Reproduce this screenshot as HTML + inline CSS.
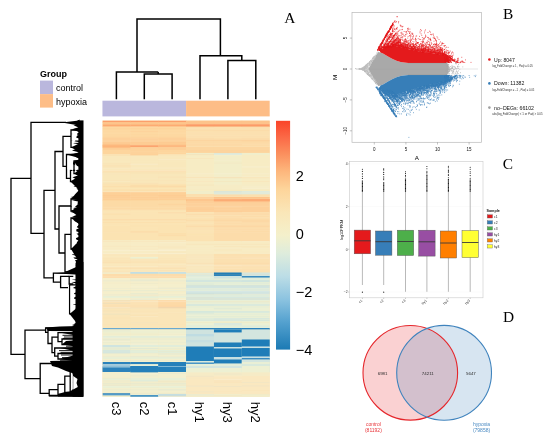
<!DOCTYPE html>
<html lang="en"><head><meta charset="utf-8"><title>Figure</title>
<style>
html,body{margin:0;padding:0;background:#fff;}
body{width:550px;height:441px;overflow:hidden;}
svg{display:block;}
text{font-family:"Liberation Sans",Arial,sans-serif;}
.ser{font-family:"Liberation Serif","Times New Roman",serif;}
</style></head><body>
<svg width="550" height="441" viewBox="0 0 550 441">
<rect x="0" y="0" width="550" height="441" fill="#ffffff"/>

<defs><clipPath id="hclip"><rect x="102.45" y="120.4" width="167.25" height="276.40"/></clipPath></defs>
<g id="heatmap" clip-path="url(#hclip)">
<rect x="101.45" y="119.4" width="169.25" height="278.40" fill="#fbe3b5"/>
<rect x="102.45" y="120.40" width="28.18" height="2.15" fill="#fc9f6b"/>
<rect x="102.45" y="122.20" width="28.18" height="2.65" fill="#fdc58b"/>
<rect x="102.45" y="124.50" width="28.18" height="2.35" fill="#fdab72"/>
<rect x="102.45" y="126.50" width="28.18" height="11.85" fill="#fdd8a1"/>
<rect x="102.45" y="138.00" width="28.18" height="4.35" fill="#fdd09a"/>
<rect x="102.45" y="142.00" width="28.18" height="3.35" fill="#fdca90"/>
<rect x="102.45" y="145.00" width="28.18" height="2.55" fill="#fdb880"/>
<rect x="102.45" y="147.20" width="28.18" height="3.15" fill="#fdcf97"/>
<rect x="102.45" y="150.00" width="28.18" height="4.65" fill="#fdd59d"/>
<rect x="102.45" y="154.30" width="28.18" height="16.05" fill="#f9e8bc"/>
<rect x="102.45" y="170.00" width="28.18" height="2.35" fill="#fbe1b1"/>
<rect x="102.45" y="172.00" width="28.18" height="12.35" fill="#f9e7ba"/>
<rect x="102.45" y="184.00" width="28.18" height="8.35" fill="#fbe1ae"/>
<rect x="102.45" y="192.00" width="28.18" height="8.35" fill="#fdd097"/>
<rect x="102.45" y="200.00" width="28.18" height="10.35" fill="#fcdaa5"/>
<rect x="102.45" y="210.00" width="28.18" height="15.35" fill="#fbe4b4"/>
<rect x="102.45" y="225.00" width="28.18" height="15.35" fill="#fbe3b2"/>
<rect x="102.45" y="240.00" width="28.18" height="14.35" fill="#f8ecc5"/>
<rect x="102.45" y="254.00" width="28.18" height="18.35" fill="#fae7bb"/>
<rect x="102.45" y="272.00" width="28.18" height="2.35" fill="#f3ecc8"/>
<rect x="102.45" y="274.00" width="28.18" height="4.35" fill="#fddcaa"/>
<rect x="102.45" y="278.00" width="28.18" height="18.35" fill="#f5efcc"/>
<rect x="102.45" y="296.00" width="28.18" height="2.35" fill="#eaf0d6"/>
<rect x="102.45" y="298.00" width="28.18" height="2.35" fill="#f5efcc"/>
<rect x="102.45" y="300.00" width="28.18" height="8.35" fill="#fbe2b4"/>
<rect x="102.45" y="308.00" width="28.18" height="20.35" fill="#fae5b8"/>
<rect x="102.45" y="328.00" width="28.18" height="1.65" fill="#6aa9cf"/>
<rect x="102.45" y="329.30" width="28.18" height="7.05" fill="#f0f0d0"/>
<rect x="102.45" y="336.00" width="28.18" height="2.35" fill="#e6efd7"/>
<rect x="102.45" y="338.00" width="28.18" height="7.35" fill="#f1efcf"/>
<rect x="102.45" y="345.00" width="28.18" height="2.35" fill="#e1edda"/>
<rect x="102.45" y="347.00" width="28.18" height="3.35" fill="#f0f0d0"/>
<rect x="102.45" y="350.00" width="28.18" height="3.35" fill="#e3eed9"/>
<rect x="102.45" y="353.00" width="28.18" height="4.35" fill="#f2efce"/>
<rect x="102.45" y="357.00" width="28.18" height="2.35" fill="#e8efd5"/>
<rect x="102.45" y="359.00" width="28.18" height="3.35" fill="#f3efce"/>
<rect x="102.45" y="362.00" width="28.18" height="2.65" fill="#2b82bb"/>
<rect x="102.45" y="364.30" width="28.18" height="2.35" fill="#d5e7de"/>
<rect x="102.45" y="366.30" width="28.18" height="5.65" fill="#2b82bb"/>
<rect x="102.45" y="371.60" width="28.18" height="6.75" fill="#f3efce"/>
<rect x="102.45" y="378.00" width="28.18" height="2.35" fill="#e9efd5"/>
<rect x="102.45" y="380.00" width="28.18" height="6.35" fill="#f4eecb"/>
<rect x="102.45" y="386.00" width="28.18" height="2.35" fill="#eaf0d5"/>
<rect x="102.45" y="388.00" width="28.18" height="5.35" fill="#f3efce"/>
<rect x="102.45" y="393.00" width="28.18" height="4.15" fill="#f0efd0"/>
<rect x="102.45" y="144.50" width="28.18" height="3.05" fill="#fdb57a"/>
<rect x="102.45" y="345.00" width="28.18" height="2.35" fill="#cfe4e0"/>
<rect x="102.45" y="350.00" width="28.18" height="3.35" fill="#d6e7de"/>
<rect x="102.45" y="364.30" width="28.18" height="2.35" fill="#9fc8dc"/>
<rect x="102.45" y="366.30" width="28.18" height="1.65" fill="#8fc0d8"/>
<rect x="102.45" y="367.60" width="28.18" height="4.35" fill="#2b82bb"/>
<rect x="102.45" y="393.00" width="28.18" height="2.35" fill="#4a96c6"/>
<rect x="130.32" y="120.40" width="28.18" height="2.15" fill="#fc9f6b"/>
<rect x="130.32" y="122.20" width="28.18" height="2.65" fill="#fdc58b"/>
<rect x="130.32" y="124.50" width="28.18" height="2.35" fill="#fdab72"/>
<rect x="130.32" y="126.50" width="28.18" height="11.85" fill="#fdd8a1"/>
<rect x="130.32" y="138.00" width="28.18" height="4.35" fill="#fdd09a"/>
<rect x="130.32" y="142.00" width="28.18" height="3.35" fill="#fdca90"/>
<rect x="130.32" y="145.00" width="28.18" height="2.55" fill="#fdb880"/>
<rect x="130.32" y="147.20" width="28.18" height="3.15" fill="#fdcf97"/>
<rect x="130.32" y="150.00" width="28.18" height="4.65" fill="#fdd59d"/>
<rect x="130.32" y="154.30" width="28.18" height="16.05" fill="#f9e8bc"/>
<rect x="130.32" y="170.00" width="28.18" height="2.35" fill="#fbe1b1"/>
<rect x="130.32" y="172.00" width="28.18" height="12.35" fill="#f9e7ba"/>
<rect x="130.32" y="184.00" width="28.18" height="8.35" fill="#fbe1ae"/>
<rect x="130.32" y="192.00" width="28.18" height="8.35" fill="#fdd097"/>
<rect x="130.32" y="200.00" width="28.18" height="10.35" fill="#fcdaa5"/>
<rect x="130.32" y="210.00" width="28.18" height="15.35" fill="#fbe4b4"/>
<rect x="130.32" y="225.00" width="28.18" height="15.35" fill="#fbe3b2"/>
<rect x="130.32" y="240.00" width="28.18" height="14.35" fill="#f8ecc5"/>
<rect x="130.32" y="254.00" width="28.18" height="18.35" fill="#fae7bb"/>
<rect x="130.32" y="272.00" width="28.18" height="2.35" fill="#f3ecc8"/>
<rect x="130.32" y="274.00" width="28.18" height="4.35" fill="#fddcaa"/>
<rect x="130.32" y="278.00" width="28.18" height="18.35" fill="#f5efcc"/>
<rect x="130.32" y="296.00" width="28.18" height="2.35" fill="#eaf0d6"/>
<rect x="130.32" y="298.00" width="28.18" height="2.35" fill="#f5efcc"/>
<rect x="130.32" y="300.00" width="28.18" height="8.35" fill="#fbe2b4"/>
<rect x="130.32" y="308.00" width="28.18" height="20.35" fill="#fae5b8"/>
<rect x="130.32" y="328.00" width="28.18" height="1.65" fill="#6aa9cf"/>
<rect x="130.32" y="329.30" width="28.18" height="7.05" fill="#f0f0d0"/>
<rect x="130.32" y="336.00" width="28.18" height="2.35" fill="#e6efd7"/>
<rect x="130.32" y="338.00" width="28.18" height="7.35" fill="#f1efcf"/>
<rect x="130.32" y="345.00" width="28.18" height="2.35" fill="#e1edda"/>
<rect x="130.32" y="347.00" width="28.18" height="3.35" fill="#f0f0d0"/>
<rect x="130.32" y="350.00" width="28.18" height="3.35" fill="#e3eed9"/>
<rect x="130.32" y="353.00" width="28.18" height="4.35" fill="#f2efce"/>
<rect x="130.32" y="357.00" width="28.18" height="2.35" fill="#e8efd5"/>
<rect x="130.32" y="359.00" width="28.18" height="3.35" fill="#f3efce"/>
<rect x="130.32" y="362.00" width="28.18" height="2.65" fill="#2b82bb"/>
<rect x="130.32" y="364.30" width="28.18" height="2.35" fill="#d5e7de"/>
<rect x="130.32" y="366.30" width="28.18" height="5.65" fill="#2b82bb"/>
<rect x="130.32" y="371.60" width="28.18" height="6.75" fill="#f3efce"/>
<rect x="130.32" y="378.00" width="28.18" height="2.35" fill="#e9efd5"/>
<rect x="130.32" y="380.00" width="28.18" height="6.35" fill="#f4eecb"/>
<rect x="130.32" y="386.00" width="28.18" height="2.35" fill="#eaf0d5"/>
<rect x="130.32" y="388.00" width="28.18" height="5.35" fill="#f3efce"/>
<rect x="130.32" y="393.00" width="28.18" height="4.15" fill="#f0efd0"/>
<rect x="130.32" y="145.00" width="28.18" height="2.55" fill="#fca36c"/>
<rect x="130.32" y="147.20" width="28.18" height="8.15" fill="#fdd29a"/>
<rect x="130.32" y="257.00" width="28.18" height="1.85" fill="#eef0d2"/>
<rect x="130.32" y="272.00" width="28.18" height="1.75" fill="#bcdbe2"/>
<rect x="130.32" y="364.30" width="28.18" height="2.05" fill="#e6efd8"/>
<rect x="130.32" y="366.00" width="28.18" height="6.35" fill="#2580ba"/>
<rect x="130.32" y="395.00" width="28.18" height="2.15" fill="#3f90c3"/>
<rect x="130.32" y="380.00" width="28.18" height="1.35" fill="#e3eed9"/>
<rect x="158.20" y="120.40" width="28.18" height="2.15" fill="#fc9f6b"/>
<rect x="158.20" y="122.20" width="28.18" height="2.65" fill="#fdc58b"/>
<rect x="158.20" y="124.50" width="28.18" height="2.35" fill="#fdab72"/>
<rect x="158.20" y="126.50" width="28.18" height="11.85" fill="#fdd8a1"/>
<rect x="158.20" y="138.00" width="28.18" height="4.35" fill="#fdd09a"/>
<rect x="158.20" y="142.00" width="28.18" height="3.35" fill="#fdca90"/>
<rect x="158.20" y="145.00" width="28.18" height="2.55" fill="#fdb880"/>
<rect x="158.20" y="147.20" width="28.18" height="3.15" fill="#fdcf97"/>
<rect x="158.20" y="150.00" width="28.18" height="4.65" fill="#fdd59d"/>
<rect x="158.20" y="154.30" width="28.18" height="16.05" fill="#f9e8bc"/>
<rect x="158.20" y="170.00" width="28.18" height="2.35" fill="#fbe1b1"/>
<rect x="158.20" y="172.00" width="28.18" height="12.35" fill="#f9e7ba"/>
<rect x="158.20" y="184.00" width="28.18" height="8.35" fill="#fbe1ae"/>
<rect x="158.20" y="192.00" width="28.18" height="8.35" fill="#fdd097"/>
<rect x="158.20" y="200.00" width="28.18" height="10.35" fill="#fcdaa5"/>
<rect x="158.20" y="210.00" width="28.18" height="15.35" fill="#fbe4b4"/>
<rect x="158.20" y="225.00" width="28.18" height="15.35" fill="#fbe3b2"/>
<rect x="158.20" y="240.00" width="28.18" height="14.35" fill="#f8ecc5"/>
<rect x="158.20" y="254.00" width="28.18" height="18.35" fill="#fae7bb"/>
<rect x="158.20" y="272.00" width="28.18" height="2.35" fill="#f3ecc8"/>
<rect x="158.20" y="274.00" width="28.18" height="4.35" fill="#fddcaa"/>
<rect x="158.20" y="278.00" width="28.18" height="18.35" fill="#f5efcc"/>
<rect x="158.20" y="296.00" width="28.18" height="2.35" fill="#eaf0d6"/>
<rect x="158.20" y="298.00" width="28.18" height="2.35" fill="#f5efcc"/>
<rect x="158.20" y="300.00" width="28.18" height="8.35" fill="#fbe2b4"/>
<rect x="158.20" y="308.00" width="28.18" height="20.35" fill="#fae5b8"/>
<rect x="158.20" y="328.00" width="28.18" height="1.65" fill="#6aa9cf"/>
<rect x="158.20" y="329.30" width="28.18" height="7.05" fill="#f0f0d0"/>
<rect x="158.20" y="336.00" width="28.18" height="2.35" fill="#e6efd7"/>
<rect x="158.20" y="338.00" width="28.18" height="7.35" fill="#f1efcf"/>
<rect x="158.20" y="345.00" width="28.18" height="2.35" fill="#e1edda"/>
<rect x="158.20" y="347.00" width="28.18" height="3.35" fill="#f0f0d0"/>
<rect x="158.20" y="350.00" width="28.18" height="3.35" fill="#e3eed9"/>
<rect x="158.20" y="353.00" width="28.18" height="4.35" fill="#f2efce"/>
<rect x="158.20" y="357.00" width="28.18" height="2.35" fill="#e8efd5"/>
<rect x="158.20" y="359.00" width="28.18" height="3.35" fill="#f3efce"/>
<rect x="158.20" y="362.00" width="28.18" height="2.65" fill="#2b82bb"/>
<rect x="158.20" y="364.30" width="28.18" height="2.35" fill="#d5e7de"/>
<rect x="158.20" y="366.30" width="28.18" height="5.65" fill="#2b82bb"/>
<rect x="158.20" y="371.60" width="28.18" height="6.75" fill="#f3efce"/>
<rect x="158.20" y="378.00" width="28.18" height="2.35" fill="#e9efd5"/>
<rect x="158.20" y="380.00" width="28.18" height="6.35" fill="#f4eecb"/>
<rect x="158.20" y="386.00" width="28.18" height="2.35" fill="#eaf0d5"/>
<rect x="158.20" y="388.00" width="28.18" height="5.35" fill="#f3efce"/>
<rect x="158.20" y="393.00" width="28.18" height="4.15" fill="#f0efd0"/>
<rect x="158.20" y="272.00" width="28.18" height="1.75" fill="#c4dee1"/>
<rect x="158.20" y="300.00" width="28.18" height="8.35" fill="#fdd9a6"/>
<rect x="158.20" y="362.00" width="28.18" height="4.35" fill="#2580ba"/>
<rect x="158.20" y="366.00" width="28.18" height="1.35" fill="#7db6d5"/>
<rect x="158.20" y="367.00" width="28.18" height="4.95" fill="#2580ba"/>
<rect x="158.20" y="394.00" width="28.18" height="2.35" fill="#c4dee1"/>
<rect x="186.07" y="120.40" width="28.18" height="4.25" fill="#fdc38b"/>
<rect x="186.07" y="124.30" width="28.18" height="2.65" fill="#fc9b67"/>
<rect x="186.07" y="126.60" width="28.18" height="13.75" fill="#fbe0b0"/>
<rect x="186.07" y="140.00" width="28.18" height="7.35" fill="#fcdaa6"/>
<rect x="186.07" y="147.00" width="28.18" height="6.35" fill="#fcd6a0"/>
<rect x="186.07" y="153.00" width="28.18" height="2.35" fill="#f1eecb"/>
<rect x="186.07" y="155.00" width="28.18" height="29.35" fill="#f7ecc4"/>
<rect x="186.07" y="184.00" width="28.18" height="7.35" fill="#f6ecc5"/>
<rect x="186.07" y="191.00" width="28.18" height="3.35" fill="#f1edc9"/>
<rect x="186.07" y="194.00" width="28.18" height="3.35" fill="#fbdfae"/>
<rect x="186.07" y="197.00" width="28.18" height="2.35" fill="#fdc389"/>
<rect x="186.07" y="199.00" width="28.18" height="2.35" fill="#fdb67c"/>
<rect x="186.07" y="201.00" width="28.18" height="11.35" fill="#fdd09a"/>
<rect x="186.07" y="212.00" width="28.18" height="29.35" fill="#fcdcaa"/>
<rect x="186.07" y="241.00" width="28.18" height="13.35" fill="#f8ebc3"/>
<rect x="186.07" y="254.00" width="28.18" height="18.85" fill="#fae3b6"/>
<rect x="186.07" y="272.50" width="28.18" height="3.85" fill="#e2eddc"/>
<rect x="186.07" y="276.00" width="28.18" height="4.35" fill="#e3eedb"/>
<rect x="186.07" y="280.00" width="28.18" height="2.35" fill="#d3e6df"/>
<rect x="186.07" y="282.00" width="28.18" height="3.35" fill="#e6efd8"/>
<rect x="186.07" y="285.00" width="28.18" height="3.35" fill="#d2e5e0"/>
<rect x="186.07" y="288.00" width="28.18" height="3.35" fill="#e2eddb"/>
<rect x="186.07" y="291.00" width="28.18" height="3.35" fill="#d0e4e0"/>
<rect x="186.07" y="294.00" width="28.18" height="3.35" fill="#dfecdc"/>
<rect x="186.07" y="297.00" width="28.18" height="3.35" fill="#d6e7de"/>
<rect x="186.07" y="300.00" width="28.18" height="4.35" fill="#e9efd6"/>
<rect x="186.07" y="304.00" width="28.18" height="2.35" fill="#dbeadc"/>
<rect x="186.07" y="306.00" width="28.18" height="5.35" fill="#ecf0d4"/>
<rect x="186.07" y="311.00" width="28.18" height="2.35" fill="#dcebdc"/>
<rect x="186.07" y="313.00" width="28.18" height="5.35" fill="#ebf0d4"/>
<rect x="186.07" y="318.00" width="28.18" height="3.35" fill="#e0ecda"/>
<rect x="186.07" y="321.00" width="28.18" height="4.35" fill="#ecf0d3"/>
<rect x="186.07" y="325.00" width="28.18" height="3.35" fill="#e3eed9"/>
<rect x="186.07" y="328.00" width="28.18" height="1.95" fill="#2b82bb"/>
<rect x="186.07" y="329.60" width="28.18" height="42.75" fill="#d3e5df"/>
<rect x="186.07" y="372.00" width="28.18" height="4.35" fill="#f6ebc6"/>
<rect x="186.07" y="376.00" width="28.18" height="18.35" fill="#fae8c0"/>
<rect x="186.07" y="394.00" width="28.18" height="3.15" fill="#f1edcb"/>
<rect x="186.07" y="197.00" width="28.18" height="2.35" fill="#fdd09a"/>
<rect x="186.07" y="199.00" width="28.18" height="2.35" fill="#fdc78e"/>
<rect x="186.07" y="212.00" width="28.18" height="29.35" fill="#fbe2b2"/>
<rect x="186.07" y="254.00" width="28.18" height="18.85" fill="#f9e7bd"/>
<rect x="186.07" y="329.60" width="28.18" height="17.25" fill="#cfe3df"/>
<rect x="186.07" y="334.00" width="28.18" height="2.35" fill="#bfdce2"/>
<rect x="186.07" y="340.00" width="28.18" height="2.35" fill="#c6dfe1"/>
<rect x="186.07" y="346.50" width="28.18" height="14.85" fill="#1f7db8"/>
<rect x="186.07" y="361.00" width="28.18" height="1.85" fill="#d9e9dc"/>
<rect x="186.07" y="362.50" width="28.18" height="1.85" fill="#4a96c6"/>
<rect x="186.07" y="364.00" width="28.18" height="2.35" fill="#e6efd8"/>
<rect x="186.07" y="366.00" width="28.18" height="2.35" fill="#d3e5df"/>
<rect x="186.07" y="368.00" width="28.18" height="4.35" fill="#edf0d3"/>
<rect x="213.95" y="120.40" width="28.18" height="4.25" fill="#fdc38b"/>
<rect x="213.95" y="124.30" width="28.18" height="2.65" fill="#fc9b67"/>
<rect x="213.95" y="126.60" width="28.18" height="13.75" fill="#fbe0b0"/>
<rect x="213.95" y="140.00" width="28.18" height="7.35" fill="#fcdaa6"/>
<rect x="213.95" y="147.00" width="28.18" height="6.35" fill="#fcd6a0"/>
<rect x="213.95" y="153.00" width="28.18" height="2.35" fill="#f1eecb"/>
<rect x="213.95" y="155.00" width="28.18" height="29.35" fill="#f7ecc4"/>
<rect x="213.95" y="184.00" width="28.18" height="7.35" fill="#f6ecc5"/>
<rect x="213.95" y="191.00" width="28.18" height="3.35" fill="#f1edc9"/>
<rect x="213.95" y="194.00" width="28.18" height="3.35" fill="#fbdfae"/>
<rect x="213.95" y="197.00" width="28.18" height="2.35" fill="#fdc389"/>
<rect x="213.95" y="199.00" width="28.18" height="2.35" fill="#fdb67c"/>
<rect x="213.95" y="201.00" width="28.18" height="11.35" fill="#fdd09a"/>
<rect x="213.95" y="212.00" width="28.18" height="29.35" fill="#fcdcaa"/>
<rect x="213.95" y="241.00" width="28.18" height="13.35" fill="#f8ebc3"/>
<rect x="213.95" y="254.00" width="28.18" height="18.85" fill="#fae3b6"/>
<rect x="213.95" y="272.50" width="28.18" height="3.85" fill="#e2eddc"/>
<rect x="213.95" y="276.00" width="28.18" height="4.35" fill="#e3eedb"/>
<rect x="213.95" y="280.00" width="28.18" height="2.35" fill="#d3e6df"/>
<rect x="213.95" y="282.00" width="28.18" height="3.35" fill="#e6efd8"/>
<rect x="213.95" y="285.00" width="28.18" height="3.35" fill="#d2e5e0"/>
<rect x="213.95" y="288.00" width="28.18" height="3.35" fill="#e2eddb"/>
<rect x="213.95" y="291.00" width="28.18" height="3.35" fill="#d0e4e0"/>
<rect x="213.95" y="294.00" width="28.18" height="3.35" fill="#dfecdc"/>
<rect x="213.95" y="297.00" width="28.18" height="3.35" fill="#d6e7de"/>
<rect x="213.95" y="300.00" width="28.18" height="4.35" fill="#e9efd6"/>
<rect x="213.95" y="304.00" width="28.18" height="2.35" fill="#dbeadc"/>
<rect x="213.95" y="306.00" width="28.18" height="5.35" fill="#ecf0d4"/>
<rect x="213.95" y="311.00" width="28.18" height="2.35" fill="#dcebdc"/>
<rect x="213.95" y="313.00" width="28.18" height="5.35" fill="#ebf0d4"/>
<rect x="213.95" y="318.00" width="28.18" height="3.35" fill="#e0ecda"/>
<rect x="213.95" y="321.00" width="28.18" height="4.35" fill="#ecf0d3"/>
<rect x="213.95" y="325.00" width="28.18" height="3.35" fill="#e3eed9"/>
<rect x="213.95" y="328.00" width="28.18" height="1.95" fill="#2b82bb"/>
<rect x="213.95" y="329.60" width="28.18" height="42.75" fill="#d3e5df"/>
<rect x="213.95" y="372.00" width="28.18" height="4.35" fill="#f6ebc6"/>
<rect x="213.95" y="376.00" width="28.18" height="18.35" fill="#fae8c0"/>
<rect x="213.95" y="394.00" width="28.18" height="3.15" fill="#f1edcb"/>
<rect x="213.95" y="153.00" width="28.18" height="2.35" fill="#dfeadb"/>
<rect x="213.95" y="155.00" width="28.18" height="29.35" fill="#f3eec9"/>
<rect x="213.95" y="191.00" width="28.18" height="3.35" fill="#d9e8dd"/>
<rect x="213.95" y="199.00" width="28.18" height="2.35" fill="#fcab74"/>
<rect x="213.95" y="254.00" width="28.18" height="18.85" fill="#fbe0b0"/>
<rect x="213.95" y="272.50" width="28.18" height="3.85" fill="#1f7db8"/>
<rect x="213.95" y="276.00" width="28.18" height="2.35" fill="#cfe3df"/>
<rect x="213.95" y="318.00" width="28.18" height="2.35" fill="#dbe9dd"/>
<rect x="213.95" y="323.00" width="28.18" height="2.35" fill="#dbe9dd"/>
<rect x="213.95" y="329.60" width="28.18" height="3.25" fill="#1f7db8"/>
<rect x="213.95" y="332.50" width="28.18" height="10.35" fill="#d3e5df"/>
<rect x="213.95" y="342.50" width="28.18" height="4.85" fill="#1f7db8"/>
<rect x="213.95" y="347.00" width="28.18" height="1.85" fill="#c8e0e1"/>
<rect x="213.95" y="348.50" width="28.18" height="8.85" fill="#1f7db8"/>
<rect x="213.95" y="357.00" width="28.18" height="2.85" fill="#c5dfe2"/>
<rect x="213.95" y="359.50" width="28.18" height="4.35" fill="#1f7db8"/>
<rect x="213.95" y="363.50" width="28.18" height="2.85" fill="#e2edda"/>
<rect x="213.95" y="366.00" width="28.18" height="2.35" fill="#d3e5df"/>
<rect x="213.95" y="368.00" width="28.18" height="4.35" fill="#edf0d3"/>
<rect x="241.82" y="120.40" width="28.18" height="4.25" fill="#fdc38b"/>
<rect x="241.82" y="124.30" width="28.18" height="2.65" fill="#fc9b67"/>
<rect x="241.82" y="126.60" width="28.18" height="13.75" fill="#fbe0b0"/>
<rect x="241.82" y="140.00" width="28.18" height="7.35" fill="#fcdaa6"/>
<rect x="241.82" y="147.00" width="28.18" height="6.35" fill="#fcd6a0"/>
<rect x="241.82" y="153.00" width="28.18" height="2.35" fill="#f1eecb"/>
<rect x="241.82" y="155.00" width="28.18" height="29.35" fill="#f7ecc4"/>
<rect x="241.82" y="184.00" width="28.18" height="7.35" fill="#f6ecc5"/>
<rect x="241.82" y="191.00" width="28.18" height="3.35" fill="#f1edc9"/>
<rect x="241.82" y="194.00" width="28.18" height="3.35" fill="#fbdfae"/>
<rect x="241.82" y="197.00" width="28.18" height="2.35" fill="#fdc389"/>
<rect x="241.82" y="199.00" width="28.18" height="2.35" fill="#fdb67c"/>
<rect x="241.82" y="201.00" width="28.18" height="11.35" fill="#fdd09a"/>
<rect x="241.82" y="212.00" width="28.18" height="29.35" fill="#fcdcaa"/>
<rect x="241.82" y="241.00" width="28.18" height="13.35" fill="#f8ebc3"/>
<rect x="241.82" y="254.00" width="28.18" height="18.85" fill="#fae3b6"/>
<rect x="241.82" y="272.50" width="28.18" height="3.85" fill="#e2eddc"/>
<rect x="241.82" y="276.00" width="28.18" height="4.35" fill="#e3eedb"/>
<rect x="241.82" y="280.00" width="28.18" height="2.35" fill="#d3e6df"/>
<rect x="241.82" y="282.00" width="28.18" height="3.35" fill="#e6efd8"/>
<rect x="241.82" y="285.00" width="28.18" height="3.35" fill="#d2e5e0"/>
<rect x="241.82" y="288.00" width="28.18" height="3.35" fill="#e2eddb"/>
<rect x="241.82" y="291.00" width="28.18" height="3.35" fill="#d0e4e0"/>
<rect x="241.82" y="294.00" width="28.18" height="3.35" fill="#dfecdc"/>
<rect x="241.82" y="297.00" width="28.18" height="3.35" fill="#d6e7de"/>
<rect x="241.82" y="300.00" width="28.18" height="4.35" fill="#e9efd6"/>
<rect x="241.82" y="304.00" width="28.18" height="2.35" fill="#dbeadc"/>
<rect x="241.82" y="306.00" width="28.18" height="5.35" fill="#ecf0d4"/>
<rect x="241.82" y="311.00" width="28.18" height="2.35" fill="#dcebdc"/>
<rect x="241.82" y="313.00" width="28.18" height="5.35" fill="#ebf0d4"/>
<rect x="241.82" y="318.00" width="28.18" height="3.35" fill="#e0ecda"/>
<rect x="241.82" y="321.00" width="28.18" height="4.35" fill="#ecf0d3"/>
<rect x="241.82" y="325.00" width="28.18" height="3.35" fill="#e3eed9"/>
<rect x="241.82" y="328.00" width="28.18" height="1.95" fill="#2b82bb"/>
<rect x="241.82" y="329.60" width="28.18" height="42.75" fill="#d3e5df"/>
<rect x="241.82" y="372.00" width="28.18" height="4.35" fill="#f6ebc6"/>
<rect x="241.82" y="376.00" width="28.18" height="18.35" fill="#fae8c0"/>
<rect x="241.82" y="394.00" width="28.18" height="3.15" fill="#f1edcb"/>
<rect x="241.82" y="191.00" width="28.18" height="3.35" fill="#dfeadb"/>
<rect x="241.82" y="199.00" width="28.18" height="2.35" fill="#fcab74"/>
<rect x="241.82" y="254.00" width="28.18" height="18.85" fill="#fbe0b0"/>
<rect x="241.82" y="272.50" width="28.18" height="3.85" fill="#d5e6de"/>
<rect x="241.82" y="276.00" width="28.18" height="1.55" fill="#3a8cc0"/>
<rect x="241.82" y="329.60" width="28.18" height="10.25" fill="#d3e5df"/>
<rect x="241.82" y="339.50" width="28.18" height="7.35" fill="#1f7db8"/>
<rect x="241.82" y="346.50" width="28.18" height="1.85" fill="#c8e0e1"/>
<rect x="241.82" y="348.00" width="28.18" height="8.85" fill="#1f7db8"/>
<rect x="241.82" y="356.50" width="28.18" height="1.85" fill="#c8e0e1"/>
<rect x="241.82" y="358.00" width="28.18" height="1.85" fill="#3a8cc0"/>
<rect x="241.82" y="359.50" width="28.18" height="2.85" fill="#d3e5df"/>
<rect x="241.82" y="362.00" width="28.18" height="2.35" fill="#e9efd5"/>
<rect x="241.82" y="364.00" width="28.18" height="2.35" fill="#d9e9dc"/>
<rect x="241.82" y="366.00" width="28.18" height="6.35" fill="#eef0d2"/>
<rect x="102.45" y="128.22" width="83.62" height="0.98" fill="#fdb97f" fill-opacity="0.15"/>
<rect x="102.45" y="130.12" width="83.62" height="1.00" fill="#fff3cf" fill-opacity="0.06"/>
<rect x="102.45" y="132.63" width="83.62" height="0.94" fill="#fff3cf" fill-opacity="0.16"/>
<rect x="102.45" y="136.97" width="83.62" height="0.93" fill="#fdb97f" fill-opacity="0.12"/>
<rect x="102.45" y="140.42" width="83.62" height="1.19" fill="#fff3cf" fill-opacity="0.11"/>
<rect x="102.45" y="142.59" width="83.62" height="0.87" fill="#fff3cf" fill-opacity="0.13"/>
<rect x="102.45" y="144.32" width="83.62" height="1.26" fill="#fff3cf" fill-opacity="0.08"/>
<rect x="102.45" y="154.73" width="83.62" height="0.89" fill="#fdc690" fill-opacity="0.09"/>
<rect x="102.45" y="160.70" width="83.62" height="1.06" fill="#fff6d8" fill-opacity="0.07"/>
<rect x="102.45" y="167.59" width="83.62" height="0.94" fill="#ffffff" fill-opacity="0.13"/>
<rect x="102.45" y="169.99" width="83.62" height="1.37" fill="#ffffff" fill-opacity="0.17"/>
<rect x="102.45" y="172.38" width="83.62" height="1.31" fill="#fdc690" fill-opacity="0.13"/>
<rect x="102.45" y="179.97" width="83.62" height="0.63" fill="#fdc690" fill-opacity="0.07"/>
<rect x="102.45" y="183.84" width="83.62" height="0.98" fill="#fff6d8" fill-opacity="0.12"/>
<rect x="102.45" y="186.04" width="83.62" height="0.62" fill="#fdc690" fill-opacity="0.15"/>
<rect x="102.45" y="188.10" width="83.62" height="1.08" fill="#fff6d8" fill-opacity="0.16"/>
<rect x="102.45" y="191.15" width="83.62" height="1.18" fill="#ffffff" fill-opacity="0.16"/>
<rect x="102.45" y="195.03" width="83.62" height="1.07" fill="#fdb97f" fill-opacity="0.14"/>
<rect x="102.45" y="197.43" width="83.62" height="0.71" fill="#fdb97f" fill-opacity="0.07"/>
<rect x="102.45" y="198.38" width="83.62" height="0.96" fill="#fff3cf" fill-opacity="0.13"/>
<rect x="102.45" y="199.71" width="83.62" height="1.03" fill="#fdb97f" fill-opacity="0.16"/>
<rect x="102.45" y="206.57" width="83.62" height="1.34" fill="#fff3cf" fill-opacity="0.10"/>
<rect x="102.45" y="208.90" width="83.62" height="1.28" fill="#fff3cf" fill-opacity="0.13"/>
<rect x="102.45" y="211.43" width="83.62" height="0.80" fill="#fff3cf" fill-opacity="0.16"/>
<rect x="102.45" y="212.84" width="83.62" height="1.00" fill="#fff3cf" fill-opacity="0.07"/>
<rect x="102.45" y="219.23" width="83.62" height="1.05" fill="#fdb97f" fill-opacity="0.17"/>
<rect x="102.45" y="222.18" width="83.62" height="0.66" fill="#fdb97f" fill-opacity="0.12"/>
<rect x="102.45" y="231.84" width="83.62" height="0.86" fill="#fff3cf" fill-opacity="0.07"/>
<rect x="102.45" y="240.82" width="83.62" height="1.15" fill="#fdc690" fill-opacity="0.10"/>
<rect x="102.45" y="245.87" width="83.62" height="0.61" fill="#fdc690" fill-opacity="0.16"/>
<rect x="102.45" y="247.68" width="83.62" height="0.67" fill="#fff6d8" fill-opacity="0.09"/>
<rect x="102.45" y="249.87" width="83.62" height="1.19" fill="#ffffff" fill-opacity="0.17"/>
<rect x="102.45" y="253.16" width="83.62" height="1.07" fill="#ffffff" fill-opacity="0.16"/>
<rect x="102.45" y="256.10" width="83.62" height="1.14" fill="#fff6d8" fill-opacity="0.14"/>
<rect x="102.45" y="258.45" width="83.62" height="0.73" fill="#fdc690" fill-opacity="0.11"/>
<rect x="102.45" y="260.23" width="83.62" height="0.82" fill="#fdc690" fill-opacity="0.13"/>
<rect x="102.45" y="261.40" width="83.62" height="1.38" fill="#fdc690" fill-opacity="0.15"/>
<rect x="102.45" y="264.29" width="83.62" height="1.16" fill="#fff6d8" fill-opacity="0.12"/>
<rect x="102.45" y="266.21" width="83.62" height="0.95" fill="#ffffff" fill-opacity="0.16"/>
<rect x="102.45" y="267.57" width="83.62" height="1.38" fill="#fdc690" fill-opacity="0.16"/>
<rect x="102.45" y="271.72" width="83.62" height="1.02" fill="#ffffff" fill-opacity="0.11"/>
<rect x="102.45" y="276.33" width="83.62" height="1.07" fill="#ffffff" fill-opacity="0.13"/>
<rect x="102.45" y="280.23" width="83.62" height="1.13" fill="#c5dfe6" fill-opacity="0.15"/>
<rect x="102.45" y="282.41" width="83.62" height="1.10" fill="#fdd49e" fill-opacity="0.08"/>
<rect x="102.45" y="288.05" width="83.62" height="0.88" fill="#c5dfe6" fill-opacity="0.09"/>
<rect x="102.45" y="290.24" width="83.62" height="0.92" fill="#a9d1e4" fill-opacity="0.16"/>
<rect x="102.45" y="294.26" width="83.62" height="1.02" fill="#a9d1e4" fill-opacity="0.08"/>
<rect x="102.45" y="295.54" width="83.62" height="0.88" fill="#a9d1e4" fill-opacity="0.06"/>
<rect x="102.45" y="298.93" width="83.62" height="0.62" fill="#ffffff" fill-opacity="0.08"/>
<rect x="102.45" y="300.84" width="83.62" height="1.32" fill="#ffffff" fill-opacity="0.17"/>
<rect x="102.45" y="305.57" width="83.62" height="0.61" fill="#fdd49e" fill-opacity="0.13"/>
<rect x="102.45" y="307.44" width="83.62" height="1.12" fill="#c5dfe6" fill-opacity="0.08"/>
<rect x="102.45" y="312.43" width="83.62" height="1.31" fill="#ffffff" fill-opacity="0.09"/>
<rect x="102.45" y="324.24" width="83.62" height="1.03" fill="#fdd49e" fill-opacity="0.07"/>
<rect x="102.45" y="331.61" width="83.62" height="0.81" fill="#c5dfe6" fill-opacity="0.08"/>
<rect x="102.45" y="333.72" width="83.62" height="0.87" fill="#fdd49e" fill-opacity="0.14"/>
<rect x="102.45" y="335.81" width="83.62" height="1.39" fill="#c5dfe6" fill-opacity="0.06"/>
<rect x="102.45" y="338.50" width="83.62" height="1.29" fill="#c5dfe6" fill-opacity="0.08"/>
<rect x="102.45" y="342.37" width="83.62" height="0.64" fill="#a9d1e4" fill-opacity="0.11"/>
<rect x="102.45" y="348.22" width="83.62" height="0.90" fill="#c5dfe6" fill-opacity="0.15"/>
<rect x="102.45" y="352.82" width="83.62" height="0.66" fill="#a9d1e4" fill-opacity="0.08"/>
<rect x="102.45" y="356.27" width="83.62" height="0.77" fill="#c5dfe6" fill-opacity="0.14"/>
<rect x="102.45" y="360.06" width="83.62" height="1.02" fill="#a9d1e4" fill-opacity="0.09"/>
<rect x="102.45" y="380.36" width="83.62" height="1.20" fill="#a9d1e4" fill-opacity="0.08"/>
<rect x="102.45" y="382.88" width="83.62" height="0.86" fill="#a9d1e4" fill-opacity="0.17"/>
<rect x="102.45" y="384.58" width="83.62" height="0.76" fill="#a9d1e4" fill-opacity="0.15"/>
<rect x="102.45" y="385.85" width="83.62" height="0.69" fill="#ffffff" fill-opacity="0.13"/>
<rect x="102.45" y="389.22" width="83.62" height="1.05" fill="#c5dfe6" fill-opacity="0.12"/>
<rect x="102.45" y="392.85" width="83.62" height="0.84" fill="#fdd49e" fill-opacity="0.16"/>
<rect x="102.45" y="394.48" width="83.62" height="1.06" fill="#c5dfe6" fill-opacity="0.14"/>
<rect x="186.07" y="130.04" width="83.62" height="1.02" fill="#fdb97f" fill-opacity="0.10"/>
<rect x="186.07" y="134.94" width="83.62" height="1.26" fill="#fff3cf" fill-opacity="0.08"/>
<rect x="186.07" y="138.34" width="83.62" height="0.79" fill="#fdb97f" fill-opacity="0.12"/>
<rect x="186.07" y="139.48" width="83.62" height="1.38" fill="#fdb97f" fill-opacity="0.14"/>
<rect x="186.07" y="143.03" width="83.62" height="1.22" fill="#fff3cf" fill-opacity="0.08"/>
<rect x="186.07" y="145.93" width="83.62" height="1.13" fill="#fff3cf" fill-opacity="0.17"/>
<rect x="186.07" y="150.58" width="83.62" height="0.89" fill="#fdb97f" fill-opacity="0.16"/>
<rect x="186.07" y="173.19" width="83.62" height="1.13" fill="#ffffff" fill-opacity="0.12"/>
<rect x="186.07" y="176.19" width="83.62" height="0.69" fill="#ffffff" fill-opacity="0.13"/>
<rect x="186.07" y="177.23" width="83.62" height="1.01" fill="#fdc690" fill-opacity="0.16"/>
<rect x="186.07" y="181.04" width="83.62" height="0.82" fill="#fdc690" fill-opacity="0.15"/>
<rect x="186.07" y="189.69" width="83.62" height="1.23" fill="#fdc690" fill-opacity="0.06"/>
<rect x="186.07" y="192.23" width="83.62" height="1.15" fill="#fff3cf" fill-opacity="0.15"/>
<rect x="186.07" y="197.98" width="83.62" height="1.21" fill="#fff3cf" fill-opacity="0.09"/>
<rect x="186.07" y="199.75" width="83.62" height="0.77" fill="#fdb97f" fill-opacity="0.14"/>
<rect x="186.07" y="201.74" width="83.62" height="0.80" fill="#fdb97f" fill-opacity="0.15"/>
<rect x="186.07" y="205.63" width="83.62" height="1.32" fill="#fff3cf" fill-opacity="0.14"/>
<rect x="186.07" y="212.20" width="83.62" height="1.17" fill="#fff3cf" fill-opacity="0.15"/>
<rect x="186.07" y="214.84" width="83.62" height="1.09" fill="#fff3cf" fill-opacity="0.17"/>
<rect x="186.07" y="216.86" width="83.62" height="1.18" fill="#fff3cf" fill-opacity="0.16"/>
<rect x="186.07" y="219.62" width="83.62" height="1.37" fill="#fdb97f" fill-opacity="0.10"/>
<rect x="186.07" y="222.04" width="83.62" height="0.92" fill="#fff3cf" fill-opacity="0.09"/>
<rect x="186.07" y="225.68" width="83.62" height="1.34" fill="#fdb97f" fill-opacity="0.13"/>
<rect x="186.07" y="228.01" width="83.62" height="1.22" fill="#fff3cf" fill-opacity="0.07"/>
<rect x="186.07" y="230.17" width="83.62" height="0.64" fill="#fff3cf" fill-opacity="0.16"/>
<rect x="186.07" y="231.65" width="83.62" height="0.98" fill="#fff3cf" fill-opacity="0.13"/>
<rect x="186.07" y="243.83" width="83.62" height="1.18" fill="#fdc690" fill-opacity="0.11"/>
<rect x="186.07" y="245.96" width="83.62" height="0.80" fill="#fff6d8" fill-opacity="0.13"/>
<rect x="186.07" y="247.83" width="83.62" height="0.69" fill="#ffffff" fill-opacity="0.08"/>
<rect x="186.07" y="249.48" width="83.62" height="1.16" fill="#fff6d8" fill-opacity="0.12"/>
<rect x="186.07" y="256.39" width="83.62" height="1.09" fill="#ffffff" fill-opacity="0.06"/>
<rect x="186.07" y="258.10" width="83.62" height="0.90" fill="#fff6d8" fill-opacity="0.13"/>
<rect x="186.07" y="262.85" width="83.62" height="1.14" fill="#fdc690" fill-opacity="0.12"/>
<rect x="186.07" y="264.90" width="83.62" height="0.81" fill="#ffffff" fill-opacity="0.16"/>
<rect x="186.07" y="267.62" width="83.62" height="1.06" fill="#fff6d8" fill-opacity="0.14"/>
<rect x="186.07" y="273.91" width="83.62" height="0.73" fill="#fdd49e" fill-opacity="0.11"/>
<rect x="186.07" y="274.91" width="83.62" height="0.73" fill="#c5dfe6" fill-opacity="0.13"/>
<rect x="186.07" y="278.07" width="83.62" height="1.14" fill="#a9d1e4" fill-opacity="0.07"/>
<rect x="186.07" y="282.73" width="83.62" height="0.87" fill="#c5dfe6" fill-opacity="0.09"/>
<rect x="186.07" y="284.94" width="83.62" height="1.33" fill="#fdd49e" fill-opacity="0.08"/>
<rect x="186.07" y="288.70" width="83.62" height="0.93" fill="#c5dfe6" fill-opacity="0.14"/>
<rect x="186.07" y="291.07" width="83.62" height="1.24" fill="#ffffff" fill-opacity="0.14"/>
<rect x="186.07" y="293.55" width="83.62" height="1.06" fill="#fdd49e" fill-opacity="0.09"/>
<rect x="186.07" y="298.35" width="83.62" height="1.22" fill="#fdd49e" fill-opacity="0.16"/>
<rect x="186.07" y="301.01" width="83.62" height="1.25" fill="#fdd49e" fill-opacity="0.14"/>
<rect x="186.07" y="306.42" width="83.62" height="1.36" fill="#c5dfe6" fill-opacity="0.10"/>
<rect x="186.07" y="311.02" width="83.62" height="1.10" fill="#c5dfe6" fill-opacity="0.11"/>
<rect x="186.07" y="313.59" width="83.62" height="1.20" fill="#c5dfe6" fill-opacity="0.16"/>
<rect x="186.07" y="315.99" width="83.62" height="1.35" fill="#a9d1e4" fill-opacity="0.09"/>
<rect x="186.07" y="319.78" width="83.62" height="0.87" fill="#a9d1e4" fill-opacity="0.12"/>
<rect x="186.07" y="322.15" width="83.62" height="0.83" fill="#fdd49e" fill-opacity="0.16"/>
<rect x="102.45" y="128.29" width="27.88" height="0.82" fill="#fff3cf" fill-opacity="0.06"/>
<rect x="102.45" y="143.17" width="27.88" height="0.62" fill="#fdb97f" fill-opacity="0.14"/>
<rect x="102.45" y="147.18" width="27.88" height="1.23" fill="#fdb97f" fill-opacity="0.17"/>
<rect x="102.45" y="155.10" width="27.88" height="0.60" fill="#fdc690" fill-opacity="0.16"/>
<rect x="102.45" y="163.41" width="27.88" height="1.14" fill="#fdc690" fill-opacity="0.10"/>
<rect x="102.45" y="165.03" width="27.88" height="1.26" fill="#fdc690" fill-opacity="0.16"/>
<rect x="102.45" y="166.54" width="27.88" height="1.23" fill="#fdc690" fill-opacity="0.13"/>
<rect x="102.45" y="170.34" width="27.88" height="0.72" fill="#fff6d8" fill-opacity="0.07"/>
<rect x="102.45" y="173.08" width="27.88" height="1.28" fill="#fff6d8" fill-opacity="0.11"/>
<rect x="102.45" y="180.98" width="27.88" height="0.94" fill="#ffffff" fill-opacity="0.09"/>
<rect x="102.45" y="182.55" width="27.88" height="1.26" fill="#fdc690" fill-opacity="0.10"/>
<rect x="102.45" y="185.02" width="27.88" height="0.88" fill="#fff6d8" fill-opacity="0.15"/>
<rect x="102.45" y="186.60" width="27.88" height="1.26" fill="#fff6d8" fill-opacity="0.12"/>
<rect x="102.45" y="206.69" width="27.88" height="0.84" fill="#fff3cf" fill-opacity="0.14"/>
<rect x="102.45" y="208.75" width="27.88" height="0.62" fill="#fff3cf" fill-opacity="0.16"/>
<rect x="102.45" y="211.83" width="27.88" height="0.66" fill="#fff3cf" fill-opacity="0.15"/>
<rect x="102.45" y="213.65" width="27.88" height="0.93" fill="#fdb97f" fill-opacity="0.14"/>
<rect x="102.45" y="224.87" width="27.88" height="1.23" fill="#fff3cf" fill-opacity="0.11"/>
<rect x="102.45" y="231.78" width="27.88" height="0.63" fill="#fff3cf" fill-opacity="0.07"/>
<rect x="102.45" y="250.86" width="27.88" height="0.88" fill="#fff6d8" fill-opacity="0.08"/>
<rect x="102.45" y="262.65" width="27.88" height="0.74" fill="#fdc690" fill-opacity="0.08"/>
<rect x="102.45" y="271.51" width="27.88" height="1.28" fill="#fdc690" fill-opacity="0.11"/>
<rect x="102.45" y="300.21" width="27.88" height="1.24" fill="#a9d1e4" fill-opacity="0.09"/>
<rect x="102.45" y="302.94" width="27.88" height="0.71" fill="#a9d1e4" fill-opacity="0.17"/>
<rect x="102.45" y="306.95" width="27.88" height="0.99" fill="#ffffff" fill-opacity="0.15"/>
<rect x="102.45" y="310.68" width="27.88" height="0.89" fill="#c5dfe6" fill-opacity="0.08"/>
<rect x="102.45" y="313.56" width="27.88" height="1.29" fill="#a9d1e4" fill-opacity="0.09"/>
<rect x="102.45" y="317.87" width="27.88" height="0.72" fill="#fdd49e" fill-opacity="0.09"/>
<rect x="102.45" y="330.30" width="27.88" height="1.25" fill="#c5dfe6" fill-opacity="0.14"/>
<rect x="102.45" y="337.08" width="27.88" height="1.33" fill="#ffffff" fill-opacity="0.12"/>
<rect x="102.45" y="339.36" width="27.88" height="1.07" fill="#a9d1e4" fill-opacity="0.11"/>
<rect x="102.45" y="340.98" width="27.88" height="1.17" fill="#ffffff" fill-opacity="0.11"/>
<rect x="102.45" y="348.70" width="27.88" height="1.10" fill="#a9d1e4" fill-opacity="0.17"/>
<rect x="102.45" y="360.50" width="27.88" height="1.34" fill="#c5dfe6" fill-opacity="0.09"/>
<rect x="102.45" y="377.90" width="27.88" height="0.87" fill="#fdd49e" fill-opacity="0.12"/>
<rect x="102.45" y="385.27" width="27.88" height="0.74" fill="#c5dfe6" fill-opacity="0.06"/>
<rect x="130.32" y="126.40" width="27.88" height="0.87" fill="#fff3cf" fill-opacity="0.15"/>
<rect x="130.32" y="130.87" width="27.88" height="1.29" fill="#fdb97f" fill-opacity="0.14"/>
<rect x="130.32" y="133.62" width="27.88" height="0.73" fill="#fdb97f" fill-opacity="0.08"/>
<rect x="130.32" y="138.07" width="27.88" height="1.39" fill="#fff3cf" fill-opacity="0.07"/>
<rect x="130.32" y="145.07" width="27.88" height="1.05" fill="#fff3cf" fill-opacity="0.15"/>
<rect x="130.32" y="146.86" width="27.88" height="1.31" fill="#fff3cf" fill-opacity="0.07"/>
<rect x="130.32" y="151.09" width="27.88" height="1.38" fill="#fff3cf" fill-opacity="0.08"/>
<rect x="130.32" y="163.62" width="27.88" height="1.26" fill="#ffffff" fill-opacity="0.14"/>
<rect x="130.32" y="177.87" width="27.88" height="1.25" fill="#fff6d8" fill-opacity="0.08"/>
<rect x="130.32" y="182.86" width="27.88" height="1.14" fill="#fdc690" fill-opacity="0.11"/>
<rect x="130.32" y="184.92" width="27.88" height="1.28" fill="#fdc690" fill-opacity="0.12"/>
<rect x="130.32" y="190.00" width="27.88" height="0.69" fill="#fdc690" fill-opacity="0.11"/>
<rect x="130.32" y="192.00" width="27.88" height="0.96" fill="#fff6d8" fill-opacity="0.09"/>
<rect x="130.32" y="195.50" width="27.88" height="1.10" fill="#fff3cf" fill-opacity="0.16"/>
<rect x="130.32" y="220.48" width="27.88" height="1.07" fill="#fff3cf" fill-opacity="0.16"/>
<rect x="130.32" y="227.05" width="27.88" height="1.33" fill="#fff3cf" fill-opacity="0.11"/>
<rect x="130.32" y="228.68" width="27.88" height="1.32" fill="#fff3cf" fill-opacity="0.08"/>
<rect x="130.32" y="231.40" width="27.88" height="1.17" fill="#fdb97f" fill-opacity="0.17"/>
<rect x="130.32" y="240.46" width="27.88" height="1.13" fill="#fff6d8" fill-opacity="0.14"/>
<rect x="130.32" y="244.63" width="27.88" height="0.73" fill="#fff6d8" fill-opacity="0.15"/>
<rect x="130.32" y="249.04" width="27.88" height="0.62" fill="#fdc690" fill-opacity="0.09"/>
<rect x="130.32" y="259.67" width="27.88" height="0.87" fill="#ffffff" fill-opacity="0.09"/>
<rect x="130.32" y="265.22" width="27.88" height="1.16" fill="#fff6d8" fill-opacity="0.09"/>
<rect x="130.32" y="273.38" width="27.88" height="1.15" fill="#fdd49e" fill-opacity="0.17"/>
<rect x="130.32" y="276.55" width="27.88" height="1.04" fill="#c5dfe6" fill-opacity="0.07"/>
<rect x="130.32" y="278.04" width="27.88" height="1.03" fill="#fdd49e" fill-opacity="0.08"/>
<rect x="130.32" y="279.37" width="27.88" height="1.16" fill="#a9d1e4" fill-opacity="0.16"/>
<rect x="130.32" y="282.98" width="27.88" height="0.76" fill="#a9d1e4" fill-opacity="0.07"/>
<rect x="130.32" y="286.16" width="27.88" height="1.30" fill="#ffffff" fill-opacity="0.11"/>
<rect x="130.32" y="293.06" width="27.88" height="1.00" fill="#a9d1e4" fill-opacity="0.14"/>
<rect x="130.32" y="295.46" width="27.88" height="0.81" fill="#fdd49e" fill-opacity="0.17"/>
<rect x="130.32" y="297.45" width="27.88" height="0.86" fill="#c5dfe6" fill-opacity="0.13"/>
<rect x="130.32" y="298.82" width="27.88" height="1.11" fill="#a9d1e4" fill-opacity="0.10"/>
<rect x="130.32" y="311.67" width="27.88" height="1.07" fill="#fdd49e" fill-opacity="0.07"/>
<rect x="130.32" y="315.28" width="27.88" height="0.61" fill="#fdd49e" fill-opacity="0.09"/>
<rect x="130.32" y="316.18" width="27.88" height="0.83" fill="#ffffff" fill-opacity="0.15"/>
<rect x="130.32" y="322.37" width="27.88" height="0.82" fill="#c5dfe6" fill-opacity="0.09"/>
<rect x="130.32" y="343.61" width="27.88" height="1.37" fill="#ffffff" fill-opacity="0.12"/>
<rect x="130.32" y="348.40" width="27.88" height="0.64" fill="#a9d1e4" fill-opacity="0.15"/>
<rect x="130.32" y="349.45" width="27.88" height="0.87" fill="#fdd49e" fill-opacity="0.09"/>
<rect x="130.32" y="355.99" width="27.88" height="1.29" fill="#c5dfe6" fill-opacity="0.08"/>
<rect x="130.32" y="373.08" width="27.88" height="1.25" fill="#ffffff" fill-opacity="0.16"/>
<rect x="130.32" y="375.22" width="27.88" height="1.04" fill="#c5dfe6" fill-opacity="0.09"/>
<rect x="130.32" y="387.19" width="27.88" height="0.72" fill="#fdd49e" fill-opacity="0.08"/>
<rect x="130.32" y="393.43" width="27.88" height="0.72" fill="#c5dfe6" fill-opacity="0.13"/>
<rect x="158.20" y="141.13" width="27.88" height="1.30" fill="#fdb97f" fill-opacity="0.08"/>
<rect x="158.20" y="143.95" width="27.88" height="1.21" fill="#fdb97f" fill-opacity="0.14"/>
<rect x="158.20" y="152.17" width="27.88" height="0.82" fill="#fff3cf" fill-opacity="0.09"/>
<rect x="158.20" y="159.06" width="27.88" height="1.17" fill="#ffffff" fill-opacity="0.13"/>
<rect x="158.20" y="176.72" width="27.88" height="0.96" fill="#fdc690" fill-opacity="0.10"/>
<rect x="158.20" y="185.86" width="27.88" height="0.68" fill="#fdc690" fill-opacity="0.16"/>
<rect x="158.20" y="199.61" width="27.88" height="1.15" fill="#fff3cf" fill-opacity="0.07"/>
<rect x="158.20" y="203.78" width="27.88" height="1.25" fill="#fdb97f" fill-opacity="0.15"/>
<rect x="158.20" y="212.11" width="27.88" height="1.24" fill="#fdb97f" fill-opacity="0.12"/>
<rect x="158.20" y="220.28" width="27.88" height="1.17" fill="#fff3cf" fill-opacity="0.08"/>
<rect x="158.20" y="233.03" width="27.88" height="1.37" fill="#fdb97f" fill-opacity="0.09"/>
<rect x="158.20" y="234.79" width="27.88" height="1.36" fill="#fdb97f" fill-opacity="0.15"/>
<rect x="158.20" y="242.34" width="27.88" height="0.68" fill="#ffffff" fill-opacity="0.11"/>
<rect x="158.20" y="244.56" width="27.88" height="0.64" fill="#fff6d8" fill-opacity="0.07"/>
<rect x="158.20" y="247.38" width="27.88" height="0.69" fill="#fdc690" fill-opacity="0.13"/>
<rect x="158.20" y="249.58" width="27.88" height="0.69" fill="#ffffff" fill-opacity="0.16"/>
<rect x="158.20" y="251.50" width="27.88" height="1.17" fill="#fdc690" fill-opacity="0.10"/>
<rect x="158.20" y="255.91" width="27.88" height="1.18" fill="#fdc690" fill-opacity="0.06"/>
<rect x="158.20" y="263.98" width="27.88" height="0.66" fill="#ffffff" fill-opacity="0.10"/>
<rect x="158.20" y="266.11" width="27.88" height="0.84" fill="#fdc690" fill-opacity="0.11"/>
<rect x="158.20" y="270.13" width="27.88" height="0.83" fill="#fdc690" fill-opacity="0.12"/>
<rect x="158.20" y="287.36" width="27.88" height="1.08" fill="#c5dfe6" fill-opacity="0.11"/>
<rect x="158.20" y="289.93" width="27.88" height="0.93" fill="#ffffff" fill-opacity="0.12"/>
<rect x="158.20" y="291.47" width="27.88" height="0.79" fill="#fdd49e" fill-opacity="0.08"/>
<rect x="158.20" y="299.24" width="27.88" height="0.97" fill="#ffffff" fill-opacity="0.17"/>
<rect x="158.20" y="306.91" width="27.88" height="0.76" fill="#a9d1e4" fill-opacity="0.15"/>
<rect x="158.20" y="313.11" width="27.88" height="0.62" fill="#fdd49e" fill-opacity="0.17"/>
<rect x="158.20" y="333.36" width="27.88" height="0.97" fill="#ffffff" fill-opacity="0.12"/>
<rect x="158.20" y="335.32" width="27.88" height="1.07" fill="#ffffff" fill-opacity="0.12"/>
<rect x="158.20" y="348.71" width="27.88" height="1.26" fill="#fdd49e" fill-opacity="0.10"/>
<rect x="158.20" y="351.26" width="27.88" height="0.74" fill="#fdd49e" fill-opacity="0.14"/>
<rect x="158.20" y="353.40" width="27.88" height="1.34" fill="#a9d1e4" fill-opacity="0.13"/>
<rect x="158.20" y="357.05" width="27.88" height="0.85" fill="#c5dfe6" fill-opacity="0.11"/>
<rect x="158.20" y="372.76" width="27.88" height="1.10" fill="#a9d1e4" fill-opacity="0.11"/>
<rect x="158.20" y="380.97" width="27.88" height="1.07" fill="#fdd49e" fill-opacity="0.11"/>
<rect x="158.20" y="389.25" width="27.88" height="1.14" fill="#a9d1e4" fill-opacity="0.07"/>
<rect x="158.20" y="393.80" width="27.88" height="0.85" fill="#c5dfe6" fill-opacity="0.14"/>
<rect x="158.20" y="395.20" width="27.88" height="0.62" fill="#fdd49e" fill-opacity="0.15"/>
<rect x="186.07" y="126.40" width="27.88" height="0.87" fill="#fdb97f" fill-opacity="0.11"/>
<rect x="186.07" y="128.17" width="27.88" height="1.08" fill="#fff3cf" fill-opacity="0.11"/>
<rect x="186.07" y="130.51" width="27.88" height="0.97" fill="#fff3cf" fill-opacity="0.08"/>
<rect x="186.07" y="132.23" width="27.88" height="0.72" fill="#fff3cf" fill-opacity="0.08"/>
<rect x="186.07" y="153.83" width="27.88" height="1.28" fill="#fdb97f" fill-opacity="0.16"/>
<rect x="186.07" y="158.03" width="27.88" height="0.88" fill="#fdc690" fill-opacity="0.13"/>
<rect x="186.07" y="176.40" width="27.88" height="1.07" fill="#fdc690" fill-opacity="0.11"/>
<rect x="186.07" y="177.91" width="27.88" height="0.67" fill="#ffffff" fill-opacity="0.14"/>
<rect x="186.07" y="180.76" width="27.88" height="1.12" fill="#ffffff" fill-opacity="0.06"/>
<rect x="186.07" y="183.13" width="27.88" height="0.88" fill="#fff6d8" fill-opacity="0.08"/>
<rect x="186.07" y="184.39" width="27.88" height="1.35" fill="#fdc690" fill-opacity="0.09"/>
<rect x="186.07" y="190.33" width="27.88" height="0.95" fill="#fff6d8" fill-opacity="0.16"/>
<rect x="186.07" y="196.29" width="27.88" height="1.33" fill="#fff3cf" fill-opacity="0.07"/>
<rect x="186.07" y="200.85" width="27.88" height="0.76" fill="#fff3cf" fill-opacity="0.10"/>
<rect x="186.07" y="202.68" width="27.88" height="0.80" fill="#fff3cf" fill-opacity="0.11"/>
<rect x="186.07" y="208.84" width="27.88" height="1.25" fill="#fdb97f" fill-opacity="0.08"/>
<rect x="186.07" y="211.40" width="27.88" height="1.31" fill="#fff3cf" fill-opacity="0.06"/>
<rect x="186.07" y="213.98" width="27.88" height="1.30" fill="#fdb97f" fill-opacity="0.10"/>
<rect x="186.07" y="223.02" width="27.88" height="0.98" fill="#fff3cf" fill-opacity="0.15"/>
<rect x="186.07" y="229.30" width="27.88" height="1.39" fill="#fff3cf" fill-opacity="0.11"/>
<rect x="186.07" y="231.01" width="27.88" height="1.02" fill="#fff3cf" fill-opacity="0.08"/>
<rect x="186.07" y="233.36" width="27.88" height="1.12" fill="#fff3cf" fill-opacity="0.08"/>
<rect x="186.07" y="234.97" width="27.88" height="0.66" fill="#fff3cf" fill-opacity="0.12"/>
<rect x="186.07" y="241.24" width="27.88" height="0.65" fill="#ffffff" fill-opacity="0.07"/>
<rect x="186.07" y="272.40" width="27.88" height="1.07" fill="#a9d1e4" fill-opacity="0.08"/>
<rect x="186.07" y="275.06" width="27.88" height="1.02" fill="#c5dfe6" fill-opacity="0.10"/>
<rect x="186.07" y="277.33" width="27.88" height="1.08" fill="#ffffff" fill-opacity="0.15"/>
<rect x="186.07" y="278.90" width="27.88" height="0.89" fill="#c5dfe6" fill-opacity="0.10"/>
<rect x="186.07" y="283.69" width="27.88" height="1.12" fill="#a9d1e4" fill-opacity="0.10"/>
<rect x="186.07" y="293.67" width="27.88" height="0.81" fill="#a9d1e4" fill-opacity="0.09"/>
<rect x="186.07" y="297.09" width="27.88" height="0.84" fill="#fdd49e" fill-opacity="0.12"/>
<rect x="186.07" y="304.50" width="27.88" height="1.15" fill="#c5dfe6" fill-opacity="0.08"/>
<rect x="186.07" y="311.20" width="27.88" height="0.69" fill="#a9d1e4" fill-opacity="0.08"/>
<rect x="186.07" y="312.62" width="27.88" height="1.20" fill="#a9d1e4" fill-opacity="0.15"/>
<rect x="186.07" y="315.00" width="27.88" height="0.83" fill="#ffffff" fill-opacity="0.07"/>
<rect x="213.95" y="132.65" width="27.88" height="0.92" fill="#fff3cf" fill-opacity="0.09"/>
<rect x="213.95" y="137.56" width="27.88" height="1.28" fill="#fff3cf" fill-opacity="0.10"/>
<rect x="213.95" y="152.54" width="27.88" height="0.68" fill="#fdb97f" fill-opacity="0.10"/>
<rect x="213.95" y="154.52" width="27.88" height="0.96" fill="#ffffff" fill-opacity="0.14"/>
<rect x="213.95" y="159.73" width="27.88" height="1.35" fill="#fff6d8" fill-opacity="0.11"/>
<rect x="213.95" y="162.63" width="27.88" height="0.81" fill="#fdc690" fill-opacity="0.11"/>
<rect x="213.95" y="176.73" width="27.88" height="1.33" fill="#fdc690" fill-opacity="0.13"/>
<rect x="213.95" y="182.78" width="27.88" height="0.93" fill="#fff6d8" fill-opacity="0.12"/>
<rect x="213.95" y="184.28" width="27.88" height="0.64" fill="#ffffff" fill-opacity="0.06"/>
<rect x="213.95" y="190.83" width="27.88" height="0.69" fill="#fdc690" fill-opacity="0.11"/>
<rect x="213.95" y="192.75" width="27.88" height="0.83" fill="#fff3cf" fill-opacity="0.16"/>
<rect x="213.95" y="195.10" width="27.88" height="0.79" fill="#fdb97f" fill-opacity="0.10"/>
<rect x="213.95" y="197.13" width="27.88" height="1.11" fill="#fdb97f" fill-opacity="0.10"/>
<rect x="213.95" y="198.77" width="27.88" height="1.04" fill="#fff3cf" fill-opacity="0.09"/>
<rect x="213.95" y="200.21" width="27.88" height="1.23" fill="#fdb97f" fill-opacity="0.10"/>
<rect x="213.95" y="206.33" width="27.88" height="1.35" fill="#fff3cf" fill-opacity="0.13"/>
<rect x="213.95" y="209.02" width="27.88" height="0.88" fill="#fff3cf" fill-opacity="0.08"/>
<rect x="213.95" y="211.31" width="27.88" height="1.30" fill="#fdb97f" fill-opacity="0.07"/>
<rect x="213.95" y="213.39" width="27.88" height="0.66" fill="#fff3cf" fill-opacity="0.07"/>
<rect x="213.95" y="214.72" width="27.88" height="0.92" fill="#fff3cf" fill-opacity="0.17"/>
<rect x="213.95" y="216.25" width="27.88" height="1.05" fill="#fff3cf" fill-opacity="0.08"/>
<rect x="213.95" y="223.96" width="27.88" height="0.85" fill="#fff3cf" fill-opacity="0.14"/>
<rect x="213.95" y="246.10" width="27.88" height="0.76" fill="#fdc690" fill-opacity="0.16"/>
<rect x="213.95" y="249.35" width="27.88" height="1.36" fill="#fdc690" fill-opacity="0.08"/>
<rect x="213.95" y="252.00" width="27.88" height="0.99" fill="#fff6d8" fill-opacity="0.12"/>
<rect x="213.95" y="265.38" width="27.88" height="1.21" fill="#ffffff" fill-opacity="0.13"/>
<rect x="213.95" y="267.94" width="27.88" height="0.87" fill="#ffffff" fill-opacity="0.07"/>
<rect x="213.95" y="273.90" width="27.88" height="0.86" fill="#fdd49e" fill-opacity="0.08"/>
<rect x="213.95" y="304.25" width="27.88" height="0.65" fill="#c5dfe6" fill-opacity="0.07"/>
<rect x="213.95" y="307.97" width="27.88" height="1.36" fill="#a9d1e4" fill-opacity="0.15"/>
<rect x="213.95" y="321.41" width="27.88" height="0.86" fill="#fdd49e" fill-opacity="0.14"/>
<rect x="241.82" y="126.40" width="27.88" height="0.73" fill="#fdb97f" fill-opacity="0.12"/>
<rect x="241.82" y="140.36" width="27.88" height="1.19" fill="#fdb97f" fill-opacity="0.10"/>
<rect x="241.82" y="144.02" width="27.88" height="1.26" fill="#fff3cf" fill-opacity="0.12"/>
<rect x="241.82" y="163.26" width="27.88" height="0.75" fill="#fff6d8" fill-opacity="0.12"/>
<rect x="241.82" y="166.37" width="27.88" height="1.15" fill="#ffffff" fill-opacity="0.17"/>
<rect x="241.82" y="186.56" width="27.88" height="0.82" fill="#ffffff" fill-opacity="0.16"/>
<rect x="241.82" y="187.78" width="27.88" height="1.01" fill="#ffffff" fill-opacity="0.16"/>
<rect x="241.82" y="194.38" width="27.88" height="0.76" fill="#fff3cf" fill-opacity="0.06"/>
<rect x="241.82" y="200.94" width="27.88" height="1.00" fill="#fdb97f" fill-opacity="0.12"/>
<rect x="241.82" y="217.48" width="27.88" height="1.10" fill="#fff3cf" fill-opacity="0.16"/>
<rect x="241.82" y="221.30" width="27.88" height="0.98" fill="#fdb97f" fill-opacity="0.13"/>
<rect x="241.82" y="223.67" width="27.88" height="0.64" fill="#fff3cf" fill-opacity="0.14"/>
<rect x="241.82" y="231.37" width="27.88" height="0.69" fill="#fdb97f" fill-opacity="0.06"/>
<rect x="241.82" y="240.64" width="27.88" height="1.30" fill="#fff6d8" fill-opacity="0.08"/>
<rect x="241.82" y="246.19" width="27.88" height="1.20" fill="#fdc690" fill-opacity="0.14"/>
<rect x="241.82" y="253.14" width="27.88" height="0.97" fill="#ffffff" fill-opacity="0.06"/>
<rect x="241.82" y="257.43" width="27.88" height="1.24" fill="#ffffff" fill-opacity="0.08"/>
<rect x="241.82" y="265.84" width="27.88" height="0.63" fill="#ffffff" fill-opacity="0.13"/>
<rect x="241.82" y="269.51" width="27.88" height="1.11" fill="#fff6d8" fill-opacity="0.06"/>
<rect x="241.82" y="279.92" width="27.88" height="0.74" fill="#c5dfe6" fill-opacity="0.13"/>
<rect x="241.82" y="280.91" width="27.88" height="0.81" fill="#a9d1e4" fill-opacity="0.13"/>
<rect x="241.82" y="282.89" width="27.88" height="0.72" fill="#c5dfe6" fill-opacity="0.09"/>
<rect x="241.82" y="289.42" width="27.88" height="1.36" fill="#c5dfe6" fill-opacity="0.09"/>
<rect x="241.82" y="293.22" width="27.88" height="1.33" fill="#ffffff" fill-opacity="0.12"/>
<rect x="241.82" y="318.11" width="27.88" height="0.87" fill="#a9d1e4" fill-opacity="0.16"/>
<rect x="241.82" y="320.15" width="27.88" height="1.12" fill="#a9d1e4" fill-opacity="0.09"/>
<rect x="241.82" y="326.17" width="27.88" height="0.83" fill="#c5dfe6" fill-opacity="0.12"/>
<rect x="186.07" y="375.91" width="27.88" height="0.97" fill="#c5dfe6" fill-opacity="0.13"/>
<rect x="186.07" y="377.61" width="27.88" height="1.17" fill="#c5dfe6" fill-opacity="0.06"/>
<rect x="186.07" y="385.70" width="27.88" height="1.14" fill="#c5dfe6" fill-opacity="0.13"/>
<rect x="186.07" y="391.21" width="27.88" height="1.19" fill="#c5dfe6" fill-opacity="0.10"/>
<rect x="186.07" y="394.19" width="27.88" height="1.21" fill="#c5dfe6" fill-opacity="0.13"/>
<rect x="213.95" y="373.53" width="27.88" height="0.97" fill="#a9d1e4" fill-opacity="0.09"/>
<rect x="213.95" y="375.96" width="27.88" height="0.68" fill="#ffffff" fill-opacity="0.09"/>
<rect x="213.95" y="378.80" width="27.88" height="1.36" fill="#ffffff" fill-opacity="0.14"/>
<rect x="213.95" y="380.37" width="27.88" height="0.78" fill="#fdd49e" fill-opacity="0.15"/>
<rect x="213.95" y="381.72" width="27.88" height="1.28" fill="#fdd49e" fill-opacity="0.14"/>
<rect x="213.95" y="386.11" width="27.88" height="0.86" fill="#a9d1e4" fill-opacity="0.11"/>
<rect x="213.95" y="391.35" width="27.88" height="0.67" fill="#fdd49e" fill-opacity="0.10"/>
<rect x="213.95" y="395.08" width="27.88" height="0.90" fill="#fdd49e" fill-opacity="0.15"/>
<rect x="241.82" y="382.13" width="27.88" height="0.72" fill="#a9d1e4" fill-opacity="0.12"/>
<rect x="241.82" y="385.32" width="27.88" height="1.17" fill="#a9d1e4" fill-opacity="0.08"/>
<rect x="241.82" y="390.14" width="27.88" height="0.80" fill="#fdd49e" fill-opacity="0.11"/>
<rect x="241.82" y="394.08" width="27.88" height="0.99" fill="#fdd49e" fill-opacity="0.07"/>
</g>
<rect x="102.45" y="100.7" width="83.62" height="15.7" fill="#bab7dd"/>
<rect x="186.07" y="100.7" width="83.62" height="15.7" fill="#fdbd87"/>
<g fill="none" stroke="#000" stroke-width="1.5" stroke-linejoin="miter" stroke-linecap="butt">
<path d="M116.4 99.2V72.1H158.2"/>
<path d="M144.3 99.2V74H172.1V99.2"/>
<path d="M158.2 74V72.1"/>
<path d="M137 72.1V19.1H220.4V55.7"/>
<path d="M200.0 99.2V55.7H241.8V60.6"/>
<path d="M227.9 99.2V60.6H255.8V99.2"/>
</g>
<defs><linearGradient id="cb" x1="0" y1="0" x2="0" y2="1">
<stop offset="0" stop-color="#fa4429"/><stop offset="0.07" stop-color="#fb6846"/><stop offset="0.14" stop-color="#fb8d5c"/>
<stop offset="0.22" stop-color="#fdb67c"/><stop offset="0.30" stop-color="#fdd59b"/><stop offset="0.40" stop-color="#fae6b8"/>
<stop offset="0.50" stop-color="#f4f0cb"/><stop offset="0.58" stop-color="#deecdc"/><stop offset="0.68" stop-color="#bcdde6"/>
<stop offset="0.78" stop-color="#8cc3e0"/><stop offset="0.88" stop-color="#54a1cf"/><stop offset="1" stop-color="#1c7ab4"/>
</linearGradient></defs>
<rect x="276" y="120.8" width="14.1" height="228.8" fill="url(#cb)"/>
<text x="295.8" y="180.9" font-size="14.5">2</text>
<text x="295.8" y="239.0" font-size="14.5">0</text>
<text x="295.8" y="297.2" font-size="14.5">−2</text>
<text x="295.8" y="355.4" font-size="14.5">−4</text>
<text transform="translate(111.8 401.7) rotate(90)" font-size="13">c3</text>
<text transform="translate(139.7 401.7) rotate(90)" font-size="13">c2</text>
<text transform="translate(167.5 401.7) rotate(90)" font-size="13">c1</text>
<text transform="translate(195.4 401.7) rotate(90)" font-size="13">hy1</text>
<text transform="translate(223.3 401.7) rotate(90)" font-size="13">hy3</text>
<text transform="translate(251.2 401.7) rotate(90)" font-size="13">hy2</text>
<text x="40" y="77.2" font-size="9" font-weight="bold">Group</text>
<rect x="40" y="80.6" width="13" height="13.5" fill="#bab7dd"/>
<rect x="40" y="94.1" width="13" height="13.5" fill="#fdbd87"/>
<text x="56" y="91.1" font-size="9">control</text>
<text x="56" y="104.6" font-size="9">hypoxia</text>
<g fill="none" stroke="#000" stroke-width="1.3" stroke-linejoin="miter">
<path d="M31 178.4H11V354.4H25"/>
<path d="M66 122.4H31V233.4H44"/>
<path d="M55 190.4H44V277.8H53.4"/>
<path d="M63 151.5H55V229H59"/>
<path d="M71 136.3H63V166.4H66.5"/>
<path d="M79 130H71V147.4H79"/>
<path d="M79 154.5H66.5V178.3H70.5"/>
<path d="M79 170.4H70.5V181.5H79"/>
<path d="M79 161H74V173.6H79"/>
<path d="M71 206H59V253H65"/>
<path d="M79 199H71V211H79"/>
<path d="M71 234.4H65V272H79"/>
<path d="M79 218H71V249H79"/>
<path d="M79 273.2H53.4V282.2H60.6"/>
<path d="M69.2 276.4H60.6V287.6H68"/>
<path d="M73.3 276.4H69.2V284H73.3"/>
<path d="M79 284.9H69.6V313.9H79"/>
<path d="M45.6 330.2H25V378.6H40.2"/>
<path d="M79 327.8H45.6V332.3H48"/>
<path d="M79 330.4H48V343.5H52"/>
<path d="M58 337.2H52V352.6H54.7"/>
<path d="M79 332.6H58V341.7H62"/>
<path d="M79 339H62V344.5H79"/>
<path d="M79 348H54.7V356.2H58"/>
<path d="M79 353.5H58V359H79"/>
<path d="M52 363.5H40.2V393.4H49.2"/>
<path d="M58 389.7H49.2V395.6H83"/>
<path d="M64.8 384.3H58V394.3H83"/>
<path d="M70.2 376.2H64.8V392.5H79"/>
<path d="M79 370.7H70.2V391.6H79"/>
</g>
<rect x="78.4" y="120.4" width="5.1" height="276.3" fill="#000"/>
<path fill="#000" d="M74.0 122.6L79.6 119.6V123.4ZM73.5 125.2L79.6 124.3V128.1ZM72.5 128.9L79.6 127.8V132.4ZM70.5 134.1L79.6 132.8V134.9ZM72.5 136.9L79.6 134.7V138.5ZM70.5 140.5L79.6 140.4V142.3ZM72.0 143.1L79.6 142.8V144.5ZM73.5 147.2L79.6 145.5V148.0ZM72.0 150.5L79.6 147.6V152.4ZM71.5 154.8L79.6 152.0V156.3ZM74.5 156.3L79.6 156.4V159.1ZM71.5 162.3L79.6 160.2V162.3ZM70.5 163.2L79.6 160.9V167.1ZM76.5 171.8L79.6 169.4V171.2ZM73.5 173.8L79.6 172.0V173.9ZM75.5 173.8L79.6 174.3V176.3ZM72.5 177.3L79.6 175.0V181.1ZM72.0 181.0L79.6 181.0V182.9ZM73.5 186.5L79.6 183.2V186.9ZM76.5 188.5L79.6 187.9V191.5ZM74.5 194.4L79.6 192.0V194.6ZM70.5 197.0L79.6 195.7V200.1ZM71.5 200.5L79.6 199.0V204.7ZM70.5 206.5L79.6 203.8V207.6ZM71.5 207.8L79.6 207.6V210.6ZM70.5 212.1L79.6 209.4V214.1ZM72.0 216.7L79.6 213.8V217.6ZM72.5 218.0L79.6 216.9V220.3ZM73.5 220.5L79.6 219.3V223.8ZM76.5 227.3L79.6 224.1V228.3ZM71.5 229.4L79.6 228.8V232.4ZM76.5 233.7L79.6 233.0V235.9ZM74.5 238.8L79.6 236.5V241.0ZM72.5 243.4L79.6 241.1V247.4ZM71.5 248.9L79.6 246.7V252.4ZM70.5 254.2L79.6 254.3V256.8ZM70.5 257.6L79.6 257.2V260.0ZM72.5 260.4L79.6 259.4V263.8ZM75.5 265.2L79.6 262.9V266.7ZM72.5 269.5L79.6 267.0V271.4ZM75.5 275.2L79.6 272.6V276.5ZM71.5 279.8L79.6 279.0V280.7ZM71.5 282.0L79.6 281.7V284.9ZM72.5 287.9L79.6 284.4V289.6ZM72.0 293.9L79.6 291.1V294.4ZM70.5 298.5L79.6 295.6V299.2ZM76.5 301.1L79.6 299.1V303.7ZM71.5 304.8L79.6 303.4V305.3ZM75.5 308.4L79.6 305.8V311.6ZM72.0 314.2L79.6 312.1V316.5ZM74.0 317.2L79.6 316.5V320.6ZM73.5 324.3L79.6 321.0V324.9ZM72.0 325.1L79.6 323.1V328.5ZM73.5 329.1L79.6 327.6V330.6ZM72.0 333.3L79.6 331.7V334.9ZM74.5 335.3L79.6 334.5V338.0ZM73.5 340.9L79.6 337.1V342.5ZM75.5 343.3L79.6 342.0V346.4ZM70.5 348.0L79.6 345.7V349.0ZM72.5 351.1L79.6 350.8V353.8ZM76.5 355.3L79.6 352.7V358.7ZM72.0 360.2L79.6 358.3V363.2ZM70.5 366.6L79.6 364.6V367.6ZM70.5 369.4L79.6 367.3V370.6ZM74.5 371.5L79.6 371.1V373.6ZM71.5 374.4L79.6 373.7V375.5ZM75.5 379.2L79.6 375.5V380.2ZM72.0 382.0L79.6 381.5V384.0ZM74.0 387.3L79.6 384.0V389.2ZM75.5 390.5L79.6 388.9V391.8Z"/>
<polygon fill="#000" points="62,122.4 79,120.4 79,125.5"/>
<polygon fill="#000" points="71,130 79,127 79,131"/>
<polygon fill="#000" points="71,147.4 79,143.5 79,151.5"/>
<polygon fill="#000" points="66.5,154.5 79,153 79,158"/>
<polygon fill="#000" points="74,161 79,159.5 79,163.5"/>
<polygon fill="#000" points="74,173.6 79,170 79,176.5"/>
<polygon fill="#000" points="70.5,181.5 79,176 79,190"/>
<polygon fill="#000" points="71,199 79,190 79,200"/>
<polygon fill="#000" points="71,211 79,206 79,217"/>
<polygon fill="#000" points="71,218 79,217 79,224"/>
<polygon fill="#000" points="71,249 79,240 79,262"/>
<polygon fill="#000" points="65,272 83,264 83,274"/>
<polygon fill="#000" points="53.4,273.2 79,271.5 79,274.8"/>
<polygon fill="#000" points="69.6,313.9 79,306 79,326"/>
<polygon fill="#000" points="45.6,327.6 60,326.6 79,326 79,331.2 48,331"/>
<polygon fill="#000" points="62,333 79,331 79,336"/>
<polygon fill="#000" points="62,344.5 66,341 79,340 79,347"/>
<polygon fill="#000" points="60,348 79,347 79,352"/>
<polygon fill="#000" points="60,359 79,354 79,362"/>
<polygon fill="#000" points="50,361 73,360.5 79,360.5 79,378 72,373 66,371 58,367.5 52,366"/>
<polygon fill="#000" points="70.2,391.6 79,384 79,396.6 58,396.6 58,394 64,392.3"/>
<polygon fill="#000" points="49,394.8 83,394.8 83,396.8 49,396.4"/>
<rect x="72.6" y="326" width="10.8" height="70.7" fill="#000"/>
<rect x="75.5" y="262" width="7.9" height="64" fill="#000"/>
<g stroke="#000" stroke-width="0.9" fill="none">
<path d="M62.5 335.3H73"/>
<path d="M64 337H73"/>
<path d="M66 346.2H73"/>
<path d="M59 350.6H73"/>
<path d="M60.5 352.4H73"/>
<path d="M61 355H73"/>
<path d="M62 357.6H73"/>
<path d="M63 338.4H73"/>
<path d="M60 360.2H73"/>
</g>
<polygon fill="#fff" points="72.2,131.5 77.5,133 76,139 72.2,145.8"/>
<polygon fill="#fff" points="67.6,156 73,159.5 73,171 71.5,169.5 67.6,169.3"/>
<polygon fill="#fff" points="75.2,163 78,168 75.2,172"/>
<polygon fill="#fff" points="72,200.2 78,201.5 77,205 72,209.8"/>
<polygon fill="#fff" points="72,220 77,226 75.5,236 77,243 72,247.8"/>
<polygon fill="#fff" points="66,236 70,236 70,250.5 76,262 72,268 66,270.5"/>
<polygon fill="#fff" points="70.6,286 73,286 74.5,296 73,306 70.6,312.5"/>
<polygon fill="#fff" points="71.2,373.5 72.6,374.5 72.6,389 71.2,390.4"/>
<polygon fill="#fff" points="73.2,376 77.5,379 76.5,383 77.8,387 73.2,389.5"/>
<text class="ser" x="284.3" y="23.1" font-size="15.4">A</text>
<text class="ser" x="503.1" y="18.8" font-size="15.4">B</text>
<text class="ser" x="502.7" y="169.3" font-size="15.4">C</text>
<text class="ser" x="503.1" y="321.8" font-size="15.4">D</text>
<rect x="352.0" y="12.4" width="129.4" height="129.9" fill="#fff" stroke="#b8b8b8" stroke-width="0.7"/>
<g stroke="#888" stroke-width="0.5">
<line x1="374.3" y1="142.3" x2="374.3" y2="144.5"/>
<line x1="405.9" y1="142.3" x2="405.9" y2="144.5"/>
<line x1="437.5" y1="142.3" x2="437.5" y2="144.5"/>
<line x1="469.1" y1="142.3" x2="469.1" y2="144.5"/>
<line x1="352.0" y1="38.1" x2="349.8" y2="38.1"/>
<line x1="352.0" y1="69.0" x2="349.8" y2="69.0"/>
<line x1="352.0" y1="99.9" x2="349.8" y2="99.9"/>
<line x1="352.0" y1="130.8" x2="349.8" y2="130.8"/>
</g>
<text x="374.3" y="151.2" font-size="4.5" text-anchor="middle" fill="#111">0</text>
<text x="405.9" y="151.2" font-size="4.5" text-anchor="middle" fill="#111">5</text>
<text x="437.5" y="151.2" font-size="4.5" text-anchor="middle" fill="#111">10</text>
<text x="469.1" y="151.2" font-size="4.5" text-anchor="middle" fill="#111">15</text>
<text transform="translate(346.8 38.1) rotate(-90)" font-size="4.5" text-anchor="middle" fill="#111">5</text>
<text transform="translate(346.8 69.0) rotate(-90)" font-size="4.5" text-anchor="middle" fill="#111">0</text>
<text transform="translate(346.8 99.9) rotate(-90)" font-size="4.5" text-anchor="middle" fill="#111">−5</text>
<text transform="translate(346.8 130.8) rotate(-90)" font-size="4.5" text-anchor="middle" fill="#111">−10</text>
<text transform="translate(337.2 77.4) rotate(-90)" font-size="6.2" text-anchor="middle">M</text>
<text x="416.9" y="160.1" font-size="6.2" text-anchor="middle">A</text>
<polygon fill="#a9a9a9" points="368.6,68.4 370.6,65.0 373.0,60.4 375.6,56.0 378.3,52.0 380.5,52.4 383.0,53.5 388.0,56.4 392.6,58.9 396.5,60.7 400.6,62.0 404.0,62.6 408.5,62.9 447.0,62.9 448.5,66.0 448.5,72.0 447.0,75.1 408.5,75.1 404.0,75.4 400.6,76.0 396.5,77.3 392.6,79.1 388.0,81.6 383.0,84.5 380.5,85.6 378.3,86.0 375.6,82.0 373.0,77.6 370.6,73.0 368.6,69.6"/>
<polygon fill="#e41a1c" points="379.5,50.6 381.5,49.4 384.0,48.2 388.0,46.6 392.0,45.6 396.0,46.0 400.0,47.0 408.0,49.0 417.0,51.0 425.0,52.2 433.0,53.2 440.0,54.2 444.0,55.0 447.0,57.2 448.8,60.0 449.4,62.9 408.5,62.9 404.0,62.6 400.6,62.0 396.5,60.7 392.6,58.9 388.0,56.4 383.0,53.5 380.5,52.4"/>
<polygon fill="#377eb8" points="379.5,87.6 381.5,89.6 384.0,91.8 388.0,93.8 392.0,94.8 396.0,94.8 400.0,93.6 408.0,91.0 417.0,88.0 425.0,86.0 433.0,84.0 440.0,82.4 444.0,81.4 447.0,79.6 448.8,77.4 449.4,75.1 408.5,75.1 404.0,75.4 400.6,76.0 396.5,77.3 392.6,79.1 388.0,81.6 383.0,84.5 380.5,85.6"/>
<line x1="355.5" y1="69" x2="478" y2="69" stroke="#cfcfcf" stroke-width="0.5"/>
<line x1="368" y1="69" x2="449" y2="69" stroke="#8c8c8c" stroke-width="0.55"/>
<line x1="408" y1="63.3" x2="447" y2="63.3" stroke="#9a9a9a" stroke-width="0.4"/>
<line x1="408" y1="74.7" x2="447" y2="74.7" stroke="#9a9a9a" stroke-width="0.4"/>
<path d="M402.3 44.0h.01M438.2 53.6h.01M425.1 47.0h.01M441.6 49.7h.01M436.9 53.6h.01M417.7 46.4h.01M388.6 45.1h.01M440.4 50.7h.01M416.8 43.9h.01M436.3 46.6h.01M449.0 51.3h.01M435.2 53.1h.01M419.2 48.5h.01M428.5 49.8h.01M386.5 47.0h.01M398.3 38.1h.01M394.3 28.6h.01M409.8 31.8h.01M416.0 44.9h.01M442.1 50.8h.01M439.8 50.4h.01M421.3 49.5h.01M408.5 43.5h.01M432.7 49.4h.01M435.8 47.6h.01M441.0 49.5h.01M424.7 48.7h.01M381.2 46.5h.01M423.7 48.9h.01M414.7 46.8h.01M437.4 51.0h.01M454.7 59.0h.01M451.0 58.3h.01M397.4 34.8h.01M389.0 44.0h.01M412.0 33.0h.01M423.2 50.9h.01M430.9 40.8h.01M406.3 40.8h.01M391.7 34.4h.01M405.6 44.3h.01M420.1 31.2h.01M394.3 21.5h.01M421.6 30.7h.01M400.8 32.9h.01M444.0 53.6h.01M412.4 49.4h.01M436.7 43.6h.01M435.5 44.9h.01M395.8 35.9h.01M430.4 32.1h.01M439.0 52.5h.01M398.3 31.3h.01M395.8 22.4h.01M463.5 62.0h.01M405.3 44.2h.01M425.3 52.2h.01M384.4 47.5h.01M428.2 49.7h.01M413.4 43.2h.01M414.4 47.3h.01M391.1 37.1h.01M416.3 49.3h.01M415.6 38.5h.01M416.3 43.1h.01M421.3 46.2h.01M447.9 53.6h.01M424.2 45.9h.01M447.1 55.2h.01M420.7 29.5h.01M415.7 38.2h.01M404.7 47.2h.01M444.4 51.9h.01M389.1 46.3h.01M393.1 45.3h.01M388.0 35.0h.01M396.6 28.3h.01M435.7 53.4h.01M449.1 52.8h.01M410.8 35.9h.01M402.7 45.5h.01M439.4 51.4h.01M415.0 47.1h.01M420.0 45.9h.01M452.2 55.9h.01M429.7 45.0h.01M422.4 50.2h.01M405.2 41.7h.01M409.9 40.3h.01M448.1 50.8h.01M436.3 52.2h.01M381.3 48.2h.01M395.9 42.4h.01M426.0 47.3h.01M433.6 44.5h.01M424.8 50.0h.01M402.7 45.4h.01M397.3 27.4h.01M420.5 50.8h.01M407.6 42.3h.01M445.2 54.2h.01M421.7 49.8h.01M436.3 50.6h.01M432.3 50.8h.01M444.2 46.2h.01M408.0 40.9h.01M444.9 55.2h.01M427.4 42.7h.01M445.5 55.3h.01M442.3 53.7h.01M392.9 35.8h.01M437.5 47.7h.01M423.9 50.5h.01M451.5 58.4h.01M416.6 50.6h.01M428.5 41.4h.01M413.7 46.2h.01M432.1 49.9h.01M405.5 47.5h.01M397.1 41.0h.01M393.4 44.0h.01M430.7 51.2h.01M403.5 47.6h.01M433.2 46.2h.01M408.3 44.0h.01M437.9 53.9h.01M427.2 47.7h.01M398.0 46.1h.01M428.0 48.1h.01M434.5 38.6h.01M392.3 38.3h.01M384.0 47.2h.01M386.6 34.1h.01M410.7 40.4h.01M392.2 38.8h.01M451.5 53.7h.01M421.8 46.4h.01M389.7 45.7h.01M398.6 40.6h.01M447.5 55.8h.01M442.6 51.9h.01M396.7 33.8h.01M415.0 44.6h.01M437.5 53.8h.01M399.5 45.6h.01M424.1 50.2h.01M395.7 44.3h.01M381.7 48.8h.01M427.0 52.3h.01M422.9 42.2h.01M384.0 46.2h.01M400.5 42.0h.01M395.1 42.1h.01M391.1 36.8h.01M406.0 43.8h.01M403.5 35.0h.01M440.7 53.8h.01M437.0 53.6h.01M387.9 46.4h.01M387.6 36.7h.01M390.2 43.4h.01M396.1 33.6h.01M419.6 39.3h.01M426.1 50.9h.01M448.6 55.0h.01M394.1 45.6h.01M424.8 43.1h.01M388.5 35.9h.01M442.0 44.9h.01M423.1 41.4h.01M411.7 49.2h.01M418.1 50.3h.01M434.8 52.9h.01M442.6 54.5h.01M394.0 38.5h.01M400.6 42.9h.01M397.4 45.6h.01M459.9 62.8h.01M424.6 38.0h.01M439.3 46.3h.01M438.1 53.3h.01M431.8 43.6h.01M386.6 43.9h.01M386.0 41.2h.01M420.4 44.1h.01M411.8 49.2h.01M400.4 26.0h.01M420.0 32.8h.01M407.6 47.3h.01M407.8 41.2h.01M406.0 45.3h.01M407.2 46.1h.01M419.3 50.0h.01M394.8 40.4h.01M430.5 49.6h.01M424.4 38.9h.01M408.1 36.4h.01M380.0 48.5h.01M431.5 52.6h.01M399.0 41.4h.01M397.1 40.7h.01M412.2 43.7h.01M388.2 45.0h.01M404.5 43.9h.01M440.5 41.9h.01M392.3 34.0h.01M428.9 46.6h.01M406.4 48.5h.01M442.0 43.5h.01M424.8 31.1h.01M419.6 49.9h.01M432.6 50.1h.01M423.6 47.2h.01M409.9 45.3h.01M382.0 46.7h.01M426.8 42.8h.01M444.5 52.4h.01M442.1 42.8h.01M396.8 29.0h.01M417.5 49.9h.01M403.5 47.3h.01M401.5 46.7h.01M430.6 39.4h.01M440.8 54.3h.01M406.7 48.1h.01M405.2 46.0h.01M432.5 51.2h.01M442.4 54.4h.01M453.4 60.2h.01M431.4 52.2h.01M417.2 48.4h.01M391.9 44.7h.01M413.5 49.6h.01M413.7 45.0h.01M447.9 58.6h.01M412.8 38.1h.01M434.7 48.4h.01M422.3 37.5h.01M398.6 22.8h.01M395.5 43.9h.01M419.1 50.3h.01M446.2 50.9h.01M388.1 43.4h.01M393.3 42.6h.01M428.6 49.7h.01M391.1 36.8h.01M412.4 47.4h.01M425.8 35.9h.01M422.3 51.2h.01M420.7 39.5h.01M416.6 47.3h.01M400.0 29.9h.01M421.2 41.7h.01M414.4 44.8h.01M418.1 42.7h.01M393.3 42.0h.01M439.2 53.6h.01M410.4 49.3h.01M431.8 47.5h.01M422.3 50.8h.01M425.6 49.6h.01M397.6 37.7h.01M387.3 44.6h.01M397.0 41.4h.01M429.1 45.2h.01M443.7 54.5h.01M387.2 39.7h.01M379.9 49.1h.01M411.5 43.0h.01M417.4 42.9h.01M430.3 52.2h.01M401.8 32.3h.01M443.8 54.0h.01M408.3 48.0h.01M431.1 49.7h.01M399.0 41.8h.01M409.6 33.5h.01M400.2 25.1h.01M417.9 49.5h.01M382.7 47.2h.01M384.6 45.9h.01M396.4 43.2h.01M447.0 56.8h.01M400.6 40.6h.01M403.1 45.9h.01M444.7 54.8h.01M452.6 57.6h.01M437.6 50.4h.01M435.7 39.1h.01M446.2 49.9h.01M396.5 42.1h.01M389.5 34.5h.01M425.8 36.6h.01M422.8 44.9h.01M433.2 37.7h.01M452.3 60.1h.01M445.5 54.4h.01M425.9 50.0h.01M447.4 55.8h.01M389.7 43.8h.01M450.0 56.6h.01M398.2 38.7h.01M389.5 42.2h.01M398.8 45.1h.01M388.9 31.3h.01M417.9 48.6h.01M409.8 48.4h.01M397.2 39.3h.01M411.0 48.3h.01M444.4 52.4h.01M415.5 39.8h.01M428.4 48.4h.01M432.3 49.6h.01M383.6 44.6h.01M399.7 41.2h.01M450.3 58.5h.01M433.6 35.8h.01M451.4 56.7h.01M444.5 54.7h.01M392.4 29.4h.01M392.5 45.0h.01M423.7 44.4h.01M404.8 48.2h.01M406.6 47.2h.01M382.2 47.8h.01M444.4 54.3h.01M423.3 48.6h.01M401.5 46.6h.01M409.9 43.3h.01M437.6 53.7h.01M381.6 48.7h.01M434.8 44.0h.01M437.9 46.2h.01M430.1 50.1h.01M428.0 32.5h.01M436.0 50.0h.01M391.0 41.4h.01M403.3 43.7h.01M380.1 50.2h.01M445.2 53.3h.01M408.4 48.0h.01M397.8 33.6h.01M431.0 47.7h.01M440.8 48.7h.01M429.2 52.7h.01M448.7 55.6h.01M424.6 51.9h.01M409.0 46.9h.01M425.4 48.7h.01M425.7 49.0h.01M384.7 44.3h.01M438.9 52.9h.01M388.6 42.4h.01M404.0 41.7h.01M412.3 49.6h.01M414.6 48.0h.01M400.5 45.4h.01M438.4 46.6h.01M425.9 46.8h.01M421.4 47.6h.01M442.3 43.3h.01M398.0 31.7h.01M392.5 28.2h.01M407.7 30.8h.01M421.6 49.8h.01M409.9 29.1h.01M406.6 32.1h.01M402.9 26.4h.01M401.5 44.2h.01M408.7 43.2h.01M433.9 48.5h.01M408.2 28.2h.01M385.9 46.4h.01M394.2 25.9h.01M390.4 45.6h.01M407.2 47.1h.01M444.2 45.7h.01M418.1 42.7h.01M437.2 53.0h.01M435.4 40.4h.01M412.7 46.9h.01M390.2 41.0h.01M418.9 48.5h.01M426.7 47.9h.01M390.8 33.2h.01M426.0 46.6h.01M414.4 50.3h.01M432.4 48.2h.01M423.3 41.9h.01M397.2 45.1h.01M386.7 38.1h.01M416.1 39.6h.01M423.2 39.2h.01M387.9 37.0h.01M406.5 48.4h.01M399.7 46.6h.01M429.0 50.9h.01M439.8 47.8h.01M380.4 48.1h.01M436.5 42.2h.01M422.6 43.0h.01M392.4 33.5h.01M402.0 29.7h.01M421.9 45.9h.01M447.5 56.2h.01M408.0 28.9h.01M418.7 46.7h.01M400.2 43.6h.01M442.7 49.9h.01M438.0 50.0h.01M430.3 39.6h.01M397.8 43.1h.01M462.2 60.9h.01M422.4 50.0h.01M404.7 42.0h.01M435.5 52.3h.01M398.6 41.3h.01M434.4 46.2h.01M379.1 49.3h.01M410.2 41.9h.01M436.3 41.6h.01M429.8 52.3h.01M433.2 47.9h.01M413.0 49.8h.01M394.5 29.5h.01M435.9 45.8h.01M441.2 47.6h.01M401.4 46.2h.01M407.0 33.7h.01M393.6 35.9h.01M405.2 47.3h.01M396.7 45.2h.01M451.9 52.4h.01M461.8 61.9h.01M415.1 41.8h.01M413.9 39.4h.01M413.8 48.2h.01M465.5 59.9h.01M426.6 45.8h.01M425.5 35.1h.01M436.5 40.5h.01M395.2 29.9h.01M417.4 42.6h.01M399.6 39.9h.01M408.7 40.8h.01M416.1 46.2h.01M442.0 53.0h.01M453.4 60.2h.01M443.0 49.2h.01M430.3 46.2h.01M423.0 40.8h.01M435.0 46.5h.01M435.8 53.4h.01M436.3 47.7h.01M391.3 43.7h.01M425.3 48.4h.01M430.3 38.3h.01M380.2 48.6h.01M384.8 38.7h.01M440.2 45.5h.01M413.8 46.2h.01M386.0 40.6h.01M390.3 33.3h.01M436.8 45.2h.01M440.4 51.6h.01M379.2 50.1h.01M456.7 62.2h.01M423.6 38.3h.01M399.3 42.3h.01M400.8 37.6h.01M434.0 41.2h.01M398.3 45.8h.01M413.3 44.7h.01M394.0 37.1h.01M406.2 48.1h.01M385.8 43.0h.01M381.5 45.0h.01M433.6 53.1h.01M387.8 43.4h.01M435.5 39.3h.01M405.2 36.2h.01M419.0 50.3h.01M402.0 36.9h.01M402.2 34.4h.01M447.5 50.7h.01M437.0 36.8h.01M410.0 47.1h.01M381.7 45.7h.01M449.0 56.6h.01M394.3 43.9h.01M451.5 56.5h.01M432.6 51.9h.01M404.1 46.2h.01M417.1 43.4h.01M398.1 38.6h.01M424.4 32.9h.01M393.1 37.9h.01M471.0 62.4h.01M448.2 56.8h.01M431.3 50.3h.01M448.7 52.6h.01M404.5 47.3h.01M401.7 37.7h.01M389.6 42.0h.01M448.7 52.6h.01M436.3 44.1h.01M386.2 46.3h.01M383.2 46.0h.01M439.0 39.5h.01M455.8 62.8h.01M389.3 39.0h.01M396.3 35.3h.01M440.3 49.0h.01M442.6 51.7h.01M452.6 56.0h.01M403.7 47.3h.01M408.6 31.6h.01M392.4 44.4h.01M453.3 60.6h.01M403.2 43.3h.01M412.4 34.4h.01M402.9 33.8h.01M410.0 36.1h.01M415.5 49.8h.01M412.5 48.0h.01M433.3 48.2h.01M428.2 51.0h.01M434.3 37.1h.01M398.8 38.1h.01M418.2 38.7h.01M423.5 48.7h.01M408.7 44.7h.01M398.1 38.6h.01M426.3 49.5h.01M398.4 42.5h.01M429.1 49.6h.01M393.6 31.2h.01M405.8 45.7h.01M422.5 50.5h.01M430.2 47.1h.01M400.2 44.0h.01M419.8 44.6h.01M404.1 47.1h.01M392.4 41.3h.01M407.0 48.1h.01M387.6 45.9h.01M438.0 50.4h.01M405.8 39.4h.01M384.6 46.0h.01M428.6 44.5h.01M404.0 44.7h.01M400.7 46.1h.01M400.1 42.8h.01M454.0 60.0h.01M428.5 49.4h.01M399.8 35.8h.01M438.1 50.3h.01M439.1 53.9h.01M412.5 38.9h.01M413.3 45.7h.01M422.1 50.9h.01M435.5 44.4h.01M430.8 40.0h.01M422.9 49.3h.01M384.2 38.7h.01M394.1 43.9h.01M415.5 50.5h.01M427.0 44.0h.01M438.1 50.5h.01M441.2 50.9h.01M428.2 50.4h.01M397.9 39.6h.01M418.1 48.0h.01M400.2 39.8h.01M387.7 44.7h.01M412.8 33.7h.01M441.4 50.5h.01M445.2 48.0h.01M399.4 39.4h.01M413.6 35.3h.01M446.3 52.0h.01M398.1 45.3h.01M406.2 41.6h.01M424.5 51.3h.01M422.1 44.3h.01M422.6 46.8h.01M382.1 43.7h.01M390.8 33.2h.01M415.6 43.6h.01M449.4 52.7h.01M409.4 46.5h.01M452.4 57.0h.01M410.4 37.9h.01M398.7 21.6h.01M402.2 26.9h.01M404.8 45.6h.01M425.3 43.8h.01M447.6 58.0h.01M452.5 58.5h.01M382.3 49.0h.01M405.7 46.0h.01M403.3 44.4h.01M429.6 31.2h.01M385.9 47.1h.01M443.3 54.9h.01M440.6 47.4h.01M408.6 46.9h.01M450.0 57.8h.01M413.8 46.6h.01M437.1 47.7h.01M430.9 52.3h.01M450.0 55.6h.01M399.1 30.6h.01M442.7 53.5h.01M415.8 46.8h.01M398.6 35.3h.01M452.7 60.2h.01M410.2 39.3h.01M397.6 38.8h.01M413.2 45.6h.01M429.2 48.8h.01M397.2 32.7h.01M432.5 46.3h.01M407.9 43.0h.01M405.7 31.9h.01M436.3 44.2h.01M435.3 52.2h.01M442.8 43.6h.01M441.9 53.8h.01M430.4 34.4h.01M428.2 51.9h.01M385.9 41.3h.01M410.9 36.0h.01M458.2 58.9h.01M439.1 49.8h.01M389.6 29.5h.01M412.0 33.7h.01M425.1 51.6h.01M398.6 39.8h.01M430.6 45.4h.01M389.0 46.2h.01M425.6 29.9h.01M414.5 45.8h.01M411.1 47.2h.01M448.0 56.1h.01M415.2 48.1h.01M453.2 53.0h.01M405.0 39.4h.01M402.7 40.1h.01M405.4 40.9h.01M396.0 37.5h.01M426.7 50.7h.01M428.8 51.0h.01M423.6 48.2h.01M415.5 50.0h.01M428.5 51.9h.01M434.7 52.1h.01M408.8 45.6h.01M383.6 39.9h.01M413.5 44.0h.01M429.2 38.8h.01M413.2 46.1h.01M440.4 52.7h.01M440.2 51.1h.01M436.5 45.1h.01M437.4 48.9h.01M405.6 39.0h.01M424.3 49.1h.01M433.0 46.7h.01M397.0 45.0h.01M431.3 44.3h.01M401.5 42.4h.01M428.4 37.6h.01M401.4 44.5h.01M401.9 44.8h.01M431.2 42.6h.01M415.8 40.2h.01M450.0 57.7h.01M413.4 49.7h.01M392.8 44.1h.01M400.4 44.5h.01M393.8 27.1h.01M442.6 53.9h.01M422.0 49.3h.01M445.1 54.6h.01M395.9 34.4h.01M444.2 45.8h.01M412.4 46.3h.01M408.8 48.6h.01M437.6 45.3h.01M400.7 46.0h.01M414.3 46.9h.01M411.3 40.3h.01M410.0 43.0h.01M420.2 46.5h.01M450.7 58.2h.01M382.8 42.4h.01M437.8 38.0h.01M400.8 45.1h.01M437.4 50.9h.01M449.7 57.6h.01M452.4 52.0h.01M439.1 49.9h.01M426.9 52.0h.01M431.6 34.7h.01M450.7 57.8h.01M443.3 53.8h.01M403.5 47.4h.01M393.8 38.4h.01M387.7 38.3h.01M423.6 49.9h.01M433.7 50.3h.01M379.2 50.2h.01M403.0 46.5h.01M406.8 47.6h.01M433.9 44.7h.01M443.8 43.5h.01M427.6 41.0h.01M392.0 33.5h.01M381.4 44.9h.01M447.1 52.9h.01M458.2 58.2h.01M438.4 45.1h.01M443.7 54.7h.01M396.6 21.6h.01M425.2 50.6h.01M403.8 45.4h.01M410.4 44.9h.01M427.4 37.4h.01M438.8 53.0h.01M425.1 49.7h.01M405.0 43.1h.01M379.7 49.4h.01M448.5 59.5h.01M402.9 36.6h.01M401.3 44.7h.01M396.7 39.6h.01M429.5 44.5h.01M432.2 34.2h.01M403.3 46.4h.01M436.6 51.4h.01M404.2 41.2h.01M448.7 56.5h.01M392.4 36.1h.01M391.7 44.8h.01M425.7 46.8h.01M421.8 47.4h.01M395.9 28.9h.01M413.9 48.4h.01M414.4 49.7h.01M379.7 49.2h.01M390.0 36.7h.01M456.9 61.3h.01M422.9 39.8h.01M406.3 40.1h.01M405.1 43.8h.01M398.1 41.5h.01M401.3 35.2h.01M451.8 59.6h.01M453.8 60.9h.01M404.1 31.5h.01M429.9 51.5h.01M442.3 48.3h.01M415.9 44.7h.01M387.1 41.6h.01M383.5 47.3h.01M422.8 42.0h.01M405.8 34.4h.01M426.3 42.3h.01M393.5 39.8h.01M434.6 51.3h.01M425.4 51.4h.01M433.9 50.2h.01M423.4 49.4h.01M399.9 46.9h.01M413.6 36.7h.01M380.1 48.5h.01M402.7 44.1h.01M393.2 40.0h.01M451.0 55.2h.01M424.5 48.1h.01M421.8 44.3h.01M384.2 45.1h.01M412.3 36.8h.01M411.0 46.1h.01M397.0 28.9h.01M403.7 45.6h.01M414.4 50.3h.01M402.9 47.4h.01M449.6 56.1h.01M386.6 34.9h.01M406.2 42.3h.01M391.7 35.1h.01M401.9 26.6h.01M382.0 47.2h.01M438.7 44.5h.01M410.4 41.9h.01M446.6 47.2h.01M407.4 44.7h.01M425.2 50.0h.01M390.6 37.6h.01M445.5 51.8h.01M448.5 53.7h.01M435.9 50.8h.01M444.5 53.4h.01M410.8 34.3h.01M407.6 46.7h.01M453.1 60.7h.01M428.8 39.0h.01M416.6 45.5h.01M442.9 50.4h.01M396.5 28.4h.01M408.9 45.1h.01M422.2 45.5h.01M395.4 45.0h.01M414.7 47.2h.01M411.6 39.3h.01M429.1 49.6h.01M434.8 38.4h.01M413.4 48.3h.01M407.5 28.7h.01M388.3 43.0h.01M390.9 37.2h.01M393.0 32.1h.01M379.0 50.2h.01M421.1 33.9h.01M383.0 46.9h.01M441.9 51.9h.01M434.7 50.8h.01M380.1 48.0h.01M401.5 44.1h.01M413.6 45.1h.01M448.1 47.4h.01M407.8 38.1h.01M415.6 44.6h.01M403.4 47.8h.01M409.1 46.4h.01M408.2 29.7h.01M384.7 43.0h.01M446.1 55.0h.01M406.0 44.4h.01M439.0 51.8h.01M401.0 25.6h.01M397.0 36.0h.01M401.7 33.3h.01M393.6 45.0h.01M379.1 49.2h.01M425.5 37.3h.01M447.2 56.0h.01M404.0 40.9h.01M405.9 34.7h.01M410.4 46.0h.01M425.6 48.4h.01M409.7 35.5h.01M447.2 57.2h.01M450.3 51.1h.01M442.4 48.3h.01M437.0 44.2h.01M411.3 49.4h.01M439.1 53.1h.01M406.4 31.7h.01M410.2 31.9h.01M407.4 48.6h.01M380.0 47.4h.01M438.5 48.1h.01M418.1 49.2h.01M404.0 43.6h.01M411.5 46.4h.01M433.4 34.1h.01M438.1 51.3h.01M391.6 35.3h.01M402.4 44.0h.01M424.5 50.0h.01M413.1 48.6h.01M428.7 51.0h.01M416.2 50.0h.01M386.7 39.3h.01M380.0 49.6h.01M433.8 51.8h.01M425.3 48.1h.01M446.6 54.9h.01M425.8 50.3h.01M419.4 36.4h.01M446.7 52.3h.01M394.9 45.2h.01M416.7 35.9h.01M420.9 48.1h.01M402.3 29.4h.01M421.8 35.4h.01M424.5 47.8h.01M395.6 45.9h.01M400.5 46.4h.01M390.1 46.0h.01M429.5 42.2h.01M445.5 45.6h.01M397.3 46.0h.01M442.8 50.0h.01M419.3 47.5h.01M409.5 33.0h.01M381.0 49.4h.01M386.8 44.9h.01M396.6 43.8h.01M432.4 52.6h.01M380.3 46.2h.01M397.2 42.6h.01M385.1 45.0h.01M442.3 54.6h.01M413.9 50.2h.01M442.6 52.5h.01M422.1 48.7h.01M457.2 62.4h.01M406.5 42.3h.01M439.8 53.1h.01M396.2 32.2h.01M446.3 56.6h.01M381.4 49.2h.01M400.6 47.1h.01M380.3 49.8h.01M394.3 42.8h.01M391.6 41.9h.01M406.5 47.7h.01M447.3 57.2h.01M441.4 54.3h.01M420.6 51.4h.01M430.8 51.7h.01M418.9 47.0h.01M439.2 51.5h.01M435.7 52.8h.01M436.4 50.6h.01M418.9 51.0h.01M401.6 46.3h.01M439.8 52.6h.01M444.1 53.3h.01M431.4 51.9h.01M442.1 52.1h.01M421.5 45.8h.01M430.9 49.7h.01M429.9 45.4h.01M427.8 52.2h.01M381.5 47.4h.01M418.7 49.3h.01M383.3 48.4h.01M410.0 48.6h.01M412.7 48.9h.01M416.2 49.8h.01M405.1 48.0h.01M425.2 47.9h.01M458.0 60.1h.01M419.6 51.3h.01M385.7 47.3h.01M407.3 46.4h.01M439.6 52.9h.01M445.8 56.0h.01M401.4 44.5h.01M427.7 47.3h.01M441.0 49.4h.01M410.7 46.1h.01M395.1 44.1h.01M401.1 47.0h.01M430.2 48.2h.01M444.6 51.3h.01M401.4 45.0h.01M415.0 50.2h.01M403.0 46.2h.01M402.5 46.8h.01M397.8 45.7h.01M393.1 28.9h.01M409.1 47.0h.01M385.0 45.2h.01M420.0 49.0h.01M380.2 48.2h.01M417.8 48.7h.01M379.4 49.3h.01M425.9 46.8h.01M432.1 50.0h.01M426.8 52.0h.01M453.2 55.0h.01M396.0 41.8h.01M426.9 50.6h.01M440.8 50.5h.01M425.8 45.4h.01M384.4 44.7h.01M431.3 48.1h.01M428.5 51.3h.01M430.0 51.0h.01M457.6 58.7h.01M390.5 43.9h.01M418.7 50.6h.01M411.1 49.0h.01M383.2 47.6h.01M438.5 52.1h.01M411.4 49.7h.01M435.8 44.4h.01M393.2 43.7h.01M449.9 57.5h.01M421.4 45.6h.01M404.7 47.1h.01M441.1 48.8h.01M425.3 50.2h.01M403.5 46.7h.01M393.8 42.0h.01M400.0 45.4h.01M420.0 47.7h.01M401.4 46.2h.01M394.8 43.0h.01M405.7 44.8h.01M439.2 54.1h.01M461.8 61.3h.01M431.3 52.4h.01M450.6 57.7h.01M394.7 44.2h.01M417.4 49.8h.01M427.1 44.3h.01M415.5 47.9h.01M400.5 45.5h.01M406.7 46.1h.01M405.4 46.4h.01M382.9 46.6h.01M399.7 46.7h.01M426.9 49.5h.01M379.4 50.2h.01M400.5 45.6h.01M450.0 58.0h.01M422.2 51.1h.01M399.2 45.7h.01M389.8 39.2h.01M388.1 45.8h.01M431.2 52.9h.01M404.7 42.7h.01M425.3 51.8h.01M444.0 54.9h.01M421.3 50.0h.01M399.6 45.3h.01M427.8 46.6h.01M395.2 45.2h.01M437.7 50.3h.01M400.7 44.1h.01M457.6 60.7h.01M413.3 45.3h.01M426.6 52.1h.01M450.5 57.1h.01M430.3 51.8h.01M441.2 49.4h.01M384.9 44.7h.01M450.7 58.8h.01M448.3 59.0h.01M381.5 46.5h.01M403.7 47.9h.01M398.6 42.5h.01M434.6 49.4h.01M449.8 57.5h.01M415.8 44.3h.01M416.9 45.6h.01M400.0 38.5h.01M426.7 46.1h.01M399.1 45.3h.01M416.0 47.0h.01M427.7 50.8h.01M383.7 48.0h.01M434.2 44.1h.01M393.7 42.0h.01M398.7 46.3h.01M384.2 48.0h.01M422.1 44.3h.01M404.6 45.0h.01M409.9 48.1h.01M454.3 61.2h.01M407.5 48.4h.01M417.8 48.0h.01M408.8 47.3h.01M420.5 49.5h.01M421.1 50.6h.01M438.2 53.9h.01M410.8 48.1h.01M423.1 51.4h.01M434.7 52.0h.01M443.9 53.1h.01M412.8 43.6h.01M402.0 47.5h.01M403.0 47.1h.01M395.3 45.3h.01M416.5 49.8h.01M380.3 47.8h.01M383.9 47.8h.01M442.1 51.8h.01M400.0 35.8h.01M431.1 52.8h.01M404.1 47.5h.01M430.7 52.4h.01M397.5 44.2h.01M398.0 45.0h.01M404.7 35.9h.01M411.5 49.4h.01M402.9 46.7h.01M445.1 55.0h.01M444.4 55.1h.01M427.3 51.7h.01M405.4 47.9h.01M399.5 40.2h.01M424.7 51.8h.01M451.6 58.8h.01M402.8 45.0h.01M410.3 48.5h.01M419.3 46.6h.01M437.6 49.6h.01M417.2 42.8h.01M384.9 47.7h.01M431.7 52.9h.01M427.7 49.4h.01M384.9 46.9h.01M394.9 44.5h.01M414.2 48.2h.01M458.1 62.0h.01M408.1 47.6h.01M441.4 45.0h.01M453.0 60.2h.01M463.8 62.4h.01M427.8 49.7h.01M460.3 62.3h.01M428.4 47.0h.01M426.0 49.0h.01M404.8 48.0h.01M403.0 46.6h.01M424.9 50.4h.01M436.0 53.5h.01M425.7 44.5h.01M434.9 51.5h.01M443.2 54.5h.01M425.2 49.0h.01M421.3 50.4h.01M417.6 47.6h.01M381.4 49.4h.01M393.0 40.1h.01M428.9 49.3h.01M431.8 53.0h.01M415.7 49.9h.01M406.7 41.3h.01M432.5 53.0h.01M436.1 49.2h.01M394.5 39.7h.01M407.4 45.6h.01M423.7 45.8h.01M404.1 48.0h.01M434.8 52.3h.01M451.1 58.6h.01M417.5 49.9h.01M383.4 47.3h.01M438.4 53.2h.01M449.2 57.4h.01M396.5 45.3h.01M445.2 55.0h.01M401.6 44.1h.01M432.4 52.6h.01M455.9 62.5h.01M388.5 43.6h.01M413.3 46.4h.01M403.7 47.4h.01M428.0 47.4h.01M419.6 49.7h.01M433.4 52.3h.01M433.5 51.8h.01M384.0 46.8h.01M437.0 52.2h.01M406.0 47.1h.01M398.1 42.5h.01M405.1 48.0h.01M433.5 49.3h.01M394.7 45.4h.01M398.4 43.2h.01M450.7 56.7h.01M442.1 53.7h.01M402.9 40.1h.01M443.1 54.7h.01M407.9 45.8h.01M383.3 48.0h.01M401.2 44.9h.01M405.3 46.4h.01M435.4 50.3h.01M424.0 45.4h.01M413.0 46.7h.01M410.4 41.7h.01M417.7 51.0h.01M400.0 40.2h.01M398.6 43.4h.01M422.9 51.6h.01M405.7 41.8h.01M427.1 52.0h.01M422.0 51.7h.01M412.1 48.4h.01M401.4 46.1h.01M443.8 53.9h.01M396.5 40.1h.01M423.9 49.7h.01M388.7 45.9h.01M395.8 41.3h.01M422.3 51.6h.01M411.3 47.6h.01M444.6 54.6h.01M416.4 50.7h.01M452.3 59.4h.01M401.1 43.8h.01M440.3 54.2h.01M393.6 44.3h.01M416.1 49.6h.01M397.9 44.3h.01M423.7 51.7h.01M381.5 48.3h.01M438.4 52.4h.01M431.9 50.0h.01M450.3 57.2h.01M399.5 45.7h.01M432.6 52.4h.01M406.5 45.2h.01M447.1 56.5h.01M417.7 50.6h.01M440.5 53.7h.01M440.2 52.1h.01M424.9 50.4h.01M383.2 47.1h.01M427.5 51.0h.01M419.9 48.9h.01M423.6 50.5h.01M406.9 47.0h.01M396.8 45.5h.01M413.9 48.3h.01M406.1 46.9h.01M428.7 49.9h.01M402.9 47.4h.01M395.3 45.4h.01M392.1 45.2h.01M426.8 51.4h.01M387.9 46.0h.01M397.7 43.1h.01M443.2 53.7h.01M416.9 48.4h.01M401.7 46.8h.01M394.9 45.6h.01M433.5 51.9h.01M423.5 51.0h.01M436.8 52.8h.01M383.2 47.4h.01M382.1 48.0h.01M435.0 52.2h.01M411.0 44.0h.01M437.1 52.6h.01M447.1 55.6h.01M390.7 45.3h.01M426.1 49.6h.01M399.0 45.8h.01M442.9 54.4h.01M442.0 52.1h.01M415.5 49.5h.01M424.4 48.5h.01M415.4 48.4h.01M431.7 50.3h.01M396.9 40.5h.01M428.1 50.9h.01M410.4 45.7h.01M450.8 58.9h.01M446.6 53.9h.01M410.9 44.4h.01M411.2 48.6h.01M391.2 44.1h.01M434.0 38.2h.01M393.2 44.8h.01M394.2 42.9h.01M412.3 48.2h.01M397.0 43.7h.01M402.4 45.7h.01M434.7 52.0h.01M405.0 41.0h.01M449.5 56.0h.01M435.1 49.1h.01M457.8 62.5h.01M415.2 46.8h.01M400.3 42.5h.01M464.8 62.5h.01M389.9 46.1h.01M416.9 50.8h.01M413.0 48.8h.01M406.0 48.1h.01M436.8 53.3h.01M440.5 51.8h.01M435.8 52.3h.01M451.4 58.4h.01M426.3 48.0h.01M410.9 44.9h.01M439.4 43.3h.01M412.6 49.9h.01M445.7 52.8h.01M401.6 46.3h.01M421.1 50.5h.01M385.4 47.5h.01M405.3 39.2h.01M454.5 61.0h.01M426.4 52.2h.01M417.8 51.0h.01M398.4 46.5h.01M396.6 45.4h.01M427.6 50.4h.01M446.5 55.7h.01M431.0 51.2h.01M413.2 49.3h.01M406.7 47.8h.01M431.0 52.1h.01M429.0 48.0h.01M441.0 53.1h.01M457.5 62.2h.01M387.1 46.9h.01M422.1 50.6h.01M415.5 50.0h.01M401.2 44.6h.01M399.2 46.6h.01M405.3 45.9h.01M407.9 44.7h.01M406.5 44.7h.01M441.5 53.7h.01M414.4 48.4h.01M384.5 47.1h.01M442.4 54.2h.01M410.1 44.5h.01M397.3 42.6h.01M401.7 46.5h.01M413.0 41.5h.01M382.9 47.5h.01M428.6 50.7h.01M425.2 50.5h.01M395.3 44.6h.01M442.4 54.1h.01M379.4 50.2h.01M391.9 43.4h.01M412.8 48.8h.01M421.4 50.0h.01M420.2 48.1h.01M403.4 42.7h.01M413.9 48.4h.01M434.4 50.2h.01M411.6 47.7h.01M407.6 46.2h.01M413.5 49.2h.01M430.5 52.2h.01M420.4 43.6h.01M422.5 49.4h.01M400.0 42.1h.01M412.8 48.1h.01M386.8 46.0h.01M418.2 49.3h.01M428.8 51.9h.01M411.6 47.7h.01M423.1 50.2h.01M427.8 52.3h.01M422.2 49.8h.01M432.9 52.3h.01M457.0 61.6h.01M423.0 48.6h.01M415.7 50.4h.01M404.8 47.8h.01M404.7 44.9h.01M440.1 49.7h.01M431.8 51.4h.01M416.7 50.5h.01M398.7 46.2h.01M394.8 44.0h.01M433.5 51.9h.01M438.4 49.8h.01M429.0 51.2h.01M461.8 57.3h.01M406.5 47.5h.01M427.9 51.0h.01M393.0 42.4h.01M380.7 49.5h.01M431.5 50.6h.01M447.3 56.3h.01M435.6 52.1h.01M382.0 43.6h.01M411.0 49.2h.01M421.8 47.0h.01M420.6 51.5h.01M443.8 54.0h.01M410.9 49.1h.01M393.6 40.8h.01M412.3 44.3h.01M404.8 48.1h.01M439.4 51.0h.01M408.1 48.1h.01M457.4 62.1h.01M399.5 46.4h.01M386.5 47.2h.01M418.7 46.6h.01M414.4 47.5h.01M395.5 45.2h.01M418.3 42.9h.01M383.1 48.1h.01M415.9 47.5h.01M379.5 50.5h.01M444.4 49.5h.01M438.9 52.6h.01M420.6 50.4h.01M456.3 61.6h.01M443.5 54.1h.01M411.8 48.8h.01M399.6 45.5h.01M409.2 48.5h.01M417.1 49.7h.01M383.8 47.7h.01M411.5 47.0h.01M391.5 42.0h.01M403.5 43.3h.01M431.2 52.2h.01M380.8 49.0h.01M450.1 55.5h.01M428.4 50.7h.01M387.7 45.8h.01M432.7 47.5h.01M442.1 54.2h.01M407.3 44.7h.01M396.4 45.2h.01M440.9 52.7h.01M418.1 50.0h.01M437.4 52.8h.01M380.9 49.4h.01M380.4 49.7h.01M419.1 46.9h.01M430.3 50.6h.01M410.7 46.4h.01M393.7 35.9h.01M460.7 62.0h.01M416.7 49.5h.01M388.6 46.2h.01M432.6 52.3h.01M419.3 45.2h.01M442.3 53.7h.01M391.0 42.2h.01M399.2 44.7h.01M440.2 53.9h.01M427.9 48.4h.01M423.8 45.2h.01M392.9 45.2h.01M423.5 51.1h.01M434.8 52.5h.01M439.0 53.7h.01M440.6 53.7h.01M401.3 46.7h.01M420.6 49.8h.01M414.2 47.8h.01M409.8 48.1h.01M397.3 43.5h.01M440.1 53.2h.01M428.5 50.5h.01M436.5 53.2h.01M433.1 52.4h.01M428.6 52.3h.01M407.5 47.6h.01M423.1 49.3h.01M439.5 49.8h.01M442.1 50.6h.01M422.5 51.6h.01M441.1 49.7h.01M385.9 45.1h.01M402.1 45.2h.01M444.0 53.4h.01M442.3 52.8h.01M392.7 41.3h.01M402.3 47.3h.01M403.2 45.9h.01M453.2 60.3h.01M388.3 45.6h.01M434.2 50.7h.01M427.4 51.9h.01M440.7 53.7h.01M422.4 50.4h.01M399.4 43.0h.01M434.8 48.8h.01M394.3 31.6h.01M409.3 48.4h.01M453.0 60.5h.01M454.3 59.8h.01M403.2 47.4h.01M411.7 47.1h.01M455.8 61.7h.01M407.9 44.5h.01M424.6 51.8h.01M429.9 52.8h.01M396.7 38.3h.01M440.1 47.3h.01M414.2 50.3h.01M387.4 39.1h.01M419.4 51.2h.01M411.3 47.2h.01M460.2 62.3h.01M403.3 47.0h.01M404.6 46.5h.01M438.1 52.8h.01M396.6 44.6h.01M405.2 47.4h.01M386.3 40.2h.01M420.2 51.4h.01M393.7 44.3h.01M442.4 53.5h.01M443.9 54.8h.01M436.3 46.6h.01M387.4 46.4h.01M430.7 51.5h.01M407.6 48.6h.01M419.2 50.5h.01M404.9 48.1h.01M387.1 46.8h.01M437.1 52.5h.01M455.5 59.9h.01M433.8 52.3h.01M398.7 42.5h.01M403.5 47.5h.01M385.3 44.9h.01M406.8 47.3h.01M447.0 56.8h.01M406.2 48.3h.01M396.1 45.3h.01M383.1 47.4h.01M407.8 47.9h.01M427.7 49.7h.01M387.1 46.8h.01M415.4 46.4h.01M431.3 52.3h.01M400.1 46.7h.01M440.3 48.0h.01M411.5 48.9h.01M401.3 45.2h.01M381.6 47.3h.01M396.9 44.7h.01M415.1 49.1h.01M423.5 49.9h.01M440.4 54.0h.01M436.7 52.5h.01M396.9 44.3h.01M402.5 43.8h.01M424.5 51.1h.01M424.0 51.6h.01M456.9 61.1h.01M392.7 45.1h.01M458.5 62.6h.01M438.9 49.8h.01M407.5 45.5h.01M418.8 50.7h.01M403.2 47.4h.01M418.7 49.3h.01M438.4 52.2h.01M444.6 49.6h.01M416.6 41.8h.01M409.2 48.5h.01M388.7 41.4h.01M442.0 53.8h.01M415.5 49.8h.01M423.4 46.8h.01M434.2 50.3h.01M430.8 49.1h.01M387.9 46.3h.01M429.0 50.7h.01M413.2 49.1h.01M419.1 48.4h.01M380.6 50.0h.01M435.7 53.5h.01M409.0 48.7h.01M428.9 47.6h.01M395.2 44.0h.01M409.6 45.0h.01M384.2 48.1h.01M384.0 47.1h.01M379.2 50.3h.01M437.2 53.7h.01M432.0 47.7h.01M396.1 45.1h.01M442.9 53.8h.01M430.2 49.6h.01M421.4 49.3h.01M421.3 50.4h.01M403.6 46.7h.01M411.0 47.7h.01M399.6 42.5h.01M383.8 46.1h.01M417.3 47.6h.01M418.7 50.3h.01M413.0 48.1h.01M429.8 52.2h.01M422.3 50.9h.01M421.4 48.6h.01M435.9 51.0h.01M452.1 59.7h.01M457.3 60.0h.01M437.1 51.2h.01M430.2 39.9h.01M382.1 47.0h.01M413.7 49.8h.01M413.0 48.1h.01M415.9 49.0h.01M423.1 51.6h.01M440.8 52.5h.01M384.9 44.0h.01M429.7 49.0h.01M400.9 43.8h.01M402.0 45.5h.01M406.2 48.1h.01M429.9 46.1h.01M412.2 44.5h.01M399.4 42.8h.01M446.6 56.9h.01M436.1 48.8h.01M438.0 53.4h.01M398.0 46.4h.01M421.9 50.2h.01M384.5 47.5h.01M396.0 40.4h.01M423.1 50.8h.01M433.4 51.5h.01M421.7 49.3h.01M438.5 53.1h.01M417.7 51.0h.01M441.8 54.1h.01M431.2 52.0h.01M425.7 52.2h.01M451.5 58.6h.01M447.6 55.6h.01M457.2 62.6h.01M429.1 52.2h.01M410.2 45.8h.01M403.6 45.0h.01M415.4 49.9h.01M454.8 60.2h.01M423.1 46.7h.01M415.8 48.8h.01M385.3 47.3h.01M392.1 43.3h.01M427.9 51.3h.01M421.2 43.8h.01M386.9 46.8h.01M408.6 43.2h.01M428.6 50.7h.01M385.1 46.7h.01M384.4 46.8h.01M404.8 40.0h.01M405.1 44.8h.01M395.1 43.2h.01M392.4 43.8h.01M433.6 51.1h.01M419.7 45.6h.01M398.9 45.3h.01M379.3 50.1h.01M403.2 46.9h.01M422.6 45.5h.01M439.5 53.1h.01M420.8 48.8h.01M398.1 43.3h.01M394.4 37.2h.01M431.2 46.6h.01M387.3 45.8h.01M395.1 41.8h.01M393.7 45.1h.01M393.0 44.9h.01M429.7 43.8h.01M407.5 44.2h.01M399.3 45.7h.01M398.0 46.2h.01M443.4 53.2h.01M441.9 49.9h.01M395.6 44.7h.01M383.7 43.2h.01M400.5 47.0h.01M449.2 56.8h.01M440.4 49.3h.01M383.0 48.2h.01M398.6 45.9h.01M412.5 49.3h.01M435.6 51.9h.01M388.6 46.2h.01M407.0 45.5h.01M423.4 49.5h.01M432.8 51.6h.01M420.5 51.2h.01M422.9 41.9h.01M393.0 45.5h.01M412.4 48.8h.01M442.7 54.7h.01M422.6 50.3h.01M441.5 54.4h.01M386.6 44.7h.01M423.0 49.4h.01M386.4 44.8h.01M429.7 51.5h.01M406.0 46.6h.01M424.7 50.3h.01M451.5 56.6h.01M398.2 45.5h.01M380.0 50.3h.01M428.0 49.7h.01M434.8 52.8h.01M407.1 44.5h.01M462.3 62.1h.01M424.7 51.9h.01M398.6 44.7h.01M392.7 45.2h.01M438.8 53.3h.01M397.6 41.1h.01M431.4 52.3h.01M410.0 49.2h.01M442.6 53.4h.01M412.0 46.6h.01M442.7 54.1h.01M458.7 60.2h.01M439.1 48.8h.01M412.2 48.1h.01M392.4 45.2h.01M384.8 47.0h.01M435.0 50.9h.01M394.9 42.6h.01M447.4 56.6h.01M415.0 49.0h.01M418.2 49.5h.01M392.9 42.2h.01M379.2 48.5h.01M444.2 51.9h.01M399.9 41.7h.01M462.4 61.6h.01M434.4 49.4h.01M430.2 52.3h.01M398.4 40.0h.01M389.2 44.8h.01M415.2 50.0h.01M423.1 51.8h.01M439.4 51.5h.01M419.0 44.4h.01M446.3 56.4h.01M437.6 53.4h.01M448.6 57.4h.01M417.2 49.9h.01M429.2 52.6h.01M425.5 48.4h.01M402.6 42.8h.01M449.4 57.7h.01M409.1 43.1h.01M444.4 54.5h.01M437.4 51.0h.01M397.2 45.3h.01M381.3 48.9h.01M449.7 57.5h.01M444.1 54.6h.01M399.5 45.1h.01M400.9 46.0h.01M421.6 51.7h.01M398.4 44.4h.01M403.0 47.0h.01M433.9 47.9h.01M441.8 53.2h.01M414.6 48.9h.01M400.3 42.4h.01M408.6 47.9h.01M416.2 50.6h.01M433.7 52.3h.01M404.3 43.8h.01M386.3 45.0h.01M455.8 61.6h.01M435.2 53.4h.01M421.1 49.2h.01M423.8 50.1h.01M386.9 43.0h.01M398.3 43.9h.01M406.2 44.5h.01M416.0 36.2h.01M399.0 46.4h.01M448.1 58.2h.01M418.2 46.4h.01M434.8 48.9h.01M420.9 51.2h.01M401.3 45.7h.01M407.9 48.3h.01M453.9 60.1h.01M417.4 49.8h.01M426.3 50.3h.01M410.7 48.6h.01M449.8 55.8h.01M444.5 55.3h.01M387.5 43.2h.01M421.9 48.6h.01M424.0 45.3h.01M392.2 37.2h.01M401.1 47.2h.01M449.4 57.5h.01M434.4 52.8h.01M422.7 46.8h.01M397.7 42.8h.01M414.1 46.4h.01M387.2 43.5h.01M440.8 53.8h.01M400.3 41.6h.01M402.7 37.8h.01M401.8 39.6h.01M387.0 45.5h.01M398.8 44.5h.01M405.4 46.3h.01M423.6 51.1h.01M409.3 45.4h.01M447.3 57.4h.01M447.5 60.7h.01M445.5 55.6h.01M454.0 61.2h.01M449.4 59.2h.01M445.4 56.6h.01M447.8 61.3h.01M446.3 58.0h.01M446.4 58.6h.01M445.4 57.5h.01M450.3 61.7h.01M449.1 62.6h.01M449.8 61.8h.01M449.0 59.8h.01M445.3 58.0h.01M445.3 61.9h.01M445.4 59.1h.01M450.1 58.2h.01M448.1 56.4h.01M448.5 61.8h.01M447.4 60.6h.01M449.7 59.0h.01M446.4 60.0h.01M445.0 57.7h.01M446.1 55.8h.01M445.3 58.8h.01M448.3 60.3h.01M447.5 61.6h.01M445.2 57.7h.01M445.6 57.1h.01M454.1 60.7h.01M454.6 61.0h.01M446.4 55.1h.01M448.3 58.6h.01M446.1 58.4h.01M445.6 54.6h.01M450.8 61.4h.01M451.1 62.6h.01M446.4 60.0h.01M448.6 57.0h.01M445.6 59.9h.01M445.8 60.3h.01M446.9 61.2h.01M446.1 55.5h.01M450.0 60.5h.01M448.5 60.8h.01M452.3 60.6h.01M445.1 54.4h.01M449.6 57.8h.01M451.8 59.8h.01M447.6 58.2h.01M446.3 55.0h.01M447.1 60.2h.01M447.6 59.1h.01M446.2 58.1h.01M449.5 57.5h.01M448.8 60.2h.01M445.4 59.7h.01M448.2 57.9h.01M445.3 56.4h.01M445.1 57.0h.01M450.7 58.3h.01M445.6 55.0h.01M448.1 59.0h.01M446.2 58.9h.01M448.3 58.7h.01M447.8 58.3h.01M447.8 56.3h.01M449.8 62.5h.01M449.0 62.5h.01M449.6 60.4h.01M446.2 62.1h.01M446.0 58.2h.01M446.0 58.1h.01M449.9 59.9h.01M450.6 61.0h.01M446.7 60.6h.01M447.1 61.2h.01M446.0 55.6h.01M452.9 59.6h.01M449.2 61.0h.01M446.7 57.5h.01M446.9 62.0h.01M449.9 60.8h.01M451.0 58.5h.01M447.3 59.2h.01M445.2 60.8h.01M450.8 60.3h.01M445.3 61.4h.01M445.8 60.9h.01M450.7 58.6h.01M445.6 57.5h.01M446.0 56.6h.01M445.5 55.4h.01M446.3 59.6h.01M445.4 59.1h.01M447.1 57.6h.01M448.1 57.7h.01M447.7 59.8h.01M445.9 57.3h.01M445.3 60.4h.01M447.0 60.4h.01M445.7 59.1h.01M449.5 57.5h.01M445.1 61.4h.01M445.1 60.8h.01M452.0 60.4h.01M448.4 57.2h.01M449.4 59.3h.01M447.4 62.5h.01M450.8 60.3h.01M448.9 61.9h.01M451.3 62.1h.01M445.9 62.0h.01M453.7 60.5h.01M445.8 57.4h.01M452.3 60.2h.01M446.0 55.5h.01M448.8 58.7h.01M450.5 59.1h.01M446.6 60.9h.01M449.9 60.3h.01M448.0 61.1h.01M447.8 58.7h.01M445.3 54.5h.01M447.6 58.8h.01M448.9 61.2h.01M445.3 60.0h.01M445.8 55.1h.01M448.0 59.0h.01M447.2 57.0h.01M447.8 62.5h.01M448.9 60.4h.01M447.3 61.2h.01M449.8 60.8h.01M450.7 59.2h.01M450.9 58.9h.01M446.3 60.6h.01M449.1 57.2h.01M445.3 57.5h.01M448.1 60.9h.01M447.3 59.9h.01M446.7 60.3h.01M454.5 60.9h.01M445.0 54.8h.01M451.4 62.3h.01M450.3 61.8h.01M452.1 59.7h.01M449.1 60.2h.01M446.2 61.8h.01M446.9 60.2h.01M450.9 58.8h.01M448.8 58.0h.01M447.2 55.9h.01M447.3 59.4h.01M445.6 57.8h.01M447.5 61.9h.01M446.3 55.5h.01M449.8 59.8h.01M446.8 59.0h.01M447.2 57.9h.01M445.1 59.7h.01M448.6 59.2h.01M446.3 61.8h.01M446.3 58.9h.01M448.1 60.0h.01M447.9 56.8h.01M445.4 55.6h.01M452.5 60.1h.01M445.4 56.5h.01M448.0 58.7h.01M390.0 28.4h.01M389.8 28.2h.01M385.3 37.5h.01M381.5 43.5h.01M390.6 28.0h.01M383.1 40.7h.01M392.9 24.8h.01M385.6 36.3h.01M381.5 42.9h.01M379.6 47.4h.01M387.8 32.2h.01M380.6 44.5h.01M386.7 35.3h.01M391.6 27.0h.01M389.9 28.6h.01M390.5 28.0h.01M377.9 50.0h.01M385.1 36.3h.01M384.0 38.9h.01M380.3 44.9h.01M383.4 40.4h.01M379.1 48.6h.01M379.1 47.8h.01M383.6 41.1h.01M389.7 29.8h.01M386.8 34.7h.01M385.9 35.9h.01M386.9 33.5h.01M385.2 36.8h.01M385.4 37.5h.01M381.1 44.0h.01M378.5 47.7h.01M377.7 49.9h.01M378.4 48.4h.01M388.6 30.6h.01M385.1 37.1h.01M388.9 31.7h.01M382.7 40.6h.01M391.1 28.0h.01M391.3 26.4h.01M388.3 31.2h.01M381.0 43.9h.01M386.3 34.2h.01M380.5 44.0h.01M392.1 25.7h.01M382.9 41.6h.01M380.5 45.5h.01M381.1 44.1h.01M384.3 39.3h.01M382.2 43.0h.01M390.9 26.9h.01M389.1 31.5h.01M386.1 35.3h.01M391.8 26.3h.01M377.5 50.0h.01M391.0 28.2h.01M390.3 29.3h.01M387.5 33.8h.01M388.5 31.6h.01M383.5 40.4h.01M391.7 27.0h.01M386.8 33.8h.01M384.3 39.2h.01M388.9 31.7h.01M386.5 34.3h.01M391.7 26.0h.01M384.0 38.6h.01M384.9 37.3h.01M390.9 26.7h.01M379.1 46.7h.01M385.7 35.8h.01M389.7 29.0h.01M385.4 37.4h.01M384.3 38.3h.01M378.4 48.5h.01M386.1 35.6h.01M386.9 35.1h.01M380.2 44.6h.01M389.2 31.2h.01M392.7 25.0h.01M379.2 46.7h.01M378.4 48.7h.01M383.2 41.4h.01M379.9 45.7h.01M381.2 43.5h.01M384.6 37.4h.01M382.6 42.3h.01M392.7 25.1h.01M386.3 36.3h.01M386.3 34.6h.01M379.8 47.1h.01M392.5 25.3h.01M387.3 32.4h.01M386.1 35.2h.01M381.4 43.0h.01M382.1 43.3h.01M387.7 33.5h.01M378.5 49.2h.01M385.3 37.6h.01M392.8 24.9h.01M379.2 46.5h.01M389.6 29.7h.01M391.2 26.1h.01M392.6 24.8h.01M381.9 42.2h.01M391.5 25.8h.01M385.7 35.6h.01M383.2 39.8h.01M379.7 46.4h.01M390.9 27.0h.01M381.2 45.0h.01M377.6 49.4h.01M393.0 24.8h.01M378.8 48.0h.01M392.9 25.1h.01M391.9 25.6h.01M388.3 31.4h.01M388.3 31.4h.01M379.5 46.4h.01M382.5 42.1h.01M385.7 37.0h.01M391.2 27.4h.01M377.8 50.2h.01M387.5 34.2h.01M379.6 46.4h.01M390.5 27.5h.01M388.4 32.2h.01M387.7 33.2h.01M391.2 27.3h.01M385.6 36.7h.01M382.0 42.4h.01M381.7 43.6h.01M381.7 43.7h.01M379.6 46.4h.01M386.1 34.7h.01M382.8 40.2h.01M389.4 29.8h.01M390.6 28.7h.01M388.7 32.4h.01M378.8 47.7h.01M388.0 32.4h.01M386.0 35.2h.01M387.2 33.2h.01M381.5 43.1h.01M390.6 28.8h.01M381.4 43.4h.01M386.3 35.8h.01M391.7 26.9h.01M392.3 25.8h.01M389.7 30.1h.01M390.1 28.9h.01M391.8 25.0h.01M387.6 32.9h.01M378.3 48.2h.01M382.7 42.3h.01M388.3 31.2h.01M392.9 24.6h.01M392.4 23.7h.01M378.3 48.3h.01M388.3 32.5h.01M385.6 36.1h.01M381.6 43.5h.01M386.1 35.8h.01M388.0 31.6h.01M380.5 45.9h.01M378.4 48.4h.01M391.6 26.1h.01M383.2 40.2h.01M387.9 31.9h.01M391.6 25.9h.01M390.5 27.9h.01M385.9 36.2h.01M384.2 38.9h.01M387.4 33.3h.01M390.7 26.5h.01M383.1 40.6h.01M382.3 41.4h.01M392.4 24.4h.01M392.6 23.8h.01M387.7 33.7h.01M389.7 29.8h.01M379.1 46.9h.01M388.5 31.4h.01M390.5 28.4h.01M383.9 40.0h.01M388.4 32.1h.01M387.2 32.8h.01M386.4 34.4h.01M379.2 46.6h.01M387.1 33.4h.01M392.9 23.9h.01M391.3 25.8h.01M387.1 34.9h.01M388.8 31.8h.01M388.0 32.6h.01M389.1 31.1h.01M390.5 29.2h.01M378.0 49.9h.01M390.4 29.3h.01M390.7 27.5h.01M379.5 47.4h.01M382.2 43.0h.01M381.5 44.3h.01M391.2 27.7h.01M384.5 37.6h.01M379.5 46.7h.01M378.6 49.0h.01M382.5 42.4h.01M390.4 28.8h.01M390.9 27.3h.01M384.7 38.2h.01M380.1 45.1h.01M379.4 48.2h.01M381.2 43.8h.01M389.3 30.2h.01M391.3 27.0h.01M384.1 39.7h.01M378.7 47.8h.01M386.3 34.2h.01M386.0 35.5h.01M386.5 35.4h.01M380.2 46.5h.01M391.4 26.4h.01M387.6 33.2h.01M390.5 28.9h.01M382.3 43.2h.01M384.7 37.5h.01M384.5 38.9h.01M392.9 24.0h.01M382.5 41.7h.01M394.9 21.0h.01M397.3 16.7h.01M393.2 22.7h.01M396.9 16.7h.01M395.0 21.0h.01M392.8 23.8h.01M392.7 23.3h.01M392.9 24.3h.01M394.0 22.5h.01M387.0 41.4h.01M389.2 37.3h.01M384.2 45.5h.01M389.1 37.5h.01M387.6 39.9h.01M385.7 43.0h.01M385.5 43.7h.01M388.9 37.9h.01M390.3 35.2h.01M386.7 41.8h.01M391.2 33.9h.01M388.8 38.1h.01M385.6 43.4h.01M391.1 33.7h.01M390.4 34.6h.01M390.2 35.4h.01M385.2 43.8h.01M390.4 35.0h.01M388.1 39.6h.01M389.6 36.3h.01M389.2 37.4h.01M384.3 45.4h.01M386.1 42.4h.01M387.6 40.0h.01M382.8 47.5h.01M384.5 45.5h.01M387.6 40.4h.01M392.5 30.9h.01M387.6 39.8h.01M389.2 37.3h.01M388.8 38.5h.01M384.2 45.9h.01M388.3 38.8h.01M392.6 31.2h.01M387.5 40.4h.01M383.9 46.0h.01M384.7 44.9h.01M388.1 39.3h.01M391.3 33.8h.01M390.6 34.6h.01M388.9 38.0h.01M387.1 40.7h.01M389.3 36.9h.01M393.0 30.3h.01M389.5 36.5h.01M390.1 35.9h.01M389.3 36.9h.01M388.6 38.3h.01M392.3 31.7h.01M383.0 47.2h.01M385.8 43.5h.01M390.9 34.5h.01M392.7 30.2h.01M392.3 31.1h.01M386.9 41.5h.01M391.8 39.5h.01M389.9 42.1h.01M390.2 41.7h.01M385.8 47.2h.01M395.5 33.3h.01M389.3 42.8h.01M385.7 47.2h.01M385.9 46.8h.01M390.4 40.9h.01M388.4 43.6h.01M393.5 36.3h.01M385.7 47.1h.01M394.4 35.4h.01M389.9 42.1h.01M388.4 44.2h.01M393.8 35.8h.01M390.5 41.5h.01M394.0 36.1h.01M393.2 37.2h.01M395.0 34.4h.01M394.9 34.8h.01M390.1 41.5h.01M385.4 47.6h.01M394.0 35.7h.01M394.3 34.9h.01M395.5 33.8h.01M387.5 44.9h.01M392.3 38.1h.01M389.4 42.2h.01M386.4 46.6h.01M390.8 40.9h.01M393.9 35.7h.01M391.2 40.3h.01M389.7 41.8h.01M391.7 39.6h.01M388.0 44.3h.01M395.3 33.4h.01M394.2 35.2h.01M393.4 36.9h.01M385.9 46.5h.01M388.6 43.8h.01M392.5 37.7h.01M387.4 45.2h.01M391.8 39.3h.01M393.5 36.1h.01M384.9 48.1h.01M391.1 40.2h.01M392.2 38.2h.01M390.3 41.1h.01M386.1 46.9h.01M392.7 38.1h.01M388.1 44.3h.01M388.3 44.4h.01M394.1 35.8h.01M394.5 35.2h.01M394.6 40.8h.01M388.1 47.0h.01M394.0 41.4h.01M397.8 37.2h.01M391.2 44.4h.01M392.4 43.2h.01M388.2 47.1h.01M395.6 39.7h.01M398.1 36.8h.01M387.5 47.2h.01M391.5 43.9h.01M391.0 44.6h.01M389.1 46.6h.01M390.3 45.5h.01M393.2 42.1h.01M390.4 45.0h.01M391.1 44.5h.01M394.0 41.8h.01M388.3 47.0h.01M388.7 46.9h.01M395.7 39.3h.01M397.7 36.9h.01M388.5 47.0h.01M394.8 40.3h.01M388.0 47.2h.01M392.7 43.0h.01M393.3 41.8h.01M391.5 43.9h.01M395.3 40.4h.01M396.5 38.4h.01M397.9 37.1h.01M388.4 46.9h.01M392.7 43.0h.01M394.5 41.1h.01M389.2 46.1h.01M395.2 40.5h.01M391.7 43.8h.01M395.8 39.2h.01M389.2 46.1h.01M396.1 39.3h.01M395.3 39.7h.01M395.0 40.3h.01M395.6 39.6h.01M388.6 46.8h.01M391.9 43.5h.01M389.2 45.9h.01M391.3 44.6h.01M394.5 40.9h.01M396.4 38.5h.01M387.6 47.2h.01M393.9 41.3h.01M391.5 43.8h.01M388.3 47.3h.01M392.6 42.8h.01M394.4 41.1h.01M390.7 47.0h.01M400.2 39.9h.01M390.9 47.0h.01M395.0 44.3h.01M393.3 45.2h.01M390.6 46.8h.01M392.9 45.3h.01M397.2 42.7h.01M394.1 44.8h.01M398.3 41.9h.01M392.2 45.8h.01M396.4 43.5h.01M394.6 44.5h.01M389.9 47.1h.01M391.9 46.6h.01M391.8 46.2h.01M393.8 45.3h.01M396.8 42.9h.01M400.4 39.7h.01M395.5 44.2h.01M391.7 46.3h.01M392.9 45.9h.01M395.6 43.6h.01M393.1 45.7h.01M391.0 47.0h.01M398.8 41.0h.01M396.7 42.8h.01M397.5 42.4h.01M394.8 44.5h.01M391.7 46.8h.01M397.1 42.5h.01M393.7 45.4h.01M396.7 43.0h.01M391.4 46.8h.01M394.0 45.3h.01M390.4 47.3h.01M396.4 43.4h.01M398.4 41.8h.01M393.5 45.6h.01M395.6 44.0h.01M400.4 40.1h.01M394.0 44.9h.01M393.3 45.3h.01M398.4 42.1h.01M394.3 44.6h.01M390.2 47.3h.01M394.8 44.7h.01M400.0 40.3h.01M391.1 46.7h.01M392.7 46.2h.01M392.2 45.8h.01M398.3 42.0h.01M391.6 46.3h.01M392.5 46.0h.01M391.8 46.1h.01" stroke="#e41a1c" stroke-width="0.75" stroke-linecap="round" fill="none"/>
<path d="M440.2 90.7h.01M413.2 103.2h.01M422.7 89.3h.01M438.0 97.6h.01M446.8 83.6h.01M436.7 84.2h.01M394.5 97.4h.01M405.4 111.1h.01M434.4 88.4h.01M398.1 99.6h.01M400.5 98.1h.01M414.2 97.1h.01M414.7 91.3h.01M417.3 88.3h.01M395.4 98.2h.01M424.3 93.5h.01M382.9 95.2h.01M449.3 80.3h.01M379.7 93.8h.01M444.5 88.5h.01M420.7 87.3h.01M391.7 98.2h.01M396.7 98.3h.01M445.5 84.2h.01M380.3 88.5h.01M409.5 102.5h.01M438.7 88.3h.01M430.6 85.9h.01M453.0 85.2h.01M396.4 97.4h.01M423.2 90.2h.01M415.5 107.6h.01M438.2 86.3h.01M410.5 94.4h.01M415.3 96.8h.01M402.3 93.9h.01M396.6 96.1h.01M417.4 105.9h.01M397.5 111.6h.01M397.8 105.5h.01M428.4 92.0h.01M397.1 97.2h.01M405.6 92.2h.01M400.8 102.2h.01M407.2 93.3h.01M412.9 96.1h.01M419.3 96.6h.01M421.0 102.0h.01M409.0 91.9h.01M413.0 97.3h.01M447.7 78.9h.01M423.1 92.2h.01M419.2 110.0h.01M450.5 80.4h.01M384.9 97.8h.01M380.6 91.7h.01M423.3 92.2h.01M409.1 99.8h.01M380.9 89.5h.01M409.6 91.4h.01M413.9 95.6h.01M380.1 89.6h.01M435.8 89.2h.01M417.5 95.4h.01M443.6 84.3h.01M396.3 101.4h.01M443.2 83.6h.01M385.1 100.9h.01M436.4 86.0h.01M434.3 86.5h.01M394.8 100.0h.01M406.9 109.1h.01M457.2 77.7h.01M428.7 86.7h.01M393.3 109.2h.01M420.9 89.9h.01M417.5 91.8h.01M388.2 100.2h.01M380.6 95.6h.01M426.5 88.4h.01M430.4 99.8h.01M433.1 86.0h.01M435.1 88.7h.01M426.8 86.9h.01M443.1 90.8h.01M416.2 93.8h.01M411.8 95.5h.01M451.2 79.4h.01M401.8 98.1h.01M445.9 83.0h.01M412.3 109.3h.01M416.0 95.4h.01M434.4 88.1h.01M412.2 96.9h.01M415.5 94.5h.01M401.6 113.9h.01M405.8 92.9h.01M444.8 83.6h.01M424.5 103.1h.01M387.5 100.7h.01M412.3 96.7h.01M384.3 92.2h.01M457.5 80.4h.01M426.3 87.7h.01M387.2 94.0h.01M427.5 91.0h.01M416.1 93.7h.01M462.6 77.6h.01M449.5 81.3h.01M440.2 84.4h.01M450.3 79.6h.01M387.3 94.2h.01M414.6 90.0h.01M393.4 98.5h.01M392.0 96.2h.01M437.3 84.2h.01M410.4 94.8h.01M431.7 85.4h.01M410.6 106.2h.01M439.0 84.2h.01M415.3 93.0h.01M427.2 102.9h.01M391.9 97.2h.01M391.2 104.9h.01M387.7 94.3h.01M421.1 93.7h.01M407.3 93.2h.01M403.6 108.2h.01M400.3 99.4h.01M408.8 101.9h.01M439.9 95.3h.01M430.0 90.0h.01M396.0 103.1h.01M383.9 96.4h.01M409.4 96.5h.01M430.9 84.8h.01M420.4 88.6h.01M403.5 99.5h.01M439.5 90.8h.01M422.2 87.9h.01M421.1 94.0h.01M475.9 75.3h.01M431.0 85.8h.01M417.6 93.0h.01M456.5 78.5h.01M454.7 77.3h.01M396.7 97.5h.01M405.6 95.9h.01M413.0 90.2h.01M400.4 98.5h.01M423.6 89.4h.01M428.5 99.3h.01M444.7 92.6h.01M421.5 104.7h.01M419.2 87.6h.01M423.2 88.1h.01M394.2 104.5h.01M405.2 95.0h.01M417.2 100.2h.01M410.9 93.7h.01M443.3 83.7h.01M440.0 83.6h.01M431.4 87.6h.01M407.5 92.4h.01M392.9 104.6h.01M384.6 98.6h.01M425.8 98.2h.01M421.2 94.2h.01M389.5 97.1h.01M433.5 86.1h.01M417.6 89.8h.01M394.1 97.2h.01M446.8 83.9h.01M398.8 111.7h.01M406.7 115.4h.01M384.8 93.3h.01M421.1 87.0h.01M408.0 95.0h.01M410.1 97.6h.01M438.6 86.4h.01M395.6 95.3h.01M408.1 94.1h.01M424.8 99.0h.01M439.8 84.4h.01M440.8 83.1h.01M416.4 89.8h.01M383.2 93.0h.01M419.2 90.2h.01M423.6 100.1h.01M446.0 86.7h.01M418.5 88.6h.01M388.9 94.1h.01M435.1 87.9h.01M398.7 101.3h.01M380.0 88.4h.01M437.4 87.0h.01M449.5 80.7h.01M412.1 91.3h.01M402.6 92.9h.01M438.0 85.8h.01M443.7 86.8h.01M385.6 97.7h.01M444.1 84.3h.01M397.7 105.3h.01M404.2 96.6h.01M453.6 85.8h.01M440.9 91.6h.01M380.4 90.7h.01M403.6 93.1h.01M433.4 92.2h.01M450.4 79.2h.01M411.9 91.1h.01M427.1 86.3h.01M434.3 92.1h.01M393.2 99.2h.01M437.6 85.0h.01M433.3 85.7h.01M428.1 85.5h.01M414.9 88.9h.01M413.3 102.2h.01M428.5 103.4h.01M416.7 101.4h.01M430.8 91.7h.01M404.1 99.4h.01M423.5 94.9h.01M416.5 88.7h.01M381.0 89.5h.01M388.2 94.6h.01M439.6 84.9h.01M379.6 88.5h.01M402.4 108.4h.01M432.0 85.0h.01M383.9 92.6h.01M448.1 80.8h.01M411.6 101.1h.01M434.6 89.9h.01M390.9 103.0h.01M411.5 91.3h.01M411.9 96.2h.01M397.8 95.7h.01M441.2 83.4h.01M417.2 104.7h.01M419.5 89.0h.01M403.0 99.8h.01M446.5 81.0h.01M389.4 94.9h.01M436.7 93.7h.01M404.0 100.7h.01M396.5 109.6h.01M394.0 98.5h.01M414.0 106.7h.01M433.6 96.0h.01M415.7 90.6h.01M390.2 97.0h.01M448.1 83.9h.01M434.2 97.5h.01M417.0 97.2h.01M429.8 85.9h.01M442.9 84.4h.01M434.2 94.3h.01M381.8 90.6h.01M420.2 87.8h.01M419.1 90.7h.01M443.2 84.8h.01M426.3 92.9h.01M429.2 88.8h.01M436.8 89.1h.01M403.6 106.6h.01M401.1 95.0h.01M454.2 76.4h.01M450.4 80.8h.01M440.9 86.9h.01M388.8 94.2h.01M444.6 83.7h.01M416.1 91.1h.01M420.4 105.3h.01M392.9 101.6h.01M431.5 90.5h.01M438.7 90.8h.01M424.6 92.6h.01M393.4 95.5h.01M452.4 86.8h.01M411.0 98.3h.01M418.1 95.6h.01M404.2 101.2h.01M418.0 92.0h.01M439.4 85.4h.01M401.5 94.6h.01M450.6 78.8h.01M418.4 91.4h.01M379.5 89.1h.01M448.2 79.3h.01M428.3 89.4h.01M385.3 96.1h.01M396.9 101.3h.01M387.6 95.6h.01M380.2 90.1h.01M424.3 90.3h.01M422.8 90.6h.01M386.5 94.0h.01M429.4 91.6h.01M430.7 87.3h.01M388.4 101.1h.01M433.8 85.0h.01M427.9 92.4h.01M445.8 81.5h.01M399.6 101.0h.01M427.1 93.7h.01M428.1 90.5h.01M441.8 94.9h.01M401.9 96.7h.01M385.6 93.4h.01M435.3 101.6h.01M440.0 87.6h.01M417.6 89.3h.01M423.2 95.3h.01M452.0 78.4h.01M394.0 104.7h.01M447.3 79.6h.01M418.7 88.9h.01M422.4 89.0h.01M420.4 104.6h.01M446.0 91.0h.01M430.7 94.5h.01M427.4 98.3h.01M445.2 83.8h.01M384.5 97.4h.01M423.6 101.9h.01M445.1 87.0h.01M397.2 94.7h.01M396.0 107.0h.01M428.3 85.8h.01M441.8 82.1h.01M451.4 80.0h.01M412.9 94.9h.01M385.9 94.2h.01M401.4 104.5h.01M379.7 88.3h.01M397.1 104.0h.01M413.3 93.7h.01M415.2 95.3h.01M427.7 88.0h.01M400.3 94.2h.01M400.9 101.5h.01M446.8 81.3h.01M426.2 90.6h.01M444.9 87.7h.01M435.4 88.9h.01M421.9 90.0h.01M402.6 95.6h.01M412.3 94.5h.01M410.3 97.5h.01M413.5 97.9h.01M446.3 85.5h.01M417.5 94.4h.01M413.5 112.7h.01M419.0 91.7h.01M440.9 82.6h.01M459.1 75.5h.01M399.1 98.7h.01M416.3 106.5h.01M399.4 94.8h.01M438.6 86.9h.01M446.4 80.2h.01M415.2 96.9h.01M379.1 88.3h.01M389.2 98.5h.01M398.0 100.7h.01M404.7 100.2h.01M455.3 76.5h.01M421.7 92.7h.01M420.4 90.8h.01M402.6 93.8h.01M432.9 85.1h.01M398.0 99.8h.01M393.7 111.3h.01M450.8 81.3h.01M414.6 92.0h.01M422.9 101.9h.01M410.2 92.7h.01M416.6 90.7h.01M443.3 82.3h.01M399.8 95.2h.01M396.4 100.4h.01M457.1 77.9h.01M425.9 88.6h.01M410.8 98.6h.01M419.6 95.6h.01M393.1 110.5h.01M410.1 114.9h.01M401.5 100.6h.01M435.1 91.3h.01M392.3 95.7h.01M434.2 84.3h.01M392.9 96.1h.01M392.7 97.2h.01M387.0 94.9h.01M440.5 86.4h.01M413.2 100.0h.01M389.8 96.6h.01M410.7 94.0h.01M389.3 94.5h.01M432.8 86.0h.01M423.5 87.8h.01M417.9 93.9h.01M424.6 87.5h.01M434.2 100.0h.01M427.3 86.7h.01M393.9 96.5h.01M433.9 94.8h.01M408.7 100.3h.01M443.7 89.3h.01M435.8 84.1h.01M446.5 80.9h.01M404.9 99.0h.01M386.5 97.7h.01M426.8 88.6h.01M460.1 78.4h.01M406.3 100.5h.01M410.3 102.5h.01M414.6 91.6h.01M400.5 95.0h.01M428.5 95.2h.01M440.2 84.3h.01M420.3 88.9h.01M446.3 89.9h.01M396.8 105.6h.01M395.5 111.6h.01M434.2 85.6h.01M394.8 113.7h.01M420.5 96.8h.01M388.4 98.3h.01M448.3 79.9h.01M440.5 88.1h.01M392.7 96.7h.01M423.7 88.6h.01M392.8 108.9h.01M426.8 87.1h.01M440.2 92.8h.01M380.0 90.1h.01M440.8 89.1h.01M383.8 92.1h.01M385.7 95.2h.01M427.5 92.1h.01M438.3 85.8h.01M441.6 85.2h.01M384.6 101.6h.01M392.4 96.0h.01M449.8 81.6h.01M445.7 85.7h.01M443.7 89.1h.01M400.3 97.2h.01M410.4 92.5h.01M459.3 84.2h.01M452.4 79.3h.01M414.1 90.2h.01M379.3 90.2h.01M452.3 78.2h.01M419.9 89.8h.01M429.4 87.4h.01M440.8 85.0h.01M418.4 92.4h.01M422.2 98.8h.01M443.8 84.7h.01M433.1 89.3h.01M459.1 75.8h.01M430.0 95.5h.01M424.3 105.0h.01M421.7 94.5h.01M417.6 88.8h.01M434.1 91.5h.01M380.0 90.0h.01M429.7 99.9h.01M433.7 100.4h.01M414.5 98.1h.01M394.0 95.9h.01M386.9 96.0h.01M380.0 89.5h.01M450.3 85.5h.01M426.5 96.9h.01M401.9 94.1h.01M396.0 98.1h.01M444.3 81.8h.01M435.1 87.1h.01M445.0 81.4h.01M424.7 98.5h.01M414.1 91.2h.01M452.9 77.8h.01M379.6 93.4h.01M434.6 83.8h.01M430.7 91.0h.01M415.4 89.1h.01M425.9 89.5h.01M412.0 97.9h.01M449.5 80.2h.01M435.5 86.3h.01M418.5 89.7h.01M395.3 111.2h.01M429.4 87.3h.01M424.2 87.5h.01M440.1 93.0h.01M432.1 86.8h.01M386.3 94.4h.01M390.2 97.2h.01M410.9 91.9h.01M407.5 100.7h.01M394.6 95.3h.01M421.4 92.9h.01M412.7 107.2h.01M394.8 95.6h.01M405.2 97.2h.01M390.1 94.7h.01M430.2 86.5h.01M389.4 94.2h.01M411.9 97.2h.01M449.3 80.8h.01M399.8 113.9h.01M389.3 106.0h.01M384.9 92.7h.01M434.9 87.8h.01M435.7 84.2h.01M379.0 88.2h.01M438.3 83.9h.01M439.7 87.4h.01M407.9 102.9h.01M391.8 99.7h.01M388.2 94.4h.01M417.2 90.2h.01M418.2 88.0h.01M401.5 98.9h.01M405.6 92.5h.01M410.3 112.3h.01M390.1 98.4h.01M444.6 89.0h.01M384.0 91.9h.01M422.1 86.8h.01M389.3 94.3h.01M416.5 89.9h.01M380.9 89.6h.01M437.0 95.1h.01M394.2 96.7h.01M427.9 102.8h.01M418.9 99.4h.01M426.8 91.6h.01M379.2 88.2h.01M444.4 81.2h.01M418.0 90.4h.01M411.2 110.0h.01M401.0 105.5h.01M428.5 96.9h.01M387.6 98.7h.01M438.3 87.1h.01M436.6 91.2h.01M443.4 84.7h.01M404.2 93.0h.01M392.2 96.0h.01M441.9 86.5h.01M436.2 85.7h.01M415.3 91.7h.01M437.4 97.7h.01M400.8 102.6h.01M410.6 92.5h.01M447.1 83.0h.01M402.4 98.1h.01M397.8 101.4h.01M412.6 91.3h.01M455.6 75.7h.01M429.6 103.8h.01M415.1 88.8h.01M443.8 85.6h.01M445.6 86.2h.01M424.8 89.5h.01M380.4 88.9h.01M380.0 88.8h.01M386.2 98.3h.01M408.8 91.1h.01M400.7 95.8h.01M426.9 107.1h.01M393.0 96.9h.01M412.8 101.5h.01M450.5 78.8h.01M419.0 95.1h.01M396.7 95.0h.01M427.5 95.4h.01M382.7 94.1h.01M396.4 100.2h.01M419.2 103.1h.01M456.8 76.7h.01M414.0 95.8h.01M441.6 84.3h.01M442.5 85.2h.01M438.3 87.5h.01M449.2 86.4h.01M404.0 111.8h.01M433.4 96.3h.01M443.0 82.0h.01M437.0 98.1h.01M426.8 89.8h.01M436.1 93.3h.01M405.4 95.0h.01M434.8 89.9h.01M440.4 84.9h.01M380.1 90.5h.01M418.2 100.2h.01M390.6 97.1h.01M403.2 96.0h.01M413.0 95.6h.01M429.6 88.8h.01M410.2 97.1h.01M445.1 82.2h.01M390.7 99.5h.01M420.9 87.3h.01M394.1 101.2h.01M413.1 94.9h.01M454.3 77.1h.01M456.9 80.2h.01M406.9 99.9h.01M419.2 100.1h.01M463.6 78.3h.01M399.9 101.4h.01M395.8 109.9h.01M419.7 88.3h.01M424.6 104.4h.01M393.5 95.8h.01M407.9 105.1h.01M432.0 84.7h.01M385.3 98.1h.01M447.8 80.7h.01M450.4 85.5h.01M439.9 90.9h.01M435.7 87.4h.01M389.3 95.9h.01M456.4 81.7h.01M464.2 77.0h.01M399.4 98.7h.01M412.1 101.3h.01M406.9 95.6h.01M384.1 99.0h.01M433.2 86.0h.01M441.0 84.4h.01M431.9 90.7h.01M409.9 91.1h.01M436.8 86.8h.01M437.9 84.5h.01M431.4 91.9h.01M440.1 85.3h.01M394.3 105.8h.01M456.7 75.2h.01M459.8 77.1h.01M418.0 91.9h.01M423.3 97.8h.01M416.6 90.2h.01M406.7 96.9h.01M401.6 106.6h.01M455.8 78.5h.01M412.1 93.9h.01M416.4 96.3h.01M442.1 89.3h.01M391.7 97.2h.01M446.0 85.2h.01M421.5 92.6h.01M394.1 96.3h.01M421.2 90.8h.01M432.0 86.5h.01M434.2 86.8h.01M395.5 96.8h.01M379.6 91.7h.01M406.5 96.6h.01M418.1 98.4h.01M403.0 100.4h.01M416.3 109.3h.01M423.9 86.3h.01M389.5 96.1h.01M439.6 85.5h.01M447.7 81.4h.01M420.8 100.3h.01M425.4 86.1h.01M403.9 94.8h.01M401.9 93.0h.01M422.3 87.7h.01M452.6 78.1h.01M427.7 94.4h.01M414.5 103.1h.01M430.3 96.0h.01M439.0 86.6h.01M392.0 100.2h.01M384.7 92.3h.01M455.0 76.4h.01M379.4 88.7h.01M412.9 89.5h.01M446.6 85.0h.01M428.7 85.8h.01M392.8 106.2h.01M394.5 97.8h.01M441.8 83.2h.01M408.4 103.2h.01M450.5 82.9h.01M423.6 98.7h.01M419.3 104.1h.01M455.7 78.5h.01M381.4 93.0h.01M405.2 102.7h.01M424.9 86.2h.01M391.9 97.7h.01M431.5 84.9h.01M435.6 83.9h.01M383.5 91.4h.01M418.7 94.9h.01M407.9 92.6h.01M411.9 95.8h.01M389.7 100.4h.01M380.9 90.9h.01M423.9 86.9h.01M426.9 86.2h.01M398.4 107.7h.01M450.9 80.6h.01M396.8 96.2h.01M407.4 93.1h.01M430.5 99.7h.01M401.7 93.1h.01M435.4 83.5h.01M419.7 93.6h.01M440.3 84.4h.01M418.7 90.3h.01M440.2 91.1h.01M410.6 90.4h.01M445.6 81.1h.01M437.3 85.7h.01M447.7 90.0h.01M427.6 86.8h.01M397.7 105.0h.01M434.5 95.8h.01M396.5 103.0h.01M414.8 99.2h.01M438.7 98.0h.01M428.8 85.6h.01M426.3 91.3h.01M444.7 82.6h.01M414.6 96.8h.01M411.3 92.7h.01M438.8 86.0h.01M406.1 98.0h.01M455.5 79.8h.01M391.8 94.8h.01M418.3 94.3h.01M442.9 83.2h.01M441.7 86.1h.01M422.3 91.9h.01M405.0 95.1h.01M444.3 92.0h.01M430.4 88.4h.01M397.2 94.6h.01M403.0 95.3h.01M413.5 93.1h.01M389.6 97.9h.01M454.1 78.8h.01M401.6 100.3h.01M407.0 113.3h.01M392.8 99.4h.01M412.2 97.2h.01M416.8 96.8h.01M453.1 80.2h.01M405.8 103.4h.01M427.8 92.7h.01M381.9 90.5h.01M424.6 87.1h.01M402.5 94.0h.01M410.8 101.1h.01M380.3 91.9h.01M392.1 106.3h.01M409.9 105.9h.01M426.4 87.9h.01M409.9 110.9h.01M423.1 93.9h.01M405.1 110.8h.01M393.1 96.4h.01M445.0 82.8h.01M445.9 83.1h.01M404.8 96.9h.01M434.7 83.6h.01M456.9 75.3h.01M379.6 89.0h.01M426.3 93.0h.01M442.8 82.0h.01M425.7 86.3h.01M429.2 95.6h.01M433.1 84.2h.01M436.7 89.5h.01M429.3 96.2h.01M400.9 96.8h.01M411.7 110.3h.01M427.7 91.0h.01M389.0 106.2h.01M420.5 88.6h.01M441.0 84.4h.01M443.9 82.7h.01M384.6 94.0h.01M436.2 88.1h.01M439.7 90.0h.01M426.7 86.2h.01M450.0 84.8h.01M448.9 79.6h.01M430.6 103.2h.01M406.5 114.6h.01M401.3 93.5h.01M437.6 84.2h.01M446.4 87.6h.01M421.0 88.9h.01M390.5 98.8h.01M393.1 106.9h.01M460.6 77.2h.01M384.3 93.9h.01M408.5 92.2h.01M414.1 90.7h.01M444.1 83.9h.01M393.6 96.4h.01M419.0 96.6h.01M438.1 83.9h.01M435.9 85.4h.01M402.5 111.6h.01M449.5 80.3h.01M410.3 90.8h.01M422.1 87.6h.01M421.6 92.8h.01M431.6 98.9h.01M444.9 87.1h.01M400.1 103.1h.01M445.6 82.6h.01M439.8 86.7h.01M448.1 79.7h.01M414.6 97.7h.01M394.6 95.2h.01M426.8 89.7h.01M399.0 100.7h.01M404.7 92.7h.01M444.8 85.5h.01M426.8 92.2h.01M439.5 84.5h.01M393.7 95.1h.01M403.6 99.6h.01M442.6 84.6h.01M416.4 95.7h.01M384.2 95.7h.01M445.2 85.1h.01M393.3 100.4h.01M432.1 95.3h.01M410.1 99.3h.01M443.6 84.0h.01M437.3 86.6h.01M438.4 88.6h.01M396.5 100.9h.01M440.1 85.2h.01M441.8 82.5h.01M406.9 98.3h.01M444.7 84.6h.01M427.1 90.3h.01M404.0 104.0h.01M455.3 77.0h.01M404.4 95.8h.01M388.7 94.1h.01M415.7 89.8h.01M438.1 87.1h.01M416.9 95.0h.01M408.6 92.1h.01M438.1 85.1h.01M405.0 100.0h.01M438.3 89.3h.01M448.8 79.8h.01M393.2 109.8h.01M441.0 82.4h.01M409.8 92.5h.01M426.5 87.9h.01M391.8 99.2h.01M412.2 91.1h.01M449.0 85.9h.01M435.3 86.0h.01M420.1 101.5h.01M449.8 79.6h.01M408.4 98.6h.01M425.6 90.3h.01M381.5 94.7h.01M421.7 88.9h.01M435.4 97.0h.01M428.1 91.3h.01M402.0 96.6h.01M459.8 81.2h.01M396.2 95.9h.01M403.6 95.9h.01M432.2 86.3h.01M427.1 88.2h.01M391.9 101.3h.01M386.6 93.2h.01M394.9 101.7h.01M398.6 109.0h.01M413.3 99.0h.01M396.5 96.1h.01M435.6 91.9h.01M397.5 103.0h.01M444.6 82.2h.01M415.1 88.9h.01M399.1 96.8h.01M393.2 104.6h.01M387.8 94.8h.01M404.9 92.7h.01M402.8 98.7h.01M431.0 86.5h.01M387.8 94.4h.01M398.3 94.2h.01M395.1 105.1h.01M418.1 98.9h.01M399.4 102.1h.01M456.8 80.8h.01M419.7 98.8h.01M438.8 83.1h.01M431.5 87.7h.01M448.0 84.7h.01M383.7 95.9h.01M460.9 75.6h.01M387.3 97.4h.01M397.2 98.4h.01M403.6 110.1h.01M411.2 93.6h.01M441.2 82.2h.01M404.6 109.4h.01M422.1 87.1h.01M422.1 102.2h.01M408.9 113.9h.01M432.2 100.2h.01M398.7 97.8h.01M427.0 91.1h.01M429.2 97.9h.01M405.3 98.0h.01M429.9 86.0h.01M418.0 89.2h.01M447.8 82.1h.01M415.0 93.8h.01M408.1 92.8h.01M392.6 99.7h.01M420.4 92.7h.01M382.5 91.6h.01M436.4 91.2h.01M406.0 97.7h.01M435.2 90.3h.01M413.6 92.3h.01M394.0 99.3h.01M413.3 91.3h.01M445.1 89.4h.01M411.0 92.9h.01M384.9 97.9h.01M397.3 96.1h.01M422.4 88.1h.01M424.0 89.9h.01M383.6 92.1h.01M382.2 94.5h.01M436.4 99.9h.01M445.4 81.0h.01M409.6 106.0h.01M448.9 83.8h.01M426.6 93.4h.01M422.3 87.6h.01M436.3 84.2h.01M400.2 97.6h.01M385.9 94.2h.01M389.0 94.3h.01M402.0 100.1h.01M441.6 83.6h.01M421.2 98.8h.01M407.0 99.3h.01M396.0 99.2h.01M427.7 85.6h.01M422.5 90.1h.01M391.7 97.0h.01M415.7 88.7h.01M396.8 95.7h.01M437.0 96.3h.01M422.6 88.9h.01M385.0 93.9h.01M394.7 96.4h.01M449.5 81.5h.01M416.2 89.5h.01M451.8 78.7h.01M461.8 78.9h.01M421.1 93.0h.01M419.4 90.3h.01M442.3 89.8h.01M426.6 87.1h.01M407.1 93.4h.01M389.4 95.1h.01M410.0 107.6h.01M432.4 84.9h.01M438.0 83.5h.01M399.3 97.9h.01M403.7 103.3h.01M397.2 108.3h.01M426.4 107.4h.01M452.8 77.5h.01M449.2 79.8h.01M432.4 87.9h.01M402.7 94.4h.01M427.6 96.8h.01M380.9 93.2h.01M397.0 97.3h.01M405.1 93.7h.01M412.5 97.6h.01M420.6 87.3h.01M409.8 96.8h.01M398.7 95.2h.01M428.0 97.5h.01M439.3 90.3h.01M410.2 102.1h.01M445.2 83.6h.01M404.9 95.1h.01M419.3 93.0h.01M428.8 87.6h.01M444.5 90.6h.01M395.0 106.5h.01M412.8 91.5h.01M384.0 96.9h.01M399.6 103.3h.01M444.7 88.6h.01M394.9 108.7h.01M440.6 88.1h.01M455.2 75.7h.01M449.7 79.8h.01M453.3 81.1h.01M408.7 99.0h.01M423.6 101.7h.01M401.3 98.1h.01M427.0 86.1h.01M397.9 113.6h.01M392.5 104.3h.01M408.4 95.1h.01M383.4 97.2h.01M412.5 100.6h.01M436.7 90.9h.01M452.1 77.9h.01M395.1 96.7h.01M442.4 84.1h.01M394.8 105.6h.01M430.2 85.1h.01M393.8 95.8h.01M424.8 89.1h.01M432.8 87.0h.01M456.6 79.4h.01M426.1 86.2h.01M469.7 77.3h.01M399.4 95.6h.01M406.4 101.9h.01M434.6 93.6h.01M415.3 92.8h.01M419.0 88.2h.01M395.1 97.3h.01M421.0 95.5h.01M385.3 93.8h.01M445.5 83.2h.01M417.1 95.1h.01M399.7 95.5h.01M417.5 105.7h.01M404.8 93.3h.01M399.4 94.1h.01M444.3 81.5h.01M401.3 95.8h.01M406.7 95.4h.01M417.5 92.5h.01M429.3 87.2h.01M385.9 92.8h.01M398.1 99.2h.01M380.5 92.8h.01M392.8 95.8h.01M438.5 99.3h.01M413.6 101.7h.01M449.0 79.5h.01M431.9 85.7h.01M387.0 94.6h.01M426.5 87.7h.01M449.5 80.4h.01M417.4 88.2h.01M403.7 92.7h.01M435.2 83.9h.01M435.7 86.1h.01M420.9 91.9h.01M423.5 86.7h.01M405.2 96.7h.01M386.7 95.4h.01M387.5 95.2h.01M447.0 82.0h.01M439.6 85.2h.01M401.3 94.7h.01M455.5 76.8h.01M397.1 101.6h.01M390.7 95.7h.01M410.3 94.8h.01M445.5 80.8h.01M417.2 94.8h.01M404.7 101.3h.01M393.9 96.5h.01M412.2 93.9h.01M399.6 104.2h.01M421.9 87.8h.01M423.6 91.0h.01M408.5 93.6h.01M399.4 94.1h.01M404.2 94.1h.01M409.3 97.6h.01M431.6 86.4h.01M411.2 101.8h.01M434.3 85.2h.01M449.5 81.9h.01M435.8 86.3h.01M412.8 92.4h.01M435.8 83.6h.01M421.8 88.5h.01M417.2 90.3h.01M439.6 85.3h.01M449.2 83.4h.01M425.5 86.1h.01M424.6 86.5h.01M433.1 86.3h.01M437.3 83.1h.01M391.0 98.6h.01M407.4 91.8h.01M449.4 81.2h.01M424.2 89.5h.01M445.1 82.4h.01M430.7 87.1h.01M394.9 97.7h.01M429.3 85.4h.01M442.0 87.0h.01M394.2 95.5h.01M414.5 89.8h.01M422.2 95.3h.01M418.1 89.3h.01M403.3 95.7h.01M416.8 90.1h.01M409.5 90.7h.01M425.3 88.2h.01M386.5 93.9h.01M394.3 103.5h.01M433.1 85.5h.01M423.5 86.9h.01M399.0 98.1h.01M432.4 84.6h.01M438.7 85.0h.01M386.9 93.3h.01M393.8 98.1h.01M405.0 92.1h.01M428.8 86.2h.01M423.1 98.4h.01M435.8 85.4h.01M427.9 86.2h.01M442.6 82.1h.01M394.1 97.5h.01M448.3 78.2h.01M391.5 97.7h.01M450.8 78.5h.01M408.2 92.5h.01M427.5 87.6h.01M419.4 89.2h.01M419.5 90.0h.01M409.9 90.8h.01M406.2 98.5h.01M437.9 84.0h.01M443.8 81.9h.01M404.9 107.8h.01M433.4 85.8h.01M432.8 88.0h.01M413.6 91.1h.01M405.2 93.4h.01M434.6 86.3h.01M392.9 97.1h.01M429.1 86.5h.01M441.2 84.8h.01M422.3 90.9h.01M425.7 88.0h.01M397.5 97.5h.01M396.7 95.7h.01M403.3 98.8h.01M398.2 95.2h.01M429.1 85.2h.01M401.5 99.8h.01M385.2 94.4h.01M432.1 84.8h.01M415.5 88.7h.01M432.4 90.2h.01M414.5 92.2h.01M434.1 84.9h.01M402.3 93.6h.01M447.6 79.8h.01M391.3 94.8h.01M411.3 98.8h.01M401.4 98.7h.01M416.8 91.4h.01M417.5 92.2h.01M442.5 83.0h.01M387.3 100.5h.01M446.1 80.6h.01M422.4 87.3h.01M411.0 93.8h.01M396.8 95.7h.01M407.2 92.6h.01M409.4 94.9h.01M390.0 94.6h.01M431.0 85.1h.01M399.6 95.0h.01M426.4 88.2h.01M412.7 89.7h.01M421.9 100.8h.01M415.8 91.6h.01M428.5 88.5h.01M448.9 81.4h.01M456.5 75.8h.01M424.2 93.8h.01M439.6 83.2h.01M430.9 88.7h.01M411.0 90.4h.01M454.7 78.2h.01M408.0 100.7h.01M421.5 93.9h.01M407.4 92.5h.01M435.2 85.6h.01M459.2 77.1h.01M412.9 90.7h.01M423.0 94.1h.01M406.9 91.8h.01M430.2 88.9h.01M411.6 90.5h.01M438.7 86.7h.01M412.0 97.0h.01M395.5 96.5h.01M383.4 92.8h.01M395.2 101.5h.01M415.4 96.5h.01M434.8 84.8h.01M423.5 88.1h.01M469.1 75.5h.01M393.4 98.4h.01M421.0 89.6h.01M413.0 90.7h.01M418.7 94.5h.01M399.7 96.7h.01M424.3 86.9h.01M436.2 89.3h.01M419.0 88.0h.01M395.0 96.9h.01M431.7 85.2h.01M425.2 87.9h.01M396.8 95.6h.01M427.2 91.2h.01M440.8 87.4h.01M380.4 88.5h.01M400.2 96.8h.01M425.8 86.3h.01M412.4 93.6h.01M403.4 94.2h.01M448.5 80.5h.01M436.5 84.1h.01M431.8 87.2h.01M397.6 95.3h.01M399.5 102.2h.01M416.7 94.1h.01M436.4 85.1h.01M440.3 85.2h.01M402.1 93.3h.01M431.9 88.6h.01M406.8 96.0h.01M420.6 90.9h.01M401.0 96.0h.01M410.0 90.8h.01M435.2 86.8h.01M425.6 90.7h.01M439.0 83.5h.01M435.5 84.8h.01M425.3 88.6h.01M444.1 82.2h.01M435.4 87.7h.01M394.3 98.2h.01M443.4 82.5h.01M451.9 78.4h.01M437.4 83.9h.01M438.0 87.5h.01M446.2 81.2h.01M385.7 95.9h.01M415.7 89.8h.01M426.4 85.8h.01M430.2 84.9h.01M384.1 92.8h.01M431.7 84.6h.01M393.1 96.0h.01M413.5 91.8h.01M425.9 95.0h.01M434.6 88.6h.01M439.2 84.1h.01M424.5 86.7h.01M396.4 95.8h.01M435.6 89.3h.01M411.0 97.2h.01M409.5 90.5h.01M402.3 98.6h.01M417.6 95.2h.01M407.7 91.3h.01M382.4 91.6h.01M429.0 90.9h.01M448.1 80.5h.01M440.2 82.7h.01M451.4 79.4h.01M391.9 100.3h.01M422.9 88.3h.01M450.1 79.5h.01M426.5 85.9h.01M403.7 93.5h.01M452.1 78.9h.01M418.6 89.7h.01M415.3 92.5h.01M399.8 93.7h.01M457.6 76.6h.01M392.5 96.3h.01M440.5 84.6h.01M409.4 90.9h.01M411.1 90.6h.01M454.6 76.7h.01M441.5 88.3h.01M413.6 92.2h.01M420.6 91.4h.01M444.7 84.0h.01M400.6 93.7h.01M439.0 83.6h.01M410.5 91.6h.01M393.1 100.4h.01M419.0 93.1h.01M441.0 83.2h.01M431.7 86.5h.01M437.2 85.2h.01M404.1 93.2h.01M418.0 92.8h.01M420.3 98.4h.01M401.1 95.6h.01M421.7 88.3h.01M407.5 91.6h.01M402.5 98.1h.01M475.6 76.6h.01M398.0 98.7h.01M420.3 89.0h.01M405.5 91.9h.01M413.8 90.7h.01M437.0 84.7h.01M451.6 79.8h.01M392.6 95.1h.01M395.7 96.6h.01M421.5 87.2h.01M407.3 103.5h.01M393.1 96.6h.01M423.9 90.6h.01M411.3 92.3h.01M392.0 95.2h.01M400.2 98.9h.01M393.6 96.1h.01M441.7 83.1h.01M405.1 95.3h.01M410.0 90.8h.01M386.5 93.5h.01M426.7 85.6h.01M394.7 101.9h.01M420.8 97.2h.01M422.7 104.8h.01M449.3 81.0h.01M382.8 93.0h.01M460.1 76.3h.01M411.0 91.2h.01M393.8 99.3h.01M417.0 90.0h.01M431.8 84.7h.01M422.8 86.8h.01M414.4 94.1h.01M427.1 85.9h.01M417.0 89.5h.01M448.3 79.4h.01M409.0 93.2h.01M394.8 95.2h.01M427.6 87.2h.01M382.3 90.6h.01M402.2 98.8h.01M391.1 96.2h.01M416.4 101.8h.01M435.5 84.8h.01M454.0 79.4h.01M450.7 79.5h.01M419.1 87.9h.01M462.6 76.0h.01M413.0 94.8h.01M448.7 80.0h.01M408.5 92.3h.01M402.8 95.0h.01M392.9 95.6h.01M428.1 90.5h.01M405.6 92.7h.01M419.5 88.7h.01M411.2 91.2h.01M447.1 80.8h.01M429.9 85.2h.01M421.3 98.5h.01M452.0 78.4h.01M421.5 88.5h.01M380.4 88.6h.01M423.4 88.1h.01M402.6 99.5h.01M444.6 87.1h.01M415.4 92.5h.01M415.2 91.2h.01M433.3 85.4h.01M419.7 87.3h.01M426.9 85.8h.01M454.4 77.7h.01M437.8 83.1h.01M385.3 93.3h.01M409.1 91.4h.01M451.2 81.1h.01M410.7 94.2h.01M396.9 95.7h.01M449.3 80.3h.01M465.4 77.2h.01M412.0 96.4h.01M460.9 76.4h.01M404.9 92.1h.01M424.9 87.7h.01M382.0 91.0h.01M433.0 85.2h.01M401.3 97.1h.01M427.2 86.3h.01M424.1 89.9h.01M394.8 96.1h.01M447.0 81.4h.01M439.9 84.2h.01M387.8 95.0h.01M413.5 89.8h.01M400.6 99.3h.01M397.5 100.4h.01M397.8 95.4h.01M408.8 96.8h.01M383.0 92.3h.01M388.9 95.4h.01M414.6 88.9h.01M426.3 90.5h.01M436.5 83.6h.01M395.1 97.7h.01M401.3 96.0h.01M385.7 92.9h.01M413.6 93.2h.01M446.7 80.1h.01M428.9 85.0h.01M383.3 92.3h.01M455.4 75.5h.01M459.7 75.3h.01M437.1 98.6h.01M451.9 77.7h.01M379.9 89.2h.01M427.1 87.9h.01M410.8 103.5h.01M404.3 97.9h.01M382.9 91.0h.01M421.7 87.9h.01M398.6 103.6h.01M403.5 97.8h.01M397.8 98.4h.01M399.4 97.2h.01M436.7 85.2h.01M436.5 84.0h.01M385.6 93.2h.01M407.4 92.3h.01M382.8 91.6h.01M433.0 84.7h.01M419.5 87.8h.01M451.7 80.0h.01M397.7 99.7h.01M393.3 98.6h.01M433.2 87.1h.01M396.3 95.1h.01M427.1 86.0h.01M414.7 89.4h.01M414.6 95.2h.01M381.1 90.3h.01M403.0 95.4h.01M413.8 91.7h.01M386.3 94.3h.01M379.5 89.1h.01M445.7 83.1h.01M427.8 92.5h.01M403.8 93.3h.01M383.6 91.7h.01M392.8 95.9h.01M431.9 90.0h.01M449.7 80.4h.01M447.4 80.0h.01M410.4 92.8h.01M423.8 86.4h.01M410.1 91.1h.01M381.4 90.4h.01M443.3 81.9h.01M435.2 86.2h.01M451.8 79.5h.01M389.8 98.2h.01M421.2 93.6h.01M405.3 95.6h.01M441.0 89.7h.01M394.0 95.9h.01M398.9 99.7h.01M448.8 80.0h.01M416.4 88.6h.01M426.6 87.1h.01M405.8 95.8h.01M413.5 94.2h.01M407.9 93.3h.01M383.6 92.8h.01M410.2 93.4h.01M430.8 85.5h.01M434.3 84.1h.01M391.1 94.9h.01M448.6 77.8h.01M440.4 84.0h.01M447.3 82.5h.01M424.5 88.3h.01M380.6 92.3h.01M412.6 92.8h.01M405.1 94.2h.01M409.8 100.1h.01M448.2 80.9h.01M407.9 93.4h.01M421.8 93.1h.01M412.2 90.6h.01M421.3 88.5h.01M388.3 95.9h.01M425.5 92.4h.01M411.0 90.5h.01M401.0 93.8h.01M423.6 93.0h.01M438.4 84.5h.01M446.4 80.2h.01M407.6 91.8h.01M401.7 101.0h.01M403.5 95.2h.01M409.9 90.7h.01M398.7 94.5h.01M440.0 93.4h.01M437.1 85.2h.01M396.1 96.7h.01M395.6 98.2h.01M388.0 95.1h.01M444.0 83.3h.01M443.7 81.8h.01M390.3 96.0h.01M406.0 103.5h.01M409.4 95.5h.01M438.4 83.6h.01M428.4 91.3h.01M408.3 90.9h.01M456.2 77.0h.01M379.7 88.2h.01M438.6 86.6h.01M403.1 93.3h.01M427.3 85.5h.01M438.8 94.7h.01M389.9 97.0h.01M454.6 78.1h.01M410.2 90.7h.01M437.7 85.6h.01M426.5 86.1h.01M410.0 94.7h.01M451.6 78.1h.01M408.9 91.6h.01M424.2 88.0h.01M441.0 84.5h.01M419.1 88.2h.01M450.5 78.9h.01M423.4 88.1h.01M416.4 92.0h.01M436.0 86.4h.01M440.0 83.6h.01M383.0 92.0h.01M418.7 87.9h.01M425.4 92.9h.01M407.6 97.8h.01M454.8 76.3h.01M404.7 98.1h.01M441.4 88.2h.01M392.3 98.1h.01M382.0 90.1h.01M387.0 93.6h.01M429.4 90.0h.01M385.9 93.9h.01M446.5 82.3h.01M433.7 84.4h.01M432.8 84.7h.01M440.7 84.4h.01M426.1 86.2h.01M422.1 92.8h.01M427.1 85.9h.01M424.6 91.0h.01M437.3 101.0h.01M449.1 79.6h.01M380.6 89.2h.01M405.7 99.1h.01M438.4 83.5h.01M420.4 90.0h.01M416.0 88.7h.01M444.6 82.9h.01M442.0 82.2h.01M389.4 97.8h.01M440.0 83.9h.01M407.5 92.4h.01M433.9 84.0h.01M409.8 94.8h.01M424.2 86.3h.01M412.1 93.7h.01M436.6 84.6h.01M438.6 82.9h.01M434.4 85.9h.01M411.8 92.4h.01M448.4 78.3h.01M440.9 83.8h.01M433.4 85.7h.01M405.6 98.8h.01M413.1 91.1h.01M457.2 75.3h.01M427.9 86.0h.01M422.6 89.0h.01M443.2 85.1h.01M429.3 85.5h.01M408.7 90.8h.01M428.7 87.1h.01M423.3 90.2h.01M394.0 94.9h.01M409.6 91.3h.01M421.5 91.5h.01M442.6 81.9h.01M421.7 94.0h.01M448.6 80.9h.01M395.8 99.5h.01M418.5 94.2h.01M454.8 75.9h.01M407.2 92.2h.01M383.5 93.1h.01M411.1 90.6h.01M404.9 97.7h.01M454.0 76.7h.01M395.4 95.1h.01M452.8 78.8h.01M381.5 89.9h.01M450.4 78.6h.01M438.3 82.9h.01M421.6 88.4h.01M395.1 100.8h.01M394.5 97.7h.01M442.0 82.4h.01M414.1 92.1h.01M429.1 85.7h.01M411.3 99.7h.01M392.7 97.4h.01M402.9 99.3h.01M422.9 87.6h.01M382.4 90.8h.01M419.6 93.0h.01M430.5 85.6h.01M384.5 95.8h.01M418.0 89.7h.01M395.8 99.0h.01M421.5 98.2h.01M429.5 86.1h.01M393.3 97.8h.01M445.8 81.0h.01M443.7 83.5h.01M394.6 95.8h.01M413.0 90.6h.01M392.3 96.0h.01M395.8 96.6h.01M417.3 91.1h.01M391.1 96.3h.01M380.0 89.4h.01M433.3 83.9h.01M451.1 79.4h.01M446.3 82.9h.01M404.1 95.1h.01M431.3 86.4h.01M441.5 84.2h.01M398.6 99.4h.01M402.3 95.3h.01M422.9 91.7h.01M446.0 84.8h.01M424.6 86.4h.01M439.4 86.3h.01M436.1 86.1h.01M388.4 96.5h.01M410.8 90.7h.01M439.7 85.6h.01M417.2 88.5h.01M391.1 94.9h.01M385.2 95.6h.01M448.9 81.1h.01M421.2 93.8h.01M420.5 90.6h.01M405.6 104.4h.01M412.5 92.1h.01M388.0 94.2h.01M407.1 94.9h.01M404.3 95.6h.01M443.4 82.0h.01M438.4 85.5h.01M404.7 94.9h.01M386.9 94.5h.01M408.3 109.4h.01M402.0 97.8h.01M392.7 99.1h.01M439.0 97.2h.01M450.0 82.5h.01M417.6 88.4h.01M427.3 87.0h.01M424.3 92.8h.01M449.0 79.6h.01M412.7 97.3h.01M380.3 89.3h.01M396.8 96.3h.01M391.8 95.0h.01M389.9 98.1h.01M435.9 84.4h.01M407.2 95.8h.01M434.2 86.5h.01M438.5 83.0h.01M437.0 83.9h.01M412.0 89.9h.01M426.4 96.3h.01M442.1 84.9h.01M409.6 95.3h.01M386.6 93.1h.01M454.6 80.4h.01M437.4 87.4h.01M439.8 82.5h.01M406.7 93.5h.01M384.8 92.9h.01M388.7 95.5h.01M430.4 91.9h.01M419.6 87.9h.01M406.6 94.5h.01M386.8 96.1h.01M420.9 95.7h.01M435.4 89.2h.01M415.0 93.0h.01M393.3 95.2h.01M379.8 89.1h.01M379.3 87.8h.01M412.2 90.1h.01M431.9 88.3h.01M430.9 86.0h.01M441.9 83.2h.01M383.8 91.8h.01M382.4 90.8h.01M399.2 96.2h.01M413.4 91.9h.01M407.8 92.0h.01M441.2 82.3h.01M428.1 87.0h.01M400.6 94.8h.01M394.0 95.6h.01M410.1 90.4h.01M436.4 83.5h.01M428.3 93.5h.01M444.4 87.4h.01M444.3 81.6h.01M382.1 90.1h.01M416.1 98.9h.01M401.5 93.7h.01M434.9 91.5h.01M400.9 93.5h.01M430.9 92.7h.01M428.4 87.0h.01M449.1 80.4h.01M395.4 96.1h.01M395.5 96.0h.01M450.1 81.3h.01M395.2 95.3h.01M433.3 87.0h.01M441.3 82.2h.01M395.2 95.9h.01M428.7 87.5h.01M425.4 89.8h.01M447.4 81.6h.01M434.1 84.9h.01M431.4 85.1h.01M425.0 86.4h.01M443.5 82.9h.01M409.8 95.1h.01M414.3 89.8h.01M429.1 86.4h.01M453.6 76.8h.01M380.7 88.9h.01M404.2 94.9h.01M428.8 87.2h.01M381.6 91.9h.01M416.6 95.7h.01M407.4 98.4h.01M445.2 83.0h.01M441.7 83.4h.01M394.7 99.4h.01M401.1 96.0h.01M409.9 92.3h.01M383.4 93.0h.01M430.3 84.9h.01M386.9 93.5h.01M412.6 98.5h.01M409.4 100.4h.01M441.9 82.7h.01M425.3 90.5h.01M427.7 89.7h.01M427.4 86.8h.01M418.7 89.7h.01M423.7 89.7h.01M396.4 95.3h.01M448.4 85.6h.01M441.2 83.0h.01M440.2 82.4h.01M416.7 88.6h.01M446.2 80.7h.01M432.4 84.9h.01M407.1 93.8h.01M401.8 98.3h.01M429.4 87.7h.01M396.2 95.0h.01M380.2 89.1h.01M399.1 97.8h.01M392.2 95.7h.01M437.9 88.0h.01M451.8 78.1h.01M431.6 90.6h.01M413.0 89.4h.01M396.2 96.3h.01M422.8 88.2h.01M421.9 89.2h.01M449.8 81.7h.01M438.9 87.0h.01M424.5 88.4h.01M433.0 84.5h.01M391.3 94.7h.01M437.8 86.6h.01M450.5 80.0h.01M442.5 92.1h.01M411.1 90.4h.01M440.6 92.2h.01M444.1 84.6h.01M403.1 95.6h.01M402.1 96.7h.01M409.4 99.1h.01M415.1 91.3h.01M427.7 85.7h.01M385.9 94.5h.01M419.7 90.0h.01M412.5 93.3h.01M404.4 92.6h.01M440.7 82.9h.01M430.6 93.0h.01M424.5 86.5h.01M427.4 91.8h.01M441.2 82.2h.01M402.5 101.3h.01M420.1 88.3h.01M412.1 95.9h.01M394.8 104.6h.01M474.2 75.8h.01M391.2 94.9h.01M411.8 92.3h.01M393.6 102.8h.01M393.6 95.8h.01M437.4 84.3h.01M387.5 94.8h.01M419.4 92.6h.01M443.2 84.4h.01M434.6 86.0h.01M421.0 87.4h.01M399.6 98.1h.01M390.0 95.5h.01M404.8 94.1h.01M418.0 92.5h.01M437.6 85.2h.01M384.6 92.3h.01M447.8 82.3h.01M448.8 82.2h.01M427.7 88.1h.01M402.8 94.9h.01M441.8 82.9h.01M381.5 91.0h.01M420.4 89.4h.01M394.6 97.5h.01M414.5 92.4h.01M410.6 90.8h.01M398.8 94.3h.01M385.1 92.5h.01M424.9 88.4h.01M427.1 87.8h.01M409.3 91.2h.01M434.0 83.9h.01M437.1 85.1h.01M419.8 88.9h.01M421.4 87.2h.01M389.8 96.0h.01M419.2 90.7h.01M381.9 91.0h.01M420.2 96.5h.01M435.0 85.3h.01M442.7 82.5h.01M433.1 85.5h.01M399.4 94.0h.01M410.6 97.3h.01M438.9 82.7h.01M419.6 88.3h.01M424.0 89.7h.01M382.8 92.0h.01M437.6 91.0h.01M384.3 93.7h.01M435.0 84.0h.01M444.5 82.2h.01M438.4 85.3h.01M441.6 88.1h.01M417.9 88.7h.01M395.6 95.2h.01M403.9 92.4h.01M383.8 92.5h.01M405.5 94.7h.01M402.1 92.9h.01M407.4 92.0h.01M435.1 85.2h.01M438.0 95.6h.01M397.7 96.2h.01M434.7 83.9h.01M398.0 96.1h.01M397.0 94.7h.01M425.8 92.7h.01M427.6 87.8h.01M453.1 77.3h.01M418.9 90.0h.01M420.8 89.9h.01M439.7 84.0h.01M399.1 96.8h.01M382.8 92.8h.01M396.2 95.4h.01M421.8 91.2h.01M416.9 94.7h.01M434.0 93.7h.01M421.6 89.9h.01M384.4 93.1h.01M446.0 80.9h.01M444.1 86.8h.01M437.4 87.3h.01M442.0 83.0h.01M418.4 95.0h.01M427.2 97.9h.01M424.4 92.0h.01M411.7 91.2h.01M398.6 105.2h.01M428.7 85.4h.01M431.2 87.8h.01M434.2 94.9h.01M396.6 95.2h.01M393.7 96.0h.01M431.1 85.4h.01M444.8 81.5h.01M412.9 92.1h.01M420.2 87.7h.01M413.7 91.4h.01M400.5 93.6h.01M382.8 91.2h.01M401.1 99.5h.01M417.7 96.3h.01M419.1 88.7h.01M407.2 97.0h.01M397.5 95.9h.01M440.2 82.7h.01M434.9 88.3h.01M419.2 88.9h.01M399.6 97.7h.01M393.1 98.7h.01M413.2 98.6h.01M455.6 76.6h.01M410.3 92.0h.01M433.3 88.4h.01M436.4 85.1h.01M398.2 100.9h.01M402.4 100.9h.01M456.6 78.2h.01M406.7 97.5h.01M433.1 86.6h.01M388.0 95.4h.01M411.6 96.6h.01M428.9 89.9h.01M430.2 95.3h.01M406.3 93.0h.01M429.5 87.6h.01M380.9 89.7h.01M446.1 81.9h.01M442.0 82.7h.01M439.2 89.8h.01M390.2 95.5h.01M437.2 85.9h.01M433.6 93.6h.01M388.0 94.5h.01M417.6 90.7h.01M446.4 80.1h.01M413.2 91.5h.01M442.1 90.0h.01M405.4 92.5h.01M394.2 100.9h.01M382.9 91.1h.01M394.7 97.9h.01M396.2 96.3h.01M412.5 91.0h.01M442.6 83.6h.01M419.8 93.3h.01M446.7 83.7h.01M452.9 77.1h.01M446.0 81.2h.01M433.5 93.6h.01M443.4 82.9h.01M411.2 91.6h.01M384.8 98.2h.01M419.4 91.4h.01M433.8 99.6h.01M448.6 77.7h.01M400.4 97.4h.01M420.0 97.9h.01M405.0 95.8h.01M436.6 85.0h.01M446.1 81.6h.01M413.5 90.2h.01M413.1 92.0h.01M463.7 75.5h.01M414.7 95.7h.01M424.3 92.5h.01M380.4 88.9h.01M429.4 94.7h.01M393.4 96.0h.01M446.2 80.2h.01M438.1 82.9h.01M398.2 95.0h.01M397.5 102.4h.01M380.6 89.7h.01M404.0 95.1h.01M451.4 78.7h.01M415.1 97.0h.01M417.7 89.7h.01M423.4 86.7h.01M406.4 93.5h.01M394.5 95.2h.01M444.5 81.4h.01M443.1 82.2h.01M457.9 77.5h.01M429.4 88.3h.01M443.7 85.2h.01M396.1 95.6h.01M431.4 93.8h.01M400.8 101.5h.01M433.0 84.1h.01M446.4 80.9h.01M408.5 91.1h.01M417.5 88.4h.01M427.3 88.1h.01M414.0 97.4h.01M393.5 95.9h.01M425.9 92.5h.01M442.5 82.1h.01M417.4 90.0h.01M427.7 87.2h.01M450.9 79.4h.01M446.9 79.7h.01M398.4 94.8h.01M418.8 88.4h.01M396.9 95.2h.01M417.3 92.1h.01M444.7 81.6h.01M441.9 88.5h.01M455.4 76.6h.01M388.4 96.4h.01M398.1 97.0h.01M426.1 94.6h.01M397.9 100.6h.01M429.6 87.1h.01M430.7 89.3h.01M404.3 100.4h.01M444.7 81.6h.01M392.4 96.7h.01M405.3 93.2h.01M387.3 96.3h.01M418.9 93.9h.01M432.0 85.0h.01M390.1 95.0h.01M408.7 91.8h.01M409.4 91.8h.01M384.2 92.7h.01M397.7 100.2h.01M435.7 85.7h.01M424.7 90.3h.01M434.6 86.2h.01M418.9 87.7h.01M386.1 92.9h.01M447.6 82.0h.01M433.7 86.1h.01M423.4 90.2h.01M385.7 92.7h.01M421.0 88.7h.01M403.6 93.5h.01M405.1 96.6h.01M420.2 87.6h.01M404.3 93.1h.01M389.9 98.7h.01M444.6 86.4h.01M432.6 84.5h.01M450.3 83.5h.01M385.6 93.1h.01M448.3 82.1h.01M427.4 88.3h.01M438.3 89.1h.01M422.3 87.7h.01M429.1 87.3h.01M398.2 102.3h.01M441.8 82.9h.01M433.4 85.1h.01M448.1 79.0h.01M442.3 90.0h.01M406.4 93.6h.01M420.3 90.9h.01M406.2 94.0h.01M428.9 86.9h.01M411.0 90.9h.01M392.0 96.9h.01M386.1 93.3h.01M411.6 90.1h.01M438.7 84.1h.01M450.3 79.7h.01M395.9 95.1h.01M441.7 87.4h.01M454.2 77.5h.01M416.4 88.4h.01M388.9 96.2h.01M437.2 83.7h.01M432.8 85.9h.01M386.2 93.5h.01M427.8 86.3h.01M406.3 95.0h.01M382.8 91.0h.01M460.4 75.8h.01M396.7 101.1h.01M425.3 87.6h.01M406.7 93.8h.01M387.7 94.0h.01M387.2 98.6h.01M440.3 83.4h.01M446.3 76.1h.01M445.1 82.0h.01M447.4 77.4h.01M448.2 80.9h.01M445.5 77.0h.01M447.8 80.3h.01M446.8 78.5h.01M449.2 80.1h.01M446.1 77.4h.01M446.2 77.8h.01M451.1 77.8h.01M446.5 77.8h.01M449.3 80.4h.01M445.2 79.8h.01M449.7 77.1h.01M450.2 78.3h.01M446.4 76.2h.01M446.2 75.7h.01M446.0 81.5h.01M448.3 75.9h.01M445.6 81.8h.01M445.6 78.3h.01M446.3 79.7h.01M446.7 77.5h.01M447.4 79.1h.01M454.1 76.4h.01M445.6 80.2h.01M447.0 78.6h.01M446.9 76.6h.01M445.6 78.9h.01M445.4 80.9h.01M445.3 77.1h.01M446.7 77.9h.01M446.8 76.1h.01M450.9 78.2h.01M449.5 78.1h.01M447.1 81.5h.01M448.8 79.1h.01M448.8 78.3h.01M445.1 76.6h.01M445.1 76.7h.01M447.2 77.8h.01M447.8 76.2h.01M447.6 76.8h.01M450.0 77.9h.01M446.8 76.7h.01M447.2 81.0h.01M448.9 76.2h.01M446.4 75.4h.01M449.2 77.5h.01M449.0 75.4h.01M448.6 79.0h.01M445.8 77.7h.01M447.3 77.9h.01M448.4 77.1h.01M447.6 78.6h.01M445.6 79.0h.01M445.2 78.1h.01M451.6 76.0h.01M449.7 79.5h.01M446.1 76.5h.01M450.4 77.2h.01M447.7 80.1h.01M450.2 77.4h.01M445.3 77.3h.01M451.4 79.1h.01M449.8 78.9h.01M446.0 81.1h.01M446.0 82.3h.01M445.2 80.6h.01M451.4 77.3h.01M445.5 77.4h.01M449.3 75.5h.01M445.8 79.0h.01M450.9 77.4h.01M447.3 78.9h.01M445.7 78.8h.01M448.9 79.5h.01M452.3 78.1h.01M451.9 76.6h.01M448.1 79.4h.01M446.1 76.8h.01M446.5 77.9h.01M445.4 79.8h.01M450.5 75.5h.01M445.3 76.4h.01M450.0 77.9h.01M451.5 77.7h.01M448.3 80.1h.01M448.9 76.3h.01M451.7 77.3h.01M450.1 76.8h.01M446.2 77.0h.01M445.2 75.8h.01M445.2 75.8h.01M446.4 78.2h.01M447.5 76.8h.01M445.8 75.9h.01M447.9 75.9h.01M447.2 79.6h.01M446.1 80.9h.01M448.0 80.4h.01M448.6 76.7h.01M445.6 78.2h.01M450.4 78.8h.01M446.2 77.3h.01M446.3 81.1h.01M451.6 78.6h.01M445.7 76.9h.01M451.5 77.1h.01M445.0 81.6h.01M445.6 82.0h.01M448.7 78.6h.01M448.2 80.4h.01M449.9 77.4h.01M446.4 76.1h.01M447.4 78.8h.01M449.4 78.4h.01M446.3 80.7h.01M448.4 75.7h.01M445.2 78.0h.01M450.3 79.8h.01M451.5 78.1h.01M448.3 78.8h.01M446.3 78.6h.01M445.5 78.0h.01M447.7 77.5h.01M447.0 80.9h.01M456.3 75.5h.01M452.7 77.1h.01M445.6 78.9h.01M451.5 75.5h.01M450.9 76.5h.01M450.6 79.2h.01M445.4 77.0h.01M448.1 77.9h.01M447.9 76.3h.01M447.5 75.7h.01M445.5 79.1h.01M447.1 75.8h.01M446.7 77.3h.01M447.5 81.2h.01M447.9 78.4h.01M451.0 78.0h.01M445.1 81.0h.01M447.6 77.2h.01M449.3 77.1h.01M445.0 77.3h.01M448.4 80.2h.01M446.2 77.0h.01M450.3 77.0h.01M448.7 75.6h.01M448.6 79.5h.01M447.1 76.9h.01M445.3 76.7h.01M447.8 80.3h.01M449.1 75.4h.01M449.3 78.1h.01M453.1 76.4h.01M445.9 76.2h.01M446.3 79.6h.01M451.6 79.1h.01M445.7 76.3h.01M449.2 75.6h.01M445.0 79.5h.01M450.5 76.6h.01M445.5 75.6h.01M445.7 79.4h.01M447.6 80.9h.01M446.4 81.7h.01M391.6 110.9h.01M387.8 104.4h.01M388.6 105.6h.01M379.3 91.7h.01M396.5 116.1h.01M396.8 116.9h.01M382.2 96.1h.01M383.4 96.7h.01M381.7 95.3h.01M379.4 92.1h.01M393.0 111.0h.01M377.9 88.7h.01M393.7 112.1h.01M390.7 108.5h.01M389.2 105.2h.01M391.6 109.4h.01M391.2 109.0h.01M378.2 89.4h.01M380.1 91.4h.01M387.3 104.1h.01M382.8 96.1h.01M381.9 95.0h.01M393.4 113.0h.01M383.7 98.3h.01M376.6 87.5h.01M392.1 110.1h.01M381.3 95.1h.01M394.8 113.8h.01M394.1 112.2h.01M389.1 106.4h.01M380.1 92.3h.01M390.1 106.7h.01M393.6 112.5h.01M385.3 99.9h.01M396.3 116.3h.01M387.4 104.5h.01M388.7 104.4h.01M383.7 98.0h.01M392.0 111.0h.01M381.7 93.8h.01M388.2 104.5h.01M393.4 112.3h.01M396.5 115.6h.01M382.0 95.2h.01M381.5 95.0h.01M378.3 89.9h.01M394.6 113.4h.01M386.2 101.1h.01M391.7 110.1h.01M377.5 87.8h.01M388.1 103.7h.01M385.7 100.1h.01M390.8 108.8h.01M383.4 96.7h.01M396.1 116.7h.01M391.0 108.7h.01M383.7 98.2h.01M385.4 100.3h.01M379.5 91.1h.01M377.5 89.4h.01M384.6 98.5h.01M392.6 111.3h.01M376.9 88.0h.01M382.7 97.6h.01M383.4 97.4h.01M381.2 93.1h.01M379.8 92.4h.01M393.0 112.2h.01M381.1 93.6h.01M384.2 98.8h.01M389.7 107.5h.01M380.3 92.6h.01M382.9 96.8h.01M395.1 115.1h.01M382.5 96.1h.01M387.4 103.6h.01M387.1 102.3h.01M387.9 104.1h.01M386.2 102.4h.01M381.5 94.3h.01M388.1 104.2h.01M382.2 95.7h.01M386.3 100.7h.01M395.1 114.8h.01M392.0 110.9h.01M390.0 106.8h.01M385.8 100.5h.01M386.5 103.2h.01M380.2 92.1h.01M393.5 112.0h.01M385.9 100.8h.01M378.0 89.9h.01M392.4 111.8h.01M386.3 101.8h.01M378.1 89.9h.01M381.5 93.8h.01M395.1 115.1h.01M383.1 96.0h.01M379.3 90.3h.01M376.2 87.0h.01M387.1 102.5h.01M385.9 101.6h.01M383.4 97.9h.01M380.5 92.9h.01M394.3 113.2h.01M378.5 89.3h.01M394.0 113.9h.01M380.7 93.4h.01M396.0 116.1h.01M385.5 100.3h.01M394.9 114.3h.01M392.1 111.2h.01M388.0 104.3h.01M389.5 106.3h.01M386.8 103.4h.01M385.0 99.3h.01M387.6 103.7h.01M391.2 109.0h.01M382.3 94.9h.01M381.2 93.7h.01M381.9 95.0h.01M381.7 94.6h.01M387.8 102.9h.01M383.4 97.2h.01M379.1 91.5h.01M388.6 104.3h.01M389.6 106.0h.01M382.0 94.3h.01M394.5 114.8h.01M381.8 94.5h.01M385.2 100.6h.01M394.8 114.0h.01M380.6 93.4h.01M391.3 109.6h.01M391.6 110.0h.01M388.3 104.6h.01M390.7 108.1h.01M383.0 97.7h.01M392.7 110.9h.01M388.2 104.5h.01M393.6 112.6h.01M389.9 107.4h.01M380.3 92.7h.01M387.6 104.4h.01M381.8 95.6h.01M391.5 110.1h.01M380.2 93.1h.01M380.7 93.2h.01M381.9 95.2h.01M380.4 94.0h.01M377.1 86.9h.01M376.8 88.0h.01M394.2 114.1h.01M382.8 95.1h.01M387.7 104.1h.01M391.1 109.6h.01M385.3 99.0h.01M377.3 88.5h.01M381.8 95.5h.01M377.0 88.0h.01M381.5 93.7h.01M380.7 93.6h.01M384.8 99.3h.01M390.9 109.2h.01M396.5 116.5h.01M388.0 103.8h.01M385.8 100.6h.01M383.8 97.2h.01M385.5 101.5h.01M383.7 97.6h.01M380.9 93.4h.01M391.8 110.3h.01M392.0 110.6h.01M393.4 111.8h.01M388.9 106.4h.01M377.9 89.3h.01M388.8 105.7h.01M391.8 109.3h.01M387.7 102.9h.01M395.6 115.3h.01M391.9 111.0h.01M382.1 96.0h.01M387.0 102.1h.01M391.1 108.3h.01M386.7 101.2h.01M381.5 93.8h.01M377.5 88.8h.01M382.6 95.3h.01M389.5 105.2h.01M382.0 94.9h.01M381.9 94.4h.01M388.6 104.4h.01M385.0 99.7h.01M376.3 87.2h.01M384.0 98.3h.01M381.1 92.8h.01M383.9 98.1h.01M393.2 113.3h.01M392.0 109.9h.01M383.1 96.8h.01M389.0 105.6h.01M380.4 91.9h.01M395.9 116.6h.01M385.7 100.5h.01M395.9 116.5h.01M387.7 103.7h.01M385.5 100.4h.01M379.2 90.7h.01M385.1 99.2h.01M378.4 89.2h.01M386.3 101.0h.01M379.8 91.6h.01M381.2 94.9h.01M394.2 113.4h.01M390.2 106.5h.01M389.5 107.3h.01M385.0 98.9h.01M391.5 108.7h.01M380.7 94.7h.01M395.1 115.6h.01M382.1 95.0h.01M381.3 93.9h.01M386.6 102.4h.01M383.4 96.9h.01M382.3 96.2h.01M384.0 98.2h.01M391.4 109.3h.01M376.0 87.5h.01M386.5 102.1h.01M380.0 91.6h.01M380.7 92.8h.01M392.1 110.5h.01M379.3 90.8h.01M383.8 98.0h.01M377.0 87.8h.01M392.6 111.1h.01M384.3 98.4h.01M394.3 114.4h.01M393.1 110.8h.01M393.6 112.3h.01M379.5 91.8h.01M384.8 100.1h.01M393.4 112.9h.01M394.2 114.4h.01M380.3 93.3h.01M393.1 112.2h.01M382.2 94.6h.01M384.5 99.7h.01M394.2 113.7h.01M386.2 101.9h.01M383.9 97.6h.01M380.4 93.9h.01M379.0 90.9h.01M389.9 108.2h.01M393.4 112.3h.01M379.6 92.0h.01M388.5 105.5h.01M395.4 116.3h.01M388.9 106.4h.01M384.7 98.5h.01M391.2 108.9h.01M381.8 95.6h.01M393.6 112.1h.01M381.9 94.8h.01M387.7 104.6h.01M388.0 103.9h.01M386.9 103.3h.01M384.6 99.0h.01M379.8 91.8h.01M393.6 113.3h.01M408.9 137.4h.01M387.1 97.8h.01M389.6 102.5h.01M383.8 92.5h.01M389.6 101.9h.01M387.8 98.8h.01M385.6 95.8h.01M385.3 95.2h.01M389.3 102.1h.01M391.0 105.2h.01M386.8 97.3h.01M392.1 106.9h.01M389.2 101.2h.01M385.5 94.9h.01M392.0 107.0h.01M391.1 105.3h.01M390.9 104.8h.01M385.0 94.7h.01M391.1 105.4h.01M388.4 99.9h.01M390.1 103.4h.01M389.7 102.3h.01M383.9 92.7h.01M386.0 96.2h.01M387.8 99.3h.01M382.1 90.4h.01M384.2 93.0h.01M387.8 99.1h.01M393.5 109.4h.01M387.8 98.9h.01M389.7 102.2h.01M389.2 101.5h.01M383.8 92.5h.01M388.7 100.4h.01M393.7 110.0h.01M387.7 99.1h.01M383.4 91.9h.01M384.4 93.6h.01M388.3 99.7h.01M392.1 107.3h.01M391.4 105.4h.01M389.3 101.8h.01M387.2 98.5h.01M389.9 103.2h.01M394.2 110.6h.01M390.1 103.3h.01M390.7 104.3h.01M389.8 102.9h.01M389.0 101.1h.01M393.3 109.3h.01M382.4 90.7h.01M385.7 95.5h.01M391.7 106.4h.01M393.9 110.6h.01M393.4 109.7h.01M387.0 98.0h.01M392.5 100.4h.01M390.3 97.3h.01M390.6 97.5h.01M385.4 91.2h.01M396.9 107.2h.01M389.5 96.1h.01M385.2 91.3h.01M385.5 91.0h.01M390.8 98.3h.01M388.5 94.8h.01M394.5 103.4h.01M385.3 91.1h.01M395.6 105.8h.01M390.3 97.1h.01M388.5 94.6h.01M394.8 104.6h.01M390.9 98.1h.01M395.1 104.5h.01M394.1 102.9h.01M396.2 106.8h.01M396.1 106.6h.01M390.5 97.7h.01M384.9 91.0h.01M395.1 104.4h.01M395.5 105.5h.01M396.8 107.8h.01M387.4 93.3h.01M393.1 101.4h.01M389.6 96.6h.01M386.1 91.6h.01M391.3 99.1h.01M395.0 104.5h.01M391.8 99.7h.01M390.0 97.1h.01M392.3 100.3h.01M388.0 94.4h.01M396.6 107.2h.01M395.3 104.6h.01M394.4 103.3h.01M385.5 91.3h.01M388.8 95.6h.01M393.4 102.0h.01M387.3 93.6h.01M392.5 100.8h.01M394.6 104.1h.01M384.3 90.5h.01M391.7 99.8h.01M393.0 101.0h.01M390.7 98.4h.01M385.7 91.5h.01M393.5 102.4h.01M388.2 94.9h.01M388.4 94.8h.01M395.2 105.1h.01M395.7 105.6h.01M395.5 99.3h.01M387.9 91.2h.01M394.8 98.1h.01M399.3 103.6h.01M391.5 94.6h.01M392.9 96.1h.01M388.0 90.9h.01M396.7 100.4h.01M399.6 104.6h.01M387.1 90.3h.01M391.8 94.6h.01M391.2 94.3h.01M389.0 91.8h.01M390.5 93.7h.01M393.9 97.4h.01M390.6 93.4h.01M391.4 94.1h.01M394.8 98.2h.01M388.1 91.5h.01M388.6 92.0h.01M396.8 100.9h.01M399.2 103.9h.01M388.3 91.3h.01M395.7 99.6h.01M387.7 91.0h.01M393.3 96.0h.01M394.0 97.5h.01M391.9 95.0h.01M396.3 99.7h.01M397.8 101.7h.01M399.4 104.1h.01M388.2 91.4h.01M393.3 96.3h.01M395.4 98.8h.01M389.1 92.2h.01M396.2 100.1h.01M392.1 94.7h.01M396.9 101.1h.01M389.2 92.3h.01M397.3 101.4h.01M396.4 100.2h.01M396.1 99.5h.01M396.7 100.3h.01M388.5 91.7h.01M392.4 95.6h.01M389.2 92.2h.01M391.6 94.2h.01M395.4 99.3h.01M397.6 101.5h.01M387.2 90.3h.01M394.7 98.4h.01M391.8 94.9h.01M388.1 91.2h.01M393.1 96.4h.01M395.3 98.5h.01M390.6 90.8h.01M401.9 100.4h.01M390.9 91.0h.01M395.8 94.6h.01M393.7 93.0h.01M390.6 91.2h.01M393.3 92.7h.01M398.3 96.9h.01M394.7 94.2h.01M399.7 98.1h.01M392.5 92.2h.01M397.4 96.7h.01M395.3 94.5h.01M389.7 90.4h.01M392.0 91.8h.01M392.0 92.4h.01M394.3 93.5h.01M397.8 97.0h.01M402.1 101.0h.01M396.3 95.2h.01M391.8 91.6h.01M393.2 93.0h.01M396.5 95.2h.01M393.5 93.3h.01M391.0 91.2h.01M400.2 98.9h.01M397.7 96.5h.01M398.7 97.3h.01M395.5 94.7h.01M391.9 92.0h.01M398.2 96.8h.01M394.2 93.8h.01M397.8 97.1h.01M391.5 92.0h.01M394.5 93.7h.01M390.3 91.1h.01M397.4 96.1h.01M399.7 98.5h.01M394.0 93.1h.01M396.4 95.2h.01M402.2 100.8h.01M394.5 93.9h.01M393.7 92.9h.01M399.8 98.2h.01M394.9 94.4h.01M390.0 91.1h.01M395.5 94.6h.01M401.6 99.8h.01M391.2 91.5h.01M393.0 92.9h.01M392.5 92.5h.01M399.6 98.6h.01M391.7 91.5h.01M392.8 92.4h.01M391.9 92.2h.01" stroke="#377eb8" stroke-width="0.75" stroke-linecap="round" fill="none"/>
<path d="M448.4 64.6h.01M446.6 71.0h.01M448.4 71.5h.01M448.0 67.0h.01M456.3 63.8h.01M459.8 69.3h.01M453.0 68.0h.01M452.2 68.4h.01M446.6 66.2h.01M450.1 69.9h.01M447.7 63.9h.01M446.2 73.7h.01M446.9 62.5h.01M455.7 73.6h.01M448.6 67.6h.01M447.2 65.5h.01M449.7 67.5h.01M449.3 71.5h.01M449.0 73.7h.01M457.4 72.0h.01M455.7 62.9h.01M452.6 67.8h.01M456.4 70.9h.01M453.4 71.2h.01M448.1 69.8h.01M455.4 68.6h.01M453.1 73.7h.01M446.3 70.5h.01M447.5 67.4h.01M460.4 72.7h.01M452.4 68.3h.01M452.6 66.7h.01M446.2 65.4h.01M447.0 66.0h.01M449.1 69.6h.01M457.9 66.0h.01M449.3 68.6h.01M458.6 64.5h.01M456.9 68.6h.01M455.2 72.2h.01M457.7 68.1h.01M447.5 70.8h.01M446.8 67.1h.01M447.7 73.4h.01M454.7 66.6h.01M456.0 63.8h.01M458.2 73.6h.01M450.7 66.5h.01M448.4 72.3h.01M451.9 73.8h.01M448.6 66.9h.01M448.0 66.0h.01M458.6 68.4h.01M449.9 69.3h.01M447.7 70.3h.01M447.9 71.7h.01M451.1 68.5h.01M447.1 62.6h.01M456.3 68.8h.01M446.9 64.2h.01M447.2 65.2h.01M452.0 75.5h.01M449.1 70.8h.01M446.4 66.6h.01M450.2 69.3h.01M451.1 70.9h.01M447.5 69.5h.01M451.8 67.2h.01M452.5 72.3h.01M449.5 69.4h.01M458.6 70.9h.01M452.2 71.4h.01M449.2 70.4h.01M462.8 66.9h.01M446.5 70.4h.01M453.4 70.0h.01M447.2 74.2h.01M452.0 65.4h.01M452.9 72.9h.01M457.4 66.6h.01M448.8 69.2h.01M449.0 73.7h.01M448.8 64.6h.01M448.2 68.6h.01M449.1 67.2h.01M447.8 71.7h.01M451.4 68.6h.01M452.0 67.2h.01M457.2 73.0h.01M457.3 73.1h.01M446.1 70.8h.01M459.0 66.7h.01M447.9 68.8h.01M448.0 69.6h.01M453.7 66.4h.01M455.5 67.4h.01M447.4 69.2h.01M453.7 71.2h.01M446.9 68.7h.01M452.2 70.6h.01M449.7 70.6h.01M447.0 71.6h.01M447.2 69.3h.01M451.6 70.2h.01M447.4 65.9h.01M454.5 69.6h.01M448.9 66.1h.01M448.0 65.1h.01M449.2 71.7h.01M446.7 67.6h.01M447.6 64.6h.01M450.3 68.8h.01M453.7 69.4h.01M455.7 62.8h.01M454.7 67.9h.01M457.8 66.7h.01M447.1 71.0h.01M454.9 74.2h.01M456.7 71.6h.01M453.5 72.0h.01M356.8 69.0h.01M355.6 68.5h.01M362.2 69.2h.01M364.4 68.5h.01M364.6 68.9h.01M359.6 68.8h.01M359.1 68.7h.01M358.2 69.2h.01M359.7 69.3h.01M361.8 69.1h.01" stroke="#a9a9a9" stroke-width="0.75" stroke-linecap="round" fill="none"/>
<path d="M367.7 74.1h.01M374.1 80.8h.01M371.1 77.8h.01M374.5 81.5h.01M373.1 80.0h.01M367.5 74.2h.01M371.4 77.9h.01M367.7 74.4h.01M372.4 79.3h.01M368.0 74.6h.01M366.7 73.5h.01M375.9 83.3h.01M369.0 75.5h.01M369.7 76.3h.01M369.4 75.7h.01M373.5 80.3h.01M372.4 78.8h.01M372.1 78.8h.01M369.4 75.7h.01M376.1 83.7h.01M368.4 75.1h.01M374.4 81.7h.01M369.6 76.1h.01M372.8 79.3h.01M375.4 82.6h.01M375.6 83.1h.01M370.5 76.7h.01M375.4 83.0h.01M368.9 75.2h.01M374.7 81.7h.01M376.7 84.6h.01M371.0 77.3h.01M372.4 79.0h.01M366.1 73.0h.01M371.9 78.7h.01M370.9 77.6h.01M368.9 75.5h.01M369.0 75.4h.01M371.8 78.4h.01M369.7 76.0h.01M367.0 73.8h.01M371.7 78.3h.01M367.6 74.1h.01M375.7 82.9h.01M372.1 78.9h.01M368.1 74.8h.01M373.4 80.0h.01M368.9 75.6h.01M374.9 81.8h.01M369.9 76.3h.01M375.4 82.4h.01M375.8 83.1h.01M374.1 81.0h.01M367.1 73.8h.01M373.9 79.0h.01M368.2 73.7h.01M371.4 76.4h.01M369.9 75.0h.01M365.2 71.7h.01M377.3 82.7h.01M368.4 73.9h.01M367.5 73.2h.01M375.8 81.1h.01M371.4 76.2h.01M373.1 77.8h.01M373.0 77.8h.01M365.4 72.0h.01M368.5 74.2h.01M370.5 75.9h.01M371.2 76.1h.01M368.6 73.9h.01M364.7 71.3h.01M374.9 79.8h.01M372.8 78.0h.01M370.7 76.0h.01M364.6 71.6h.01M370.5 75.7h.01M364.5 71.1h.01M369.8 75.2h.01M369.4 74.5h.01M365.4 72.0h.01M368.2 73.8h.01M368.2 73.6h.01M369.7 75.1h.01M374.9 79.7h.01M376.4 81.4h.01M375.4 80.2h.01M370.8 75.7h.01M374.2 79.2h.01M373.5 78.3h.01M374.0 78.8h.01M374.8 79.7h.01M364.4 71.1h.01M372.3 77.4h.01M375.1 80.2h.01M374.4 79.4h.01M370.1 75.4h.01M368.3 73.6h.01M365.2 71.8h.01M368.1 73.8h.01M369.6 74.8h.01M363.4 70.4h.01M370.1 73.8h.01M365.7 71.2h.01M362.9 70.0h.01M362.8 70.3h.01M370.8 74.7h.01M366.5 71.8h.01M367.4 72.2h.01M370.2 74.2h.01M366.6 72.1h.01M366.9 72.3h.01M371.5 75.2h.01M368.6 72.8h.01M365.8 71.4h.01M371.3 74.7h.01M371.0 74.8h.01M367.0 72.2h.01M371.5 75.2h.01M365.5 71.3h.01M371.3 74.9h.01M372.5 75.6h.01M371.6 75.0h.01M370.0 73.7h.01M365.5 71.4h.01M372.6 76.0h.01M364.4 70.8h.01M369.1 72.4h.01M367.5 71.4h.01M367.4 71.6h.01M365.4 70.9h.01M369.2 72.5h.01M365.9 71.1h.01M363.8 70.2h.01M367.1 71.1h.01M362.7 69.7h.01M364.7 70.7h.01M368.1 72.1h.01M368.0 71.9h.01M368.5 72.2h.01M364.2 70.1h.01M368.9 72.4h.01M367.7 71.8h.01M368.8 72.0h.01M364.6 70.2h.01M366.3 70.9h.01M370.6 73.0h.01M363.2 69.8h.01M369.9 72.6h.01M369.1 72.2h.01M365.2 70.6h.01M364.0 69.9h.01M365.0 70.2h.01M360.5 69.1h.01M366.7 70.5h.01M361.6 69.6h.01M362.3 69.5h.01M364.0 69.6h.01M367.1 70.4h.01M363.4 69.6h.01M361.3 69.2h.01M364.8 69.8h.01M369.6 71.5h.01M369.7 71.4h.01M362.4 69.7h.01M366.2 70.3h.01M360.9 69.4h.01M362.9 69.6h.01M367.2 70.8h.01M366.9 70.3h.01M365.0 70.1h.01M364.6 69.5h.01M364.7 69.3h.01M363.3 69.5h.01M368.2 69.8h.01M361.2 69.1h.01M364.4 69.4h.01M359.3 68.9h.01M367.2 69.8h.01M367.2 69.7h.01M364.0 69.3h.01M368.5 70.1h.01M368.1 70.0h.01M360.6 69.2h.01M361.3 69.0h.01M362.5 69.3h.01M366.4 69.8h.01M365.2 69.3h.01M361.5 69.0h.01M363.2 69.6h.01M368.9 70.2h.01M359.7 69.3h.01M360.4 68.9h.01M367.0 69.1h.01M363.0 68.9h.01M365.6 69.1h.01M362.7 69.0h.01M367.7 69.1h.01M361.8 69.1h.01M364.8 68.9h.01M361.3 68.8h.01M363.5 68.6h.01M368.3 67.8h.01M364.2 68.4h.01M360.0 68.7h.01M364.1 68.8h.01M366.6 68.5h.01M362.8 68.9h.01M361.0 68.8h.01M368.6 67.9h.01M366.3 68.5h.01M367.2 68.4h.01M364.8 68.3h.01M368.1 68.1h.01M365.7 68.4h.01M362.3 68.6h.01M364.8 68.3h.01M359.3 69.0h.01M362.7 68.8h.01M364.6 68.4h.01M362.4 68.4h.01M365.0 67.8h.01M366.1 67.5h.01M367.8 67.1h.01M367.1 67.4h.01M361.4 68.6h.01M367.6 67.2h.01M363.8 68.2h.01M365.5 67.7h.01M362.3 68.6h.01M365.7 67.8h.01M366.7 67.7h.01M362.4 68.3h.01M362.7 68.5h.01M361.2 68.7h.01M366.1 67.8h.01M363.9 68.3h.01M364.9 68.1h.01M365.0 68.0h.01M367.5 67.2h.01M363.2 68.1h.01M370.7 65.1h.01M361.8 68.4h.01M368.0 66.1h.01M365.8 67.0h.01M367.9 66.4h.01M363.0 67.9h.01M366.3 67.1h.01M363.9 67.7h.01M369.4 65.7h.01M370.8 65.0h.01M362.4 68.1h.01M367.6 66.2h.01M363.7 67.6h.01M369.4 65.4h.01M368.9 66.0h.01M367.1 66.7h.01M369.1 65.5h.01M362.4 68.3h.01M364.7 67.7h.01M364.4 67.7h.01M362.7 68.2h.01M367.7 66.4h.01M365.3 67.3h.01M362.2 68.2h.01M370.4 64.9h.01M361.6 68.2h.01M362.9 68.1h.01M371.2 63.1h.01M367.6 65.7h.01M369.5 64.5h.01M371.5 62.8h.01M366.9 65.7h.01M365.5 66.5h.01M370.1 64.1h.01M366.6 66.1h.01M369.2 64.4h.01M364.9 66.7h.01M366.3 66.4h.01M363.6 67.4h.01M365.3 66.7h.01M366.1 66.3h.01M368.4 65.2h.01M366.0 66.4h.01M371.3 63.1h.01M363.8 67.3h.01M363.3 67.6h.01M369.3 64.3h.01M366.2 66.3h.01M369.2 64.4h.01M370.0 64.0h.01M365.7 66.4h.01M370.5 63.8h.01M371.4 63.2h.01M363.6 67.7h.01M363.3 67.4h.01M364.8 67.0h.01M364.7 67.0h.01M364.8 67.1h.01M368.0 65.1h.01M370.3 63.7h.01M363.3 67.6h.01M369.6 63.2h.01M364.9 66.5h.01M371.8 61.1h.01M369.5 63.1h.01M364.6 66.8h.01M375.3 57.7h.01M365.6 66.1h.01M374.9 58.2h.01M367.0 64.9h.01M366.2 65.8h.01M374.4 58.5h.01M370.9 61.8h.01M369.6 63.1h.01M370.5 62.4h.01M368.1 64.3h.01M371.6 61.4h.01M366.4 65.6h.01M364.1 66.6h.01M373.0 59.8h.01M364.0 67.0h.01M367.0 65.0h.01M374.7 58.2h.01M367.6 64.8h.01M369.9 63.0h.01M372.6 60.2h.01M369.0 63.4h.01M371.8 61.3h.01M369.0 63.7h.01M374.2 59.0h.01M372.2 61.1h.01M371.9 61.0h.01M374.1 58.9h.01M372.4 60.4h.01M374.6 58.4h.01M371.4 61.6h.01M374.2 58.7h.01M371.5 61.3h.01M371.0 61.8h.01M365.3 66.3h.01M372.1 61.1h.01M372.9 59.9h.01M375.4 57.3h.01M365.1 66.1h.01M371.3 61.5h.01M369.1 63.5h.01M374.1 58.9h.01M374.8 58.0h.01M372.1 61.0h.01M367.2 64.0h.01M373.9 57.4h.01M372.9 58.2h.01M367.9 63.7h.01M371.6 59.9h.01M372.6 58.7h.01M372.7 58.5h.01M372.9 58.4h.01M368.4 62.9h.01M369.5 62.2h.01M366.6 64.8h.01M376.9 53.3h.01M367.5 64.1h.01M377.9 51.7h.01M368.0 63.3h.01M377.1 53.0h.01M374.0 57.0h.01M366.0 65.2h.01M369.9 61.7h.01M367.8 63.5h.01M365.3 65.6h.01M367.7 63.9h.01M374.3 56.5h.01M375.2 55.5h.01M366.7 64.7h.01M369.8 61.7h.01M365.4 65.3h.01M366.0 65.2h.01M370.7 60.6h.01M373.1 58.3h.01M374.3 56.9h.01M376.1 54.6h.01M375.3 55.4h.01M373.3 57.8h.01M373.2 57.9h.01M369.6 62.1h.01M377.1 52.9h.01M374.0 56.8h.01M373.1 58.1h.01M372.9 58.2h.01M370.4 61.0h.01M367.0 64.3h.01M369.6 62.1h.01M374.6 56.3h.01M369.7 61.8h.01M365.3 65.8h.01M373.5 57.9h.01M373.9 57.0h.01M366.8 64.6h.01M372.1 59.2h.01M370.9 60.6h.01M374.2 56.8h.01M368.3 63.1h.01M370.9 60.8h.01" stroke="#bdbdbd" stroke-width="0.75" stroke-linecap="round" fill="none"/>
<circle cx="489.4" cy="59.5" r="1.3" fill="#e41a1c"/>
<text x="494.1" y="61.5" font-size="5.5" fill="#111" textLength="20.7" lengthAdjust="spacingAndGlyphs">Up: 8047</text>
<text x="492.3" y="67.0" font-size="2.8" fill="#333" textLength="40.6" lengthAdjust="spacingAndGlyphs">log<tspan dy="0.5" font-size="1.8">2</tspan><tspan dy="-0.5">FoldChange ≥ 1 , </tspan><tspan font-style="italic">Padj</tspan> ≤ 0.05</text>
<circle cx="489.4" cy="83.4" r="1.3" fill="#377eb8"/>
<text x="494.1" y="85.4" font-size="5.5" fill="#111" textLength="30.3" lengthAdjust="spacingAndGlyphs">Down: 11382</text>
<text x="492.3" y="90.9" font-size="2.8" fill="#333" textLength="42.0" lengthAdjust="spacingAndGlyphs">log<tspan dy="0.5" font-size="1.8">2</tspan><tspan dy="-0.5">FoldChange ≤ −1 , </tspan><tspan font-style="italic">Padj</tspan> ≤ 0.05</text>
<circle cx="489.4" cy="107.6" r="1.3" fill="#a0a0a0"/>
<text x="494.1" y="109.6" font-size="5.5" fill="#111" textLength="39.9" lengthAdjust="spacingAndGlyphs">no−DEGs: 66102</text>
<text x="492.3" y="115.1" font-size="2.8" fill="#333" textLength="50.2" lengthAdjust="spacingAndGlyphs">abs(log<tspan dy="0.5" font-size="1.8">2</tspan><tspan dy="-0.5">FoldChange) &lt; 1  or </tspan><tspan font-style="italic">Padj</tspan> &gt; 0.05</text>
<rect x="349.3" y="161.6" width="133.7" height="136.2" fill="#fff" stroke="#c9c9c9" stroke-width="0.6"/>
<g stroke="#f6f6f6" stroke-width="0.4">
<line x1="349.3" y1="163.9" x2="483.0" y2="163.9"/>
<line x1="349.3" y1="206.6" x2="483.0" y2="206.6"/>
<line x1="349.3" y1="249.3" x2="483.0" y2="249.3"/>
<line x1="349.3" y1="292.0" x2="483.0" y2="292.0"/>
</g>
<text x="347.6" y="165.1" font-size="3.4" text-anchor="end" fill="#333">4</text>
<line x1="348.1" y1="163.9" x2="349.3" y2="163.9" stroke="#777" stroke-width="0.4"/>
<text x="347.6" y="207.8" font-size="3.4" text-anchor="end" fill="#333">2</text>
<line x1="348.1" y1="206.6" x2="349.3" y2="206.6" stroke="#777" stroke-width="0.4"/>
<text x="347.6" y="250.5" font-size="3.4" text-anchor="end" fill="#333">0</text>
<line x1="348.1" y1="249.3" x2="349.3" y2="249.3" stroke="#777" stroke-width="0.4"/>
<text x="347.6" y="293.2" font-size="3.4" text-anchor="end" fill="#333">−2</text>
<line x1="348.1" y1="292.0" x2="349.3" y2="292.0" stroke="#777" stroke-width="0.4"/>
<text transform="translate(342.5 230) rotate(-90)" font-size="3.9" text-anchor="middle" fill="#111">log10FPKM</text>
<line x1="362.4" y1="191.5" x2="362.4" y2="285" stroke="#a2a2a2" stroke-width="0.75"/>
<line x1="362.4" y1="180.4" x2="362.4" y2="192" stroke="#151515" stroke-width="1.1" stroke-dasharray="1.1 0.25"/>
<path d="M362.4 178.4h.01M362.4 176.2h.01M362.4 173.9h.01M362.4 171.4h.01M362.4 169.3h.01" stroke="#111" stroke-width="1.1" stroke-linecap="round" fill="none"/>
<circle cx="362.4" cy="292.2" r="0.6" fill="#222"/>
<rect x="354.2" y="230.1" width="16.4" height="23.7" fill="#e41a1c" stroke="#555" stroke-width="0.45"/>
<line x1="354.2" y1="240.8" x2="370.6" y2="240.8" stroke="#3a3a3a" stroke-width="0.9"/>
<line x1="362.4" y1="297.8" x2="362.4" y2="298.90000000000003" stroke="#777" stroke-width="0.4"/>
<text transform="translate(362.7 300.9) rotate(-45)" font-size="3.6" text-anchor="end" fill="#333">c1</text>
<line x1="383.7" y1="191.5" x2="383.7" y2="285" stroke="#a2a2a2" stroke-width="0.75"/>
<line x1="383.7" y1="182.2" x2="383.7" y2="192" stroke="#151515" stroke-width="1.1" stroke-dasharray="1.1 0.25"/>
<path d="M383.7 179.7h.01M383.7 178.7h.01M383.7 176.9h.01M383.7 174.4h.01M383.7 172.4h.01M383.7 169.9h.01M383.7 168.8h.01" stroke="#111" stroke-width="1.1" stroke-linecap="round" fill="none"/>
<circle cx="383.7" cy="292.2" r="0.6" fill="#222"/>
<rect x="375.5" y="231.0" width="16.4" height="24.2" fill="#377eb8" stroke="#555" stroke-width="0.45"/>
<line x1="375.5" y1="241.7" x2="391.9" y2="241.7" stroke="#3a3a3a" stroke-width="0.9"/>
<line x1="383.7" y1="297.8" x2="383.7" y2="298.90000000000003" stroke="#777" stroke-width="0.4"/>
<text transform="translate(384.0 300.9) rotate(-45)" font-size="3.6" text-anchor="end" fill="#333">c2</text>
<line x1="405.5" y1="191.5" x2="405.5" y2="291.8" stroke="#a2a2a2" stroke-width="0.75"/>
<line x1="405.5" y1="178.6" x2="405.5" y2="192" stroke="#151515" stroke-width="1.1" stroke-dasharray="1.1 0.25"/>
<path d="M405.5 176.8h.01M405.5 175.5h.01M405.5 173.6h.01M405.5 171.7h.01" stroke="#111" stroke-width="1.1" stroke-linecap="round" fill="none"/>
<rect x="397.3" y="230.2" width="16.4" height="25.3" fill="#4daf4a" stroke="#555" stroke-width="0.45"/>
<line x1="397.3" y1="241.5" x2="413.7" y2="241.5" stroke="#3a3a3a" stroke-width="0.9"/>
<line x1="405.5" y1="297.8" x2="405.5" y2="298.90000000000003" stroke="#777" stroke-width="0.4"/>
<text transform="translate(405.8 300.9) rotate(-45)" font-size="3.6" text-anchor="end" fill="#333">c3</text>
<line x1="426.9" y1="191.5" x2="426.9" y2="291.8" stroke="#a2a2a2" stroke-width="0.75"/>
<line x1="426.9" y1="175" x2="426.9" y2="192" stroke="#151515" stroke-width="1.1" stroke-dasharray="1.1 0.25"/>
<path d="M426.9 174.0h.01M426.9 172.6h.01M426.9 171.2h.01M426.9 168.7h.01M426.9 166.5h.01" stroke="#111" stroke-width="1.1" stroke-linecap="round" fill="none"/>
<rect x="418.7" y="230.2" width="16.4" height="25.9" fill="#984ea3" stroke="#555" stroke-width="0.45"/>
<line x1="418.7" y1="241.8" x2="435.1" y2="241.8" stroke="#3a3a3a" stroke-width="0.9"/>
<line x1="426.9" y1="297.8" x2="426.9" y2="298.90000000000003" stroke="#777" stroke-width="0.4"/>
<text transform="translate(427.2 300.9) rotate(-45)" font-size="3.6" text-anchor="end" fill="#333">hy1</text>
<line x1="448.4" y1="191.5" x2="448.4" y2="291.8" stroke="#a2a2a2" stroke-width="0.75"/>
<line x1="448.4" y1="179" x2="448.4" y2="192" stroke="#151515" stroke-width="1.1" stroke-dasharray="1.1 0.25"/>
<path d="M448.4 177.7h.01M448.4 175.5h.01M448.4 174.2h.01M448.4 172.3h.01M448.4 171.1h.01M448.4 170.1h.01M448.4 167.7h.01M448.4 166.3h.01" stroke="#111" stroke-width="1.1" stroke-linecap="round" fill="none"/>
<rect x="440.2" y="231.0" width="16.4" height="27.0" fill="#ff7f00" stroke="#555" stroke-width="0.45"/>
<line x1="440.2" y1="243.0" x2="456.6" y2="243.0" stroke="#3a3a3a" stroke-width="0.9"/>
<line x1="448.4" y1="297.8" x2="448.4" y2="298.90000000000003" stroke="#777" stroke-width="0.4"/>
<text transform="translate(448.7 300.9) rotate(-45)" font-size="3.6" text-anchor="end" fill="#333">hy2</text>
<line x1="470.2" y1="191.5" x2="470.2" y2="291.8" stroke="#a2a2a2" stroke-width="0.75"/>
<line x1="470.2" y1="179.5" x2="470.2" y2="192" stroke="#151515" stroke-width="1.1" stroke-dasharray="1.1 0.25"/>
<path d="M470.2 178.2h.01M470.2 175.6h.01M470.2 173.2h.01M470.2 171.7h.01M470.2 169.2h.01M470.2 167.3h.01" stroke="#111" stroke-width="1.1" stroke-linecap="round" fill="none"/>
<rect x="462.0" y="230.6" width="16.4" height="27.0" fill="#ffff33" stroke="#555" stroke-width="0.45"/>
<line x1="462.0" y1="242.5" x2="478.4" y2="242.5" stroke="#3a3a3a" stroke-width="0.9"/>
<line x1="470.2" y1="297.8" x2="470.2" y2="298.90000000000003" stroke="#777" stroke-width="0.4"/>
<text transform="translate(470.5 300.9) rotate(-45)" font-size="3.6" text-anchor="end" fill="#333">hy3</text>
<text x="486.6" y="212.3" font-size="3.7" font-weight="bold" fill="#111">Sample</text>
<rect x="486.7" y="213.5" width="6.2" height="5.8" fill="#f4f4f4"/>
<rect x="487.3" y="214.8" width="5.2" height="3.2" fill="#e41a1c" stroke="#555" stroke-width="0.3"/>
<text x="494" y="217.6" font-size="3.3" fill="#222">c1</text>
<rect x="486.7" y="219.5" width="6.2" height="5.8" fill="#f4f4f4"/>
<rect x="487.3" y="220.8" width="5.2" height="3.2" fill="#377eb8" stroke="#555" stroke-width="0.3"/>
<text x="494" y="223.6" font-size="3.3" fill="#222">c2</text>
<rect x="486.7" y="225.5" width="6.2" height="5.8" fill="#f4f4f4"/>
<rect x="487.3" y="226.8" width="5.2" height="3.2" fill="#4daf4a" stroke="#555" stroke-width="0.3"/>
<text x="494" y="229.6" font-size="3.3" fill="#222">c3</text>
<rect x="486.7" y="231.5" width="6.2" height="5.8" fill="#f4f4f4"/>
<rect x="487.3" y="232.8" width="5.2" height="3.2" fill="#984ea3" stroke="#555" stroke-width="0.3"/>
<text x="494" y="235.6" font-size="3.3" fill="#222">hy1</text>
<rect x="486.7" y="237.5" width="6.2" height="5.8" fill="#f4f4f4"/>
<rect x="487.3" y="238.8" width="5.2" height="3.2" fill="#ff7f00" stroke="#555" stroke-width="0.3"/>
<text x="494" y="241.6" font-size="3.3" fill="#222">hy2</text>
<rect x="486.7" y="243.5" width="6.2" height="5.8" fill="#f4f4f4"/>
<rect x="487.3" y="244.8" width="5.2" height="3.2" fill="#ffff33" stroke="#555" stroke-width="0.3"/>
<text x="494" y="247.6" font-size="3.3" fill="#222">hy3</text>
<circle cx="410.3" cy="372.8" r="47.3" fill="#e41a1c" fill-opacity="0.2"/>
<circle cx="444.1" cy="372.8" r="47.4" fill="#377eb8" fill-opacity="0.2"/>
<circle cx="410.3" cy="372.8" r="47.3" fill="none" stroke="#e5262b" stroke-width="1.1"/>
<circle cx="444.1" cy="372.8" r="47.4" fill="none" stroke="#3f83bd" stroke-width="1.1"/>
<text x="382.6" y="374.5" font-size="4.4" text-anchor="middle" fill="#2a2a2a">6981</text>
<text x="427.8" y="374.5" font-size="4.4" text-anchor="middle" fill="#2a2a2a">74211</text>
<text x="470.9" y="374.5" font-size="4.4" text-anchor="middle" fill="#2a2a2a">5647</text>
<text x="373.4" y="425.8" font-size="5" text-anchor="middle" fill="#e8353a">control</text>
<text x="373.4" y="432.4" font-size="5" text-anchor="middle" fill="#e8353a">(81192)</text>
<text x="481.5" y="425.8" font-size="5" text-anchor="middle" fill="#4a8ac2">hypoxia</text>
<text x="481.5" y="432.4" font-size="5" text-anchor="middle" fill="#4a8ac2">(79858)</text>
</svg></body></html>
